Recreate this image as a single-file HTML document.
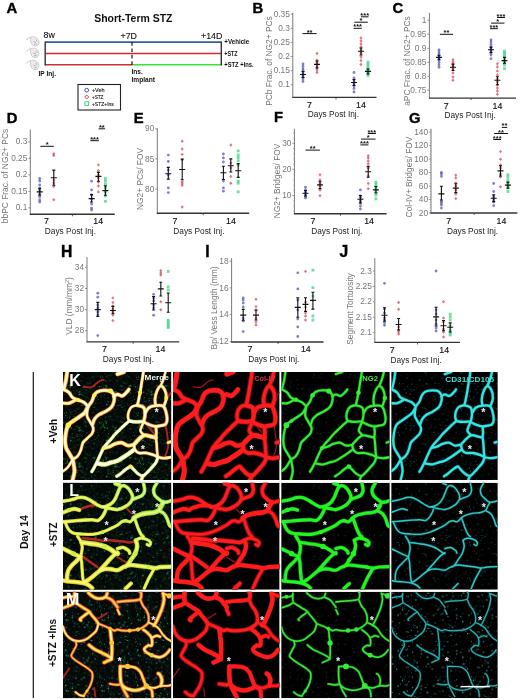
<!DOCTYPE html>
<html><head><meta charset="utf-8"><title>Short-Term STZ figure</title>
<style>
body{margin:0;background:#fff;}
svg{display:block}
text{font-family:'Liberation Sans',Arial,sans-serif}
.pl{font-size:14.8px;font-weight:bold;fill:#000;stroke:#000;stroke-width:0.4px}
.tk{font-size:8.3px;fill:#767676;text-anchor:end}
.xl{font-size:8.3px;fill:#222;text-anchor:middle}
.xn{font-size:8.8px;fill:#111;text-anchor:middle;stroke:#111;stroke-width:0.15px}
.yl{font-size:8.4px;fill:#757575;text-anchor:middle}
.st{font-size:7.5px;font-weight:bold;fill:#111;text-anchor:middle}
.ttl{font-size:11.3px;font-weight:bold;fill:#111}
.tl{font-size:8.8px;fill:#111;stroke:#111;stroke-width:0.12px}
.tb{font-size:6.6px;font-weight:bold;fill:#111}
.lg{font-size:5.8px;fill:#111;stroke:#111;stroke-width:0.12px}
.ml{font-size:16px;font-weight:bold;fill:#fff}
.rl{font-size:10.5px;font-weight:bold;fill:#111;text-anchor:middle}
</style></head>
<body><svg width="520" height="700" viewBox="0 0 520 700">
<rect width="520" height="700" fill="#fff"/>
<text x="6.5" y="12.6" class="pl">A</text>
<text x="94.2" y="21.9" class="ttl" textLength="78.3" lengthAdjust="spacingAndGlyphs">Short-Term STZ</text>
<text x="43.5" y="37.6" class="tl">8w</text>
<text x="120.5" y="39.2" class="tl">+7D</text>
<text x="201" y="38.8" class="tl">+14D</text>
<line x1="45.2" y1="42.1" x2="221.3" y2="42.1" stroke="#2e5fa0" stroke-width="1.6"/>
<line x1="45.2" y1="53.5" x2="221.3" y2="53.5" stroke="#d42a35" stroke-width="1.6"/>
<line x1="45.2" y1="64.7" x2="132" y2="64.7" stroke="#d42a35" stroke-width="1.6"/>
<line x1="132" y1="64.7" x2="221.3" y2="64.7" stroke="#3ee03a" stroke-width="1.6"/>
<line x1="45.2" y1="41.4" x2="45.2" y2="65.4" stroke="#333" stroke-width="1.4"/>
<line x1="221.3" y1="41.4" x2="221.3" y2="65.4" stroke="#333" stroke-width="1.4"/>
<line x1="132" y1="42" x2="132" y2="65.5" stroke="#1a1a1a" stroke-width="1.2" stroke-dasharray="3.7 2.7"/>
<text x="224.3" y="44.2" class="tb" textLength="25" lengthAdjust="spacingAndGlyphs">+Vehicle</text>
<text x="224.3" y="55.6" class="tb" textLength="13.3" lengthAdjust="spacingAndGlyphs">+STZ</text>
<text x="224.3" y="67" class="tb" textLength="29.4" lengthAdjust="spacingAndGlyphs">+STZ +Ins.</text>
<text x="131.5" y="74" class="tb">Ins.</text>
<text x="131.5" y="81.5" class="tb">Implant</text>
<text x="38.5" y="76.2" class="tb">IP Inj.</text>
<rect x="78" y="84.5" width="42.5" height="25.5" fill="#fff" stroke="#222" stroke-width="1.1"/>
<circle cx="86.7" cy="90.2" r="1.9" fill="none" stroke="#3a3ab0" stroke-width="0.9"/>
<path d="M86.7 95l2 2l-2 2l-2 -2z" fill="none" stroke="#d02b3a" stroke-width="0.9"/>
<rect x="84.9" y="101.8" width="3.6" height="3.6" fill="none" stroke="#2fd27a" stroke-width="0.9"/>
<text x="91.9" y="92.2" class="lg" textLength="12.7" lengthAdjust="spacingAndGlyphs">+Veh</text>
<text x="91.9" y="99" class="lg" textLength="11.6" lengthAdjust="spacingAndGlyphs">+STZ</text>
<text x="91.9" y="105.7" class="lg" textLength="21.9" lengthAdjust="spacingAndGlyphs">+STZ+Ins</text>
<g transform="translate(26,36)"><path d="M4.5 1.2C3 1.6 1.5 2.6 0.3 4" fill="none" stroke="#a8a8a8" stroke-width="0.7"/><path d="M4.6 1.4C6.5 0 9.8 0.6 11.6 2.6C13.4 4.6 13.4 7.6 11.8 9.2C10.2 10.6 7.4 10.4 6 8.8C4.8 7.4 4 3.4 4.6 1.4Z" fill="#ececec" stroke="#b4b4b4" stroke-width="0.6"/><path d="M7.5 5.5l2.5 1.2M9.8 3.6l1.4 1.8M8 8.4l2.6 -0.4" fill="none" stroke="#8a8a8a" stroke-width="0.6"/></g>
<g transform="translate(26,47.5)"><path d="M4.5 1.2C3 1.6 1.5 2.6 0.3 4" fill="none" stroke="#a8a8a8" stroke-width="0.7"/><path d="M4.6 1.4C6.5 0 9.8 0.6 11.6 2.6C13.4 4.6 13.4 7.6 11.8 9.2C10.2 10.6 7.4 10.4 6 8.8C4.8 7.4 4 3.4 4.6 1.4Z" fill="#ececec" stroke="#b4b4b4" stroke-width="0.6"/><path d="M7.5 5.5l2.5 1.2M9.8 3.6l1.4 1.8M8 8.4l2.6 -0.4" fill="none" stroke="#8a8a8a" stroke-width="0.6"/></g>
<g transform="translate(26,59.5)"><path d="M4.5 1.2C3 1.6 1.5 2.6 0.3 4" fill="none" stroke="#a8a8a8" stroke-width="0.7"/><path d="M4.6 1.4C6.5 0 9.8 0.6 11.6 2.6C13.4 4.6 13.4 7.6 11.8 9.2C10.2 10.6 7.4 10.4 6 8.8C4.8 7.4 4 3.4 4.6 1.4Z" fill="#ececec" stroke="#b4b4b4" stroke-width="0.6"/><path d="M7.5 5.5l2.5 1.2M9.8 3.6l1.4 1.8M8 8.4l2.6 -0.4" fill="none" stroke="#8a8a8a" stroke-width="0.6"/></g>
<text x="252.5" y="12.8" class="pl">B</text>
<line x1="292.8" y1="12.8" x2="292.8" y2="97.4" stroke="#7a7a7a" stroke-width="1"/>
<line x1="290.8" y1="14.1" x2="292.8" y2="14.1" stroke="#7a7a7a" stroke-width="0.8"/>
<text x="289.8" y="16.7" class="tk">0.35</text>
<line x1="290.8" y1="28.3" x2="292.8" y2="28.3" stroke="#7a7a7a" stroke-width="0.8"/>
<text x="289.8" y="30.900000000000002" class="tk">0.3</text>
<line x1="290.8" y1="42.4" x2="292.8" y2="42.4" stroke="#7a7a7a" stroke-width="0.8"/>
<text x="289.8" y="45.0" class="tk">0.25</text>
<line x1="290.8" y1="56.5" x2="292.8" y2="56.5" stroke="#7a7a7a" stroke-width="0.8"/>
<text x="289.8" y="59.1" class="tk">0.2</text>
<line x1="290.8" y1="70.6" x2="292.8" y2="70.6" stroke="#7a7a7a" stroke-width="0.8"/>
<text x="289.8" y="73.19999999999999" class="tk">0.15</text>
<line x1="290.8" y1="84.8" x2="292.8" y2="84.8" stroke="#7a7a7a" stroke-width="0.8"/>
<text x="289.8" y="87.39999999999999" class="tk">0.1</text>
<line x1="292.3" y1="97.4" x2="376.5" y2="97.4" stroke="#333" stroke-width="1.4"/>
<line x1="336" y1="97.4" x2="336" y2="99.4" stroke="#333" stroke-width="0.8"/>
<text x="309.5" y="107.8" class="xn">7</text>
<text x="361" y="107.8" class="xn">14</text>
<text x="307.8" y="117.2" class="xl" style="text-anchor:start">Days Post Inj.</text>
<text transform="translate(271.5,61) rotate(-90)" class="yl">PCb Frac. of NG2+ PCs</text>
<circle cx="303" cy="64" r="1.4" fill="#3a3ab0" opacity="0.65"/>
<circle cx="303" cy="66.5" r="1.4" fill="#3a3ab0" opacity="0.65"/>
<circle cx="303" cy="69" r="1.4" fill="#3a3ab0" opacity="0.65"/>
<circle cx="303" cy="71" r="1.4" fill="#3a3ab0" opacity="0.65"/>
<circle cx="303" cy="73" r="1.4" fill="#3a3ab0" opacity="0.65"/>
<circle cx="303" cy="75" r="1.4" fill="#3a3ab0" opacity="0.65"/>
<circle cx="303" cy="77" r="1.4" fill="#3a3ab0" opacity="0.65"/>
<circle cx="303" cy="79" r="1.4" fill="#3a3ab0" opacity="0.65"/>
<circle cx="303" cy="81.5" r="1.4" fill="#3a3ab0" opacity="0.65"/>
<path d="M303 71.5V77.5M301.5 71.5h3M301.5 77.5h3M300 74.5h6" stroke="#111" stroke-width="1.1" fill="none"/>
<path d="M317.0 51.8l1.6 1.7l-1.6 1.7l-1.6 -1.7z" fill="#d02b3a" opacity="0.65"/>
<path d="M317.0 58.3l1.6 1.7l-1.6 1.7l-1.6 -1.7z" fill="#d02b3a" opacity="0.65"/>
<path d="M317.0 60.3l1.6 1.7l-1.6 1.7l-1.6 -1.7z" fill="#d02b3a" opacity="0.65"/>
<path d="M317.0 62.3l1.6 1.7l-1.6 1.7l-1.6 -1.7z" fill="#d02b3a" opacity="0.65"/>
<path d="M317.0 64.3l1.6 1.7l-1.6 1.7l-1.6 -1.7z" fill="#d02b3a" opacity="0.65"/>
<path d="M317.0 66.3l1.6 1.7l-1.6 1.7l-1.6 -1.7z" fill="#d02b3a" opacity="0.65"/>
<path d="M317.0 68.3l1.6 1.7l-1.6 1.7l-1.6 -1.7z" fill="#d02b3a" opacity="0.65"/>
<path d="M317.0 70.8l1.6 1.7l-1.6 1.7l-1.6 -1.7z" fill="#d02b3a" opacity="0.65"/>
<path d="M317 61V68M315.5 61h3M315.5 68h3M314 64.4h6" stroke="#111" stroke-width="1.1" fill="none"/>
<circle cx="354" cy="72.5" r="1.4" fill="#3a3ab0" opacity="0.65"/>
<circle cx="354" cy="78" r="1.4" fill="#3a3ab0" opacity="0.65"/>
<circle cx="354" cy="81" r="1.4" fill="#3a3ab0" opacity="0.65"/>
<circle cx="354" cy="84" r="1.4" fill="#3a3ab0" opacity="0.65"/>
<circle cx="354" cy="86" r="1.4" fill="#3a3ab0" opacity="0.65"/>
<circle cx="354" cy="88.5" r="1.4" fill="#3a3ab0" opacity="0.65"/>
<circle cx="354" cy="92" r="1.4" fill="#3a3ab0" opacity="0.65"/>
<path d="M354 79.5V85.5M352.5 79.5h3M352.5 85.5h3M351 82.5h6" stroke="#111" stroke-width="1.1" fill="none"/>
<path d="M361.0 36.3l1.6 1.7l-1.6 1.7l-1.6 -1.7z" fill="#d02b3a" opacity="0.65"/>
<path d="M361.0 39.3l1.6 1.7l-1.6 1.7l-1.6 -1.7z" fill="#d02b3a" opacity="0.65"/>
<path d="M361.0 42.3l1.6 1.7l-1.6 1.7l-1.6 -1.7z" fill="#d02b3a" opacity="0.65"/>
<path d="M361.0 45.3l1.6 1.7l-1.6 1.7l-1.6 -1.7z" fill="#d02b3a" opacity="0.65"/>
<path d="M361.0 48.3l1.6 1.7l-1.6 1.7l-1.6 -1.7z" fill="#d02b3a" opacity="0.65"/>
<path d="M361.0 51.3l1.6 1.7l-1.6 1.7l-1.6 -1.7z" fill="#d02b3a" opacity="0.65"/>
<path d="M361.0 55.3l1.6 1.7l-1.6 1.7l-1.6 -1.7z" fill="#d02b3a" opacity="0.65"/>
<path d="M361.0 58.8l1.6 1.7l-1.6 1.7l-1.6 -1.7z" fill="#d02b3a" opacity="0.65"/>
<path d="M361.0 62.8l1.6 1.7l-1.6 1.7l-1.6 -1.7z" fill="#d02b3a" opacity="0.65"/>
<path d="M361 48V55M359.5 48h3M359.5 55h3M358 51.2h6" stroke="#111" stroke-width="1.1" fill="none"/>
<rect x="366.6" y="60.6" width="2.8" height="2.8" fill="#2fd27a" opacity="0.7"/>
<rect x="366.6" y="62.6" width="2.8" height="2.8" fill="#2fd27a" opacity="0.7"/>
<rect x="366.6" y="64.6" width="2.8" height="2.8" fill="#2fd27a" opacity="0.7"/>
<rect x="366.6" y="66.6" width="2.8" height="2.8" fill="#2fd27a" opacity="0.7"/>
<rect x="366.6" y="68.6" width="2.8" height="2.8" fill="#2fd27a" opacity="0.7"/>
<rect x="366.6" y="70.6" width="2.8" height="2.8" fill="#2fd27a" opacity="0.7"/>
<rect x="366.6" y="72.1" width="2.8" height="2.8" fill="#2fd27a" opacity="0.7"/>
<rect x="366.6" y="74.1" width="2.8" height="2.8" fill="#2fd27a" opacity="0.7"/>
<path d="M368 69V74M366.5 69h3M366.5 74h3M365 71.4h6" stroke="#111" stroke-width="1.1" fill="none"/>
<line x1="302.5" y1="33.6" x2="316.6" y2="33.6" stroke="#111" stroke-width="1"/>
<text x="309.55" y="34.6" class="st">**</text>
<line x1="353.6" y1="28.3" x2="361.7" y2="28.3" stroke="#111" stroke-width="1"/>
<text x="357.65" y="29.3" class="st">***</text>
<line x1="354.3" y1="22.2" x2="367.8" y2="22.2" stroke="#111" stroke-width="1"/>
<text x="361.05" y="23.2" class="st">*</text>
<line x1="361" y1="16.8" x2="368.5" y2="16.8" stroke="#111" stroke-width="1"/>
<text x="364.75" y="17.8" class="st">***</text>
<text x="392.5" y="13.2" class="pl">C</text>
<line x1="429.4" y1="12.8" x2="429.4" y2="98.1" stroke="#7a7a7a" stroke-width="1"/>
<line x1="427.4" y1="20.2" x2="429.4" y2="20.2" stroke="#7a7a7a" stroke-width="0.8"/>
<text x="426.4" y="22.8" class="tk">1</text>
<line x1="427.4" y1="34.3" x2="429.4" y2="34.3" stroke="#7a7a7a" stroke-width="0.8"/>
<text x="426.4" y="36.9" class="tk">0.95</text>
<line x1="427.4" y1="48.4" x2="429.4" y2="48.4" stroke="#7a7a7a" stroke-width="0.8"/>
<text x="426.4" y="51.0" class="tk">0.9</text>
<line x1="427.4" y1="62.4" x2="429.4" y2="62.4" stroke="#7a7a7a" stroke-width="0.8"/>
<text x="426.4" y="65.0" class="tk">0.85</text>
<line x1="427.4" y1="76.3" x2="429.4" y2="76.3" stroke="#7a7a7a" stroke-width="0.8"/>
<text x="426.4" y="78.89999999999999" class="tk">0.8</text>
<line x1="427.4" y1="90.3" x2="429.4" y2="90.3" stroke="#7a7a7a" stroke-width="0.8"/>
<text x="426.4" y="92.89999999999999" class="tk">0.75</text>
<line x1="428.9" y1="98.1" x2="516" y2="98.1" stroke="#333" stroke-width="1.4"/>
<line x1="471" y1="98.1" x2="471" y2="100.1" stroke="#333" stroke-width="0.8"/>
<text x="446.2" y="108.5" class="xn">7</text>
<text x="497.4" y="108.5" class="xn">14</text>
<text x="444.5" y="118.4" class="xl" style="text-anchor:start">Days Post Inj.</text>
<text transform="translate(409.5,61) rotate(-90)" class="yl">aPC Frac. of NG2+ PCs</text>
<circle cx="439" cy="49.8" r="1.4" fill="#3a3ab0" opacity="0.65"/>
<circle cx="439" cy="52" r="1.4" fill="#3a3ab0" opacity="0.65"/>
<circle cx="439" cy="54" r="1.4" fill="#3a3ab0" opacity="0.65"/>
<circle cx="439" cy="56" r="1.4" fill="#3a3ab0" opacity="0.65"/>
<circle cx="439" cy="58" r="1.4" fill="#3a3ab0" opacity="0.65"/>
<circle cx="439" cy="60" r="1.4" fill="#3a3ab0" opacity="0.65"/>
<circle cx="439" cy="62.5" r="1.4" fill="#3a3ab0" opacity="0.65"/>
<circle cx="439" cy="65" r="1.4" fill="#3a3ab0" opacity="0.65"/>
<circle cx="439" cy="67.3" r="1.4" fill="#3a3ab0" opacity="0.65"/>
<path d="M439 55.2V59.8M437.5 55.2h3M437.5 59.8h3M436 57.4h6" stroke="#111" stroke-width="1.1" fill="none"/>
<path d="M453.0 58.1l1.6 1.7l-1.6 1.7l-1.6 -1.7z" fill="#d02b3a" opacity="0.65"/>
<path d="M453.0 60.3l1.6 1.7l-1.6 1.7l-1.6 -1.7z" fill="#d02b3a" opacity="0.65"/>
<path d="M453.0 62.3l1.6 1.7l-1.6 1.7l-1.6 -1.7z" fill="#d02b3a" opacity="0.65"/>
<path d="M453.0 64.3l1.6 1.7l-1.6 1.7l-1.6 -1.7z" fill="#d02b3a" opacity="0.65"/>
<path d="M453.0 66.3l1.6 1.7l-1.6 1.7l-1.6 -1.7z" fill="#d02b3a" opacity="0.65"/>
<path d="M453.0 68.3l1.6 1.7l-1.6 1.7l-1.6 -1.7z" fill="#d02b3a" opacity="0.65"/>
<path d="M453.0 71.3l1.6 1.7l-1.6 1.7l-1.6 -1.7z" fill="#d02b3a" opacity="0.65"/>
<path d="M453.0 75.3l1.6 1.7l-1.6 1.7l-1.6 -1.7z" fill="#d02b3a" opacity="0.65"/>
<path d="M453.0 78.5l1.6 1.7l-1.6 1.7l-1.6 -1.7z" fill="#d02b3a" opacity="0.65"/>
<path d="M453 64.1V70.5M451.5 64.1h3M451.5 70.5h3M450 67.3h6" stroke="#111" stroke-width="1.1" fill="none"/>
<circle cx="491" cy="39.8" r="1.4" fill="#3a3ab0" opacity="0.65"/>
<circle cx="491" cy="42" r="1.4" fill="#3a3ab0" opacity="0.65"/>
<circle cx="491" cy="44.5" r="1.4" fill="#3a3ab0" opacity="0.65"/>
<circle cx="491" cy="47" r="1.4" fill="#3a3ab0" opacity="0.65"/>
<circle cx="491" cy="49" r="1.4" fill="#3a3ab0" opacity="0.65"/>
<circle cx="491" cy="51" r="1.4" fill="#3a3ab0" opacity="0.65"/>
<circle cx="491" cy="53" r="1.4" fill="#3a3ab0" opacity="0.65"/>
<circle cx="491" cy="55" r="1.4" fill="#3a3ab0" opacity="0.65"/>
<circle cx="491" cy="58.7" r="1.4" fill="#3a3ab0" opacity="0.65"/>
<path d="M491 47.1V52.5M489.5 47.1h3M489.5 52.5h3M488 49.8h6" stroke="#111" stroke-width="1.1" fill="none"/>
<path d="M497.4 62.1l1.6 1.7l-1.6 1.7l-1.6 -1.7z" fill="#d02b3a" opacity="0.65"/>
<path d="M497.4 65.3l1.6 1.7l-1.6 1.7l-1.6 -1.7z" fill="#d02b3a" opacity="0.65"/>
<path d="M497.4 69.3l1.6 1.7l-1.6 1.7l-1.6 -1.7z" fill="#d02b3a" opacity="0.65"/>
<path d="M497.4 73.3l1.6 1.7l-1.6 1.7l-1.6 -1.7z" fill="#d02b3a" opacity="0.65"/>
<path d="M497.4 77.3l1.6 1.7l-1.6 1.7l-1.6 -1.7z" fill="#d02b3a" opacity="0.65"/>
<path d="M497.4 80.3l1.6 1.7l-1.6 1.7l-1.6 -1.7z" fill="#d02b3a" opacity="0.65"/>
<path d="M497.4 83.3l1.6 1.7l-1.6 1.7l-1.6 -1.7z" fill="#d02b3a" opacity="0.65"/>
<path d="M497.4 86.3l1.6 1.7l-1.6 1.7l-1.6 -1.7z" fill="#d02b3a" opacity="0.65"/>
<path d="M497.4 89.3l1.6 1.7l-1.6 1.7l-1.6 -1.7z" fill="#d02b3a" opacity="0.65"/>
<path d="M497.4 92.5l1.6 1.7l-1.6 1.7l-1.6 -1.7z" fill="#d02b3a" opacity="0.65"/>
<path d="M497.4 76.7V84.8M495.9 76.7h3M495.9 84.8h3M494.4 80.2h6" stroke="#111" stroke-width="1.1" fill="none"/>
<rect x="503.1" y="49.8" width="2.8" height="2.8" fill="#2fd27a" opacity="0.7"/>
<rect x="503.1" y="51.6" width="2.8" height="2.8" fill="#2fd27a" opacity="0.7"/>
<rect x="503.1" y="53.6" width="2.8" height="2.8" fill="#2fd27a" opacity="0.7"/>
<rect x="503.1" y="55.6" width="2.8" height="2.8" fill="#2fd27a" opacity="0.7"/>
<rect x="503.1" y="57.6" width="2.8" height="2.8" fill="#2fd27a" opacity="0.7"/>
<rect x="503.1" y="59.6" width="2.8" height="2.8" fill="#2fd27a" opacity="0.7"/>
<rect x="503.1" y="61.6" width="2.8" height="2.8" fill="#2fd27a" opacity="0.7"/>
<rect x="503.1" y="63.6" width="2.8" height="2.8" fill="#2fd27a" opacity="0.7"/>
<rect x="503.1" y="67.3" width="2.8" height="2.8" fill="#2fd27a" opacity="0.7"/>
<path d="M504.5 57.4V63.3M503.0 57.4h3M503.0 63.3h3M501.5 60.6h6" stroke="#111" stroke-width="1.1" fill="none"/>
<line x1="439.9" y1="34.3" x2="453" y2="34.3" stroke="#111" stroke-width="1"/>
<text x="446.45" y="35.3" class="st">**</text>
<line x1="490" y1="28.7" x2="497.8" y2="28.7" stroke="#111" stroke-width="1"/>
<text x="493.9" y="29.7" class="st">***</text>
<line x1="491" y1="23.1" x2="504.5" y2="23.1" stroke="#111" stroke-width="1"/>
<text x="497.75" y="24.1" class="st">*</text>
<line x1="497" y1="17.5" x2="505" y2="17.5" stroke="#111" stroke-width="1"/>
<text x="501.0" y="18.5" class="st">***</text>
<text x="6.7" y="122.8" class="pl">D</text>
<line x1="30.3" y1="129.5" x2="30.3" y2="214.3" stroke="#7a7a7a" stroke-width="1"/>
<line x1="28.3" y1="141.8" x2="30.3" y2="141.8" stroke="#7a7a7a" stroke-width="0.8"/>
<text x="27.3" y="144.4" class="tk">0.3</text>
<line x1="28.3" y1="158.3" x2="30.3" y2="158.3" stroke="#7a7a7a" stroke-width="0.8"/>
<text x="27.3" y="160.9" class="tk">0.25</text>
<line x1="28.3" y1="174.8" x2="30.3" y2="174.8" stroke="#7a7a7a" stroke-width="0.8"/>
<text x="27.3" y="177.4" class="tk">0.2</text>
<line x1="28.3" y1="191.3" x2="30.3" y2="191.3" stroke="#7a7a7a" stroke-width="0.8"/>
<text x="27.3" y="193.9" class="tk">0.15</text>
<line x1="28.3" y1="207.8" x2="30.3" y2="207.8" stroke="#7a7a7a" stroke-width="0.8"/>
<text x="27.3" y="210.4" class="tk">0.1</text>
<line x1="29.8" y1="214.3" x2="114.8" y2="214.3" stroke="#333" stroke-width="1.4"/>
<line x1="72.4" y1="214.3" x2="72.4" y2="216.3" stroke="#333" stroke-width="0.8"/>
<text x="46.5" y="224.2" class="xn">7</text>
<text x="98.2" y="224.2" class="xn">14</text>
<text x="44.8" y="234" class="xl" style="text-anchor:start">Days Post Inj.</text>
<text transform="translate(8.4,176) rotate(-90)" class="yl">bbPC Frac. of NG2+ PCs</text>
<circle cx="39.7" cy="178.5" r="1.4" fill="#3a3ab0" opacity="0.65"/>
<circle cx="39.7" cy="181" r="1.4" fill="#3a3ab0" opacity="0.65"/>
<circle cx="39.7" cy="185" r="1.4" fill="#3a3ab0" opacity="0.65"/>
<circle cx="39.7" cy="188" r="1.4" fill="#3a3ab0" opacity="0.65"/>
<circle cx="39.7" cy="191" r="1.4" fill="#3a3ab0" opacity="0.65"/>
<circle cx="39.7" cy="194" r="1.4" fill="#3a3ab0" opacity="0.65"/>
<circle cx="39.7" cy="197" r="1.4" fill="#3a3ab0" opacity="0.65"/>
<circle cx="39.7" cy="200" r="1.4" fill="#3a3ab0" opacity="0.65"/>
<circle cx="39.7" cy="202" r="1.4" fill="#3a3ab0" opacity="0.65"/>
<path d="M39.7 188.6V195.3M38.2 188.6h3M38.2 195.3h3M36.7 191.9h6" stroke="#111" stroke-width="1.1" fill="none"/>
<path d="M53.8 152.0l1.6 1.7l-1.6 1.7l-1.6 -1.7z" fill="#d02b3a" opacity="0.65"/>
<path d="M53.8 153.8l1.6 1.7l-1.6 1.7l-1.6 -1.7z" fill="#d02b3a" opacity="0.65"/>
<path d="M53.8 178.3l1.6 1.7l-1.6 1.7l-1.6 -1.7z" fill="#d02b3a" opacity="0.65"/>
<path d="M53.8 181.3l1.6 1.7l-1.6 1.7l-1.6 -1.7z" fill="#d02b3a" opacity="0.65"/>
<path d="M53.8 184.8l1.6 1.7l-1.6 1.7l-1.6 -1.7z" fill="#d02b3a" opacity="0.65"/>
<path d="M53.8 198.0l1.6 1.7l-1.6 1.7l-1.6 -1.7z" fill="#d02b3a" opacity="0.65"/>
<path d="M53.8 170.1V185.2M52.3 170.1h3M52.3 185.2h3M50.8 177.8h6" stroke="#111" stroke-width="1.1" fill="none"/>
<circle cx="91.6" cy="181.2" r="1.4" fill="#3a3ab0" opacity="0.65"/>
<circle cx="91.6" cy="189.9" r="1.4" fill="#3a3ab0" opacity="0.65"/>
<circle cx="91.6" cy="195" r="1.4" fill="#3a3ab0" opacity="0.65"/>
<circle cx="91.6" cy="199" r="1.4" fill="#3a3ab0" opacity="0.65"/>
<circle cx="91.6" cy="204" r="1.4" fill="#3a3ab0" opacity="0.65"/>
<circle cx="91.6" cy="208.1" r="1.4" fill="#3a3ab0" opacity="0.65"/>
<circle cx="91.6" cy="210" r="1.4" fill="#3a3ab0" opacity="0.65"/>
<path d="M91.6 194.6V202M90.1 194.6h3M90.1 202h3M88.6 198.6h6" stroke="#111" stroke-width="1.1" fill="none"/>
<path d="M98.4 163.2l1.6 1.7l-1.6 1.7l-1.6 -1.7z" fill="#d02b3a" opacity="0.65"/>
<path d="M98.4 168.9l1.6 1.7l-1.6 1.7l-1.6 -1.7z" fill="#d02b3a" opacity="0.65"/>
<path d="M98.4 173.3l1.6 1.7l-1.6 1.7l-1.6 -1.7z" fill="#d02b3a" opacity="0.65"/>
<path d="M98.4 176.3l1.6 1.7l-1.6 1.7l-1.6 -1.7z" fill="#d02b3a" opacity="0.65"/>
<path d="M98.4 180.3l1.6 1.7l-1.6 1.7l-1.6 -1.7z" fill="#d02b3a" opacity="0.65"/>
<path d="M98.4 184.3l1.6 1.7l-1.6 1.7l-1.6 -1.7z" fill="#d02b3a" opacity="0.65"/>
<path d="M98.4 190.2l1.6 1.7l-1.6 1.7l-1.6 -1.7z" fill="#d02b3a" opacity="0.65"/>
<path d="M98.4 172.4V181.2M96.9 172.4h3M96.9 181.2h3M95.4 176.4h6" stroke="#111" stroke-width="1.1" fill="none"/>
<rect x="104.0" y="177.1" width="2.8" height="2.8" fill="#2fd27a" opacity="0.7"/>
<rect x="104.0" y="179.6" width="2.8" height="2.8" fill="#2fd27a" opacity="0.7"/>
<rect x="104.0" y="182.6" width="2.8" height="2.8" fill="#2fd27a" opacity="0.7"/>
<rect x="104.0" y="186.6" width="2.8" height="2.8" fill="#2fd27a" opacity="0.7"/>
<rect x="104.0" y="190.6" width="2.8" height="2.8" fill="#2fd27a" opacity="0.7"/>
<rect x="104.0" y="194.6" width="2.8" height="2.8" fill="#2fd27a" opacity="0.7"/>
<rect x="104.0" y="199.9" width="2.8" height="2.8" fill="#2fd27a" opacity="0.7"/>
<path d="M105.4 185.9V195.3M103.9 185.9h3M103.9 195.3h3M102.4 190.6h6" stroke="#111" stroke-width="1.1" fill="none"/>
<line x1="40.4" y1="146.3" x2="53.8" y2="146.3" stroke="#111" stroke-width="1"/>
<text x="47.099999999999994" y="147.3" class="st">*</text>
<line x1="90.3" y1="140.7" x2="98.9" y2="140.7" stroke="#111" stroke-width="1"/>
<text x="94.6" y="141.7" class="st">***</text>
<line x1="98.6" y1="128.8" x2="105.1" y2="128.8" stroke="#111" stroke-width="1"/>
<text x="101.85" y="129.8" class="st">**</text>
<text x="133.7" y="122.8" class="pl">E</text>
<line x1="157.3" y1="128.2" x2="157.3" y2="213.3" stroke="#7a7a7a" stroke-width="1"/>
<line x1="155.3" y1="128.8" x2="157.3" y2="128.8" stroke="#7a7a7a" stroke-width="0.8"/>
<text x="154.3" y="131.4" class="tk">90</text>
<line x1="155.3" y1="158.9" x2="157.3" y2="158.9" stroke="#7a7a7a" stroke-width="0.8"/>
<text x="154.3" y="161.5" class="tk">85</text>
<line x1="155.3" y1="189.2" x2="157.3" y2="189.2" stroke="#7a7a7a" stroke-width="0.8"/>
<text x="154.3" y="191.79999999999998" class="tk">80</text>
<line x1="156.8" y1="213.3" x2="249.2" y2="213.3" stroke="#333" stroke-width="1.4"/>
<line x1="203.2" y1="213.3" x2="203.2" y2="215.3" stroke="#333" stroke-width="0.8"/>
<text x="175" y="224" class="xn">7</text>
<text x="231" y="224" class="xn">14</text>
<text x="173.3" y="234" class="xl" style="text-anchor:start">Days Post Inj.</text>
<text transform="translate(142.5,179) rotate(-90)" class="yl">NG2+ PCs/ FOV</text>
<circle cx="168.3" cy="155.1" r="1.4" fill="#3a3ab0" opacity="0.65"/>
<circle cx="168.3" cy="161.5" r="1.4" fill="#3a3ab0" opacity="0.65"/>
<circle cx="168.3" cy="170" r="1.4" fill="#3a3ab0" opacity="0.65"/>
<circle cx="168.3" cy="175" r="1.4" fill="#3a3ab0" opacity="0.65"/>
<circle cx="168.3" cy="187.9" r="1.4" fill="#3a3ab0" opacity="0.65"/>
<circle cx="168.3" cy="192.6" r="1.4" fill="#3a3ab0" opacity="0.65"/>
<path d="M168.3 167.4V179.1M166.8 167.4h3M166.8 179.1h3M165.3 173.7h6" stroke="#111" stroke-width="1.1" fill="none"/>
<path d="M182.2 139.5l1.6 1.7l-1.6 1.7l-1.6 -1.7z" fill="#d02b3a" opacity="0.65"/>
<path d="M182.2 147.3l1.6 1.7l-1.6 1.7l-1.6 -1.7z" fill="#d02b3a" opacity="0.65"/>
<path d="M182.2 152.7l1.6 1.7l-1.6 1.7l-1.6 -1.7z" fill="#d02b3a" opacity="0.65"/>
<path d="M182.2 158.3l1.6 1.7l-1.6 1.7l-1.6 -1.7z" fill="#d02b3a" opacity="0.65"/>
<path d="M182.2 180.1l1.6 1.7l-1.6 1.7l-1.6 -1.7z" fill="#d02b3a" opacity="0.65"/>
<path d="M182.2 181.8l1.6 1.7l-1.6 1.7l-1.6 -1.7z" fill="#d02b3a" opacity="0.65"/>
<path d="M182.2 183.5l1.6 1.7l-1.6 1.7l-1.6 -1.7z" fill="#d02b3a" opacity="0.65"/>
<path d="M182.2 205.3l1.6 1.7l-1.6 1.7l-1.6 -1.7z" fill="#d02b3a" opacity="0.65"/>
<path d="M182.2 159.1V179.8M180.7 159.1h3M180.7 179.8h3M179.2 169.5h6" stroke="#111" stroke-width="1.1" fill="none"/>
<circle cx="223.4" cy="154" r="1.4" fill="#3a3ab0" opacity="0.65"/>
<circle cx="223.4" cy="157.9" r="1.4" fill="#3a3ab0" opacity="0.65"/>
<circle cx="223.4" cy="162" r="1.4" fill="#3a3ab0" opacity="0.65"/>
<circle cx="223.4" cy="181.1" r="1.4" fill="#3a3ab0" opacity="0.65"/>
<circle cx="223.4" cy="187.9" r="1.4" fill="#3a3ab0" opacity="0.65"/>
<circle cx="223.4" cy="191.2" r="1.4" fill="#3a3ab0" opacity="0.65"/>
<path d="M223.4 166.3V179.5M221.9 166.3h3M221.9 179.5h3M220.4 172.8h6" stroke="#111" stroke-width="1.1" fill="none"/>
<path d="M230.8 143.3l1.6 1.7l-1.6 1.7l-1.6 -1.7z" fill="#d02b3a" opacity="0.65"/>
<path d="M230.8 161.3l1.6 1.7l-1.6 1.7l-1.6 -1.7z" fill="#d02b3a" opacity="0.65"/>
<path d="M230.8 166.3l1.6 1.7l-1.6 1.7l-1.6 -1.7z" fill="#d02b3a" opacity="0.65"/>
<path d="M230.8 174.7l1.6 1.7l-1.6 1.7l-1.6 -1.7z" fill="#d02b3a" opacity="0.65"/>
<path d="M230.8 181.5l1.6 1.7l-1.6 1.7l-1.6 -1.7z" fill="#d02b3a" opacity="0.65"/>
<path d="M230.8 158.9V172M229.3 158.9h3M229.3 172h3M227.8 165.7h6" stroke="#111" stroke-width="1.1" fill="none"/>
<rect x="236.8" y="149.5" width="2.8" height="2.8" fill="#2fd27a" opacity="0.7"/>
<rect x="236.8" y="153.6" width="2.8" height="2.8" fill="#2fd27a" opacity="0.7"/>
<rect x="236.8" y="156.2" width="2.8" height="2.8" fill="#2fd27a" opacity="0.7"/>
<rect x="236.8" y="159.3" width="2.8" height="2.8" fill="#2fd27a" opacity="0.7"/>
<rect x="236.8" y="163.6" width="2.8" height="2.8" fill="#2fd27a" opacity="0.7"/>
<rect x="236.8" y="179.6" width="2.8" height="2.8" fill="#2fd27a" opacity="0.7"/>
<rect x="236.8" y="181.8" width="2.8" height="2.8" fill="#2fd27a" opacity="0.7"/>
<rect x="236.8" y="190.5" width="2.8" height="2.8" fill="#2fd27a" opacity="0.7"/>
<path d="M238.2 163.6V177.4M236.7 163.6h3M236.7 177.4h3M235.2 170.8h6" stroke="#111" stroke-width="1.1" fill="none"/>
<text x="274" y="122.3" class="pl">F</text>
<line x1="294.4" y1="128.8" x2="294.4" y2="213.7" stroke="#7a7a7a" stroke-width="1"/>
<line x1="292.4" y1="143.2" x2="294.4" y2="143.2" stroke="#7a7a7a" stroke-width="0.8"/>
<text x="291.4" y="145.79999999999998" class="tk">30</text>
<line x1="292.4" y1="169.4" x2="294.4" y2="169.4" stroke="#7a7a7a" stroke-width="0.8"/>
<text x="291.4" y="172.0" class="tk">20</text>
<line x1="292.4" y1="195.5" x2="294.4" y2="195.5" stroke="#7a7a7a" stroke-width="0.8"/>
<text x="291.4" y="198.1" class="tk">10</text>
<path d="M293.2 132.7h1.2M293.2 138.0h1.2M293.2 148.4h1.2M293.2 153.7h1.2M293.2 158.9h1.2M293.2 164.2h1.2M293.2 174.6h1.2M293.2 179.9h1.2M293.2 185.1h1.2M293.2 190.4h1.2M293.2 200.8h1.2M293.2 206.1h1.2M293.2 211.3h1.2" stroke="#8a8a8a" stroke-width="0.6"/>
<line x1="293.9" y1="213.7" x2="386.6" y2="213.7" stroke="#333" stroke-width="1.4"/>
<line x1="340.5" y1="213.7" x2="340.5" y2="215.7" stroke="#333" stroke-width="0.8"/>
<text x="312.9" y="224.2" class="xn">7</text>
<text x="369.1" y="224.2" class="xn">14</text>
<text x="311.2" y="234.2" class="xl" style="text-anchor:start">Days Post Inj.</text>
<text transform="translate(279.5,181) rotate(-90)" class="yl">NG2+ Bridges/ FOV</text>
<circle cx="305.5" cy="187.2" r="1.4" fill="#3a3ab0" opacity="0.65"/>
<circle cx="305.5" cy="190" r="1.4" fill="#3a3ab0" opacity="0.65"/>
<circle cx="305.5" cy="192" r="1.4" fill="#3a3ab0" opacity="0.65"/>
<circle cx="305.5" cy="194" r="1.4" fill="#3a3ab0" opacity="0.65"/>
<circle cx="305.5" cy="196" r="1.4" fill="#3a3ab0" opacity="0.65"/>
<circle cx="305.5" cy="198" r="1.4" fill="#3a3ab0" opacity="0.65"/>
<path d="M305.5 190.5V196M304.0 190.5h3M304.0 196h3M302.5 193.3h6" stroke="#111" stroke-width="1.1" fill="none"/>
<path d="M320.0 173.0l1.6 1.7l-1.6 1.7l-1.6 -1.7z" fill="#d02b3a" opacity="0.65"/>
<path d="M320.0 178.3l1.6 1.7l-1.6 1.7l-1.6 -1.7z" fill="#d02b3a" opacity="0.65"/>
<path d="M320.0 181.3l1.6 1.7l-1.6 1.7l-1.6 -1.7z" fill="#d02b3a" opacity="0.65"/>
<path d="M320.0 184.3l1.6 1.7l-1.6 1.7l-1.6 -1.7z" fill="#d02b3a" opacity="0.65"/>
<path d="M320.0 188.3l1.6 1.7l-1.6 1.7l-1.6 -1.7z" fill="#d02b3a" opacity="0.65"/>
<path d="M320.0 194.0l1.6 1.7l-1.6 1.7l-1.6 -1.7z" fill="#d02b3a" opacity="0.65"/>
<path d="M320 181.2V188.6M318.5 181.2h3M318.5 188.6h3M317 184.9h6" stroke="#111" stroke-width="1.1" fill="none"/>
<circle cx="360.4" cy="189.9" r="1.4" fill="#3a3ab0" opacity="0.65"/>
<circle cx="360.4" cy="196" r="1.4" fill="#3a3ab0" opacity="0.65"/>
<circle cx="360.4" cy="198" r="1.4" fill="#3a3ab0" opacity="0.65"/>
<circle cx="360.4" cy="201" r="1.4" fill="#3a3ab0" opacity="0.65"/>
<circle cx="360.4" cy="203" r="1.4" fill="#3a3ab0" opacity="0.65"/>
<circle cx="360.4" cy="206" r="1.4" fill="#3a3ab0" opacity="0.65"/>
<circle cx="360.4" cy="209" r="1.4" fill="#3a3ab0" opacity="0.65"/>
<path d="M360.4 195.5V203M358.9 195.5h3M358.9 203h3M357.4 199.3h6" stroke="#111" stroke-width="1.1" fill="none"/>
<path d="M368.2 154.0l1.6 1.7l-1.6 1.7l-1.6 -1.7z" fill="#d02b3a" opacity="0.65"/>
<path d="M368.2 156.3l1.6 1.7l-1.6 1.7l-1.6 -1.7z" fill="#d02b3a" opacity="0.65"/>
<path d="M368.2 159.3l1.6 1.7l-1.6 1.7l-1.6 -1.7z" fill="#d02b3a" opacity="0.65"/>
<path d="M368.2 162.0l1.6 1.7l-1.6 1.7l-1.6 -1.7z" fill="#d02b3a" opacity="0.65"/>
<path d="M368.2 166.3l1.6 1.7l-1.6 1.7l-1.6 -1.7z" fill="#d02b3a" opacity="0.65"/>
<path d="M368.2 174.3l1.6 1.7l-1.6 1.7l-1.6 -1.7z" fill="#d02b3a" opacity="0.65"/>
<path d="M368.2 181.8l1.6 1.7l-1.6 1.7l-1.6 -1.7z" fill="#d02b3a" opacity="0.65"/>
<path d="M368.2 187.1l1.6 1.7l-1.6 1.7l-1.6 -1.7z" fill="#d02b3a" opacity="0.65"/>
<path d="M368.2 166.4V177.2M366.7 166.4h3M366.7 177.2h3M365.2 171.8h6" stroke="#111" stroke-width="1.1" fill="none"/>
<rect x="374.5" y="180.7" width="2.8" height="2.8" fill="#2fd27a" opacity="0.7"/>
<rect x="374.5" y="182.6" width="2.8" height="2.8" fill="#2fd27a" opacity="0.7"/>
<rect x="374.5" y="185.1" width="2.8" height="2.8" fill="#2fd27a" opacity="0.7"/>
<rect x="374.5" y="187.6" width="2.8" height="2.8" fill="#2fd27a" opacity="0.7"/>
<rect x="374.5" y="190.6" width="2.8" height="2.8" fill="#2fd27a" opacity="0.7"/>
<rect x="374.5" y="193.6" width="2.8" height="2.8" fill="#2fd27a" opacity="0.7"/>
<rect x="374.5" y="197.5" width="2.8" height="2.8" fill="#2fd27a" opacity="0.7"/>
<path d="M375.9 186.5V193M374.4 186.5h3M374.4 193h3M372.9 189.9h6" stroke="#111" stroke-width="1.1" fill="none"/>
<line x1="305.5" y1="150.1" x2="319.9" y2="150.1" stroke="#111" stroke-width="1"/>
<text x="312.7" y="151.1" class="st">**</text>
<line x1="360.4" y1="144.9" x2="368.5" y2="144.9" stroke="#111" stroke-width="1"/>
<text x="364.45" y="145.9" class="st">***</text>
<line x1="361" y1="139.1" x2="375.5" y2="139.1" stroke="#111" stroke-width="1"/>
<text x="368.25" y="140.1" class="st">*</text>
<line x1="367.8" y1="133.5" x2="375.9" y2="133.5" stroke="#111" stroke-width="1"/>
<text x="371.85" y="134.5" class="st">***</text>
<text x="409.1" y="122.8" class="pl">G</text>
<line x1="431" y1="128.8" x2="431" y2="213" stroke="#7a7a7a" stroke-width="1"/>
<line x1="429" y1="132.2" x2="431" y2="132.2" stroke="#7a7a7a" stroke-width="0.8"/>
<text x="428" y="134.79999999999998" class="tk">140</text>
<line x1="429" y1="145.7" x2="431" y2="145.7" stroke="#7a7a7a" stroke-width="0.8"/>
<text x="428" y="148.29999999999998" class="tk">120</text>
<line x1="429" y1="159.1" x2="431" y2="159.1" stroke="#7a7a7a" stroke-width="0.8"/>
<text x="428" y="161.7" class="tk">100</text>
<line x1="429" y1="172.6" x2="431" y2="172.6" stroke="#7a7a7a" stroke-width="0.8"/>
<text x="428" y="175.2" class="tk">80</text>
<line x1="429" y1="186.1" x2="431" y2="186.1" stroke="#7a7a7a" stroke-width="0.8"/>
<text x="428" y="188.7" class="tk">60</text>
<line x1="429" y1="199.6" x2="431" y2="199.6" stroke="#7a7a7a" stroke-width="0.8"/>
<text x="428" y="202.2" class="tk">40</text>
<line x1="429" y1="213" x2="431" y2="213" stroke="#7a7a7a" stroke-width="0.8"/>
<text x="428" y="215.6" class="tk">20</text>
<path d="M429.8 129.5h1.2M429.8 134.9h1.2M429.8 137.6h1.2M429.8 140.3h1.2M429.8 143.0h1.2M429.8 148.4h1.2M429.8 151.1h1.2M429.8 153.8h1.2M429.8 156.5h1.2M429.8 161.9h1.2M429.8 164.6h1.2M429.8 167.3h1.2M429.8 170.0h1.2M429.8 175.4h1.2M429.8 178.1h1.2M429.8 180.8h1.2M429.8 183.5h1.2M429.8 188.9h1.2M429.8 191.6h1.2M429.8 194.3h1.2M429.8 197.0h1.2M429.8 202.4h1.2M429.8 205.1h1.2M429.8 207.8h1.2M429.8 210.5h1.2" stroke="#8a8a8a" stroke-width="0.6"/>
<line x1="430.5" y1="213" x2="517.3" y2="213" stroke="#333" stroke-width="1.4"/>
<line x1="474.2" y1="213" x2="474.2" y2="215" stroke="#333" stroke-width="0.8"/>
<text x="448.6" y="223.7" class="xn">7</text>
<text x="501.4" y="223.7" class="xn">14</text>
<text x="446.9" y="233.8" class="xl" style="text-anchor:start">Days Post Inj.</text>
<text transform="translate(411.6,177) rotate(-90)" class="yl">Col-IV+ Bridges/ FOV</text>
<circle cx="441.4" cy="172.4" r="1.4" fill="#3a3ab0" opacity="0.65"/>
<circle cx="441.4" cy="174" r="1.4" fill="#3a3ab0" opacity="0.65"/>
<circle cx="441.4" cy="176.4" r="1.4" fill="#3a3ab0" opacity="0.65"/>
<circle cx="441.4" cy="201.3" r="1.4" fill="#3a3ab0" opacity="0.65"/>
<circle cx="441.4" cy="203" r="1.4" fill="#3a3ab0" opacity="0.65"/>
<circle cx="441.4" cy="205" r="1.4" fill="#3a3ab0" opacity="0.65"/>
<circle cx="441.4" cy="208.1" r="1.4" fill="#3a3ab0" opacity="0.65"/>
<path d="M441.4 186.3V200M439.9 186.3h3M439.9 200h3M438.4 193.9h6" stroke="#111" stroke-width="1.1" fill="none"/>
<path d="M455.8 173.4l1.6 1.7l-1.6 1.7l-1.6 -1.7z" fill="#d02b3a" opacity="0.65"/>
<path d="M455.8 176.3l1.6 1.7l-1.6 1.7l-1.6 -1.7z" fill="#d02b3a" opacity="0.65"/>
<path d="M455.8 181.3l1.6 1.7l-1.6 1.7l-1.6 -1.7z" fill="#d02b3a" opacity="0.65"/>
<path d="M455.8 184.3l1.6 1.7l-1.6 1.7l-1.6 -1.7z" fill="#d02b3a" opacity="0.65"/>
<path d="M455.8 188.3l1.6 1.7l-1.6 1.7l-1.6 -1.7z" fill="#d02b3a" opacity="0.65"/>
<path d="M455.8 192.3l1.6 1.7l-1.6 1.7l-1.6 -1.7z" fill="#d02b3a" opacity="0.65"/>
<path d="M455.8 196.9l1.6 1.7l-1.6 1.7l-1.6 -1.7z" fill="#d02b3a" opacity="0.65"/>
<path d="M455.8 183.8V192.6M454.3 183.8h3M454.3 192.6h3M452.8 188.1h6" stroke="#111" stroke-width="1.1" fill="none"/>
<circle cx="493.7" cy="183.5" r="1.4" fill="#3a3ab0" opacity="0.65"/>
<circle cx="493.7" cy="191.5" r="1.4" fill="#3a3ab0" opacity="0.65"/>
<circle cx="493.7" cy="197" r="1.4" fill="#3a3ab0" opacity="0.65"/>
<circle cx="493.7" cy="200" r="1.4" fill="#3a3ab0" opacity="0.65"/>
<circle cx="493.7" cy="202" r="1.4" fill="#3a3ab0" opacity="0.65"/>
<circle cx="493.7" cy="205.7" r="1.4" fill="#3a3ab0" opacity="0.65"/>
<path d="M493.7 194.9V201.6M492.2 194.9h3M492.2 201.6h3M490.7 198.3h6" stroke="#111" stroke-width="1.1" fill="none"/>
<path d="M500.5 149.9l1.6 1.7l-1.6 1.7l-1.6 -1.7z" fill="#d02b3a" opacity="0.65"/>
<path d="M500.5 157.6l1.6 1.7l-1.6 1.7l-1.6 -1.7z" fill="#d02b3a" opacity="0.65"/>
<path d="M500.5 163.3l1.6 1.7l-1.6 1.7l-1.6 -1.7z" fill="#d02b3a" opacity="0.65"/>
<path d="M500.5 166.3l1.6 1.7l-1.6 1.7l-1.6 -1.7z" fill="#d02b3a" opacity="0.65"/>
<path d="M500.5 172.3l1.6 1.7l-1.6 1.7l-1.6 -1.7z" fill="#d02b3a" opacity="0.65"/>
<path d="M500.5 175.3l1.6 1.7l-1.6 1.7l-1.6 -1.7z" fill="#d02b3a" opacity="0.65"/>
<path d="M500.5 185.1l1.6 1.7l-1.6 1.7l-1.6 -1.7z" fill="#d02b3a" opacity="0.65"/>
<path d="M500.5 165.8V176M499.0 165.8h3M499.0 176h3M497.5 170.9h6" stroke="#111" stroke-width="1.1" fill="none"/>
<rect x="506.5" y="173.3" width="2.8" height="2.8" fill="#2fd27a" opacity="0.7"/>
<rect x="506.5" y="175.6" width="2.8" height="2.8" fill="#2fd27a" opacity="0.7"/>
<rect x="506.5" y="178.6" width="2.8" height="2.8" fill="#2fd27a" opacity="0.7"/>
<rect x="506.5" y="181.6" width="2.8" height="2.8" fill="#2fd27a" opacity="0.7"/>
<rect x="506.5" y="184.6" width="2.8" height="2.8" fill="#2fd27a" opacity="0.7"/>
<rect x="506.5" y="186.6" width="2.8" height="2.8" fill="#2fd27a" opacity="0.7"/>
<rect x="506.5" y="190.1" width="2.8" height="2.8" fill="#2fd27a" opacity="0.7"/>
<path d="M507.9 182.1V188.2M506.4 182.1h3M506.4 188.2h3M504.9 185.1h6" stroke="#111" stroke-width="1.1" fill="none"/>
<line x1="493.3" y1="139.5" x2="501.1" y2="139.5" stroke="#111" stroke-width="1"/>
<text x="497.20000000000005" y="140.5" class="st">***</text>
<line x1="494.1" y1="133.5" x2="507.9" y2="133.5" stroke="#111" stroke-width="1"/>
<text x="501.0" y="134.5" class="st">**</text>
<line x1="501.8" y1="127.4" x2="507.2" y2="127.4" stroke="#111" stroke-width="1"/>
<text x="504.5" y="128.4" class="st">**</text>
<text x="61" y="257.2" class="pl" style="font-size:15.7px">H</text>
<line x1="87" y1="257.2" x2="87" y2="341.9" stroke="#7a7a7a" stroke-width="1"/>
<line x1="85" y1="267.3" x2="87" y2="267.3" stroke="#7a7a7a" stroke-width="0.8"/>
<text x="84" y="269.90000000000003" class="tk">34</text>
<line x1="85" y1="288.5" x2="87" y2="288.5" stroke="#7a7a7a" stroke-width="0.8"/>
<text x="84" y="291.1" class="tk">32</text>
<line x1="85" y1="309.6" x2="87" y2="309.6" stroke="#7a7a7a" stroke-width="0.8"/>
<text x="84" y="312.20000000000005" class="tk">30</text>
<line x1="85" y1="330.7" x2="87" y2="330.7" stroke="#7a7a7a" stroke-width="0.8"/>
<text x="84" y="333.3" class="tk">28</text>
<line x1="86.5" y1="341.9" x2="179.2" y2="341.9" stroke="#333" stroke-width="1.4"/>
<line x1="133.2" y1="341.9" x2="133.2" y2="343.9" stroke="#333" stroke-width="0.8"/>
<text x="104.5" y="351.9" class="xn">7</text>
<text x="160.4" y="351.9" class="xn">14</text>
<text x="102.8" y="361.8" class="xl" style="text-anchor:start">Days Post Inj.</text>
<text transform="translate(71.7,306) rotate(-90)" class="yl">VLD (mm/mm<tspan dy="-2.5" font-size="5.5">2</tspan><tspan dy="2.5">)</tspan></text>
<circle cx="97.8" cy="293.2" r="1.4" fill="#3a3ab0" opacity="0.65"/>
<circle cx="97.8" cy="297.2" r="1.4" fill="#3a3ab0" opacity="0.65"/>
<circle cx="97.8" cy="305" r="1.4" fill="#3a3ab0" opacity="0.65"/>
<circle cx="97.8" cy="308" r="1.4" fill="#3a3ab0" opacity="0.65"/>
<circle cx="97.8" cy="312" r="1.4" fill="#3a3ab0" opacity="0.65"/>
<circle cx="97.8" cy="315" r="1.4" fill="#3a3ab0" opacity="0.65"/>
<circle cx="97.8" cy="335.6" r="1.4" fill="#3a3ab0" opacity="0.65"/>
<path d="M97.8 302.4V316.5M96.3 302.4h3M96.3 316.5h3M94.8 309.6h6" stroke="#111" stroke-width="1.1" fill="none"/>
<path d="M112.9 296.2l1.6 1.7l-1.6 1.7l-1.6 -1.7z" fill="#d02b3a" opacity="0.65"/>
<path d="M112.9 300.9l1.6 1.7l-1.6 1.7l-1.6 -1.7z" fill="#d02b3a" opacity="0.65"/>
<path d="M112.9 304.3l1.6 1.7l-1.6 1.7l-1.6 -1.7z" fill="#d02b3a" opacity="0.65"/>
<path d="M112.9 307.3l1.6 1.7l-1.6 1.7l-1.6 -1.7z" fill="#d02b3a" opacity="0.65"/>
<path d="M112.9 310.3l1.6 1.7l-1.6 1.7l-1.6 -1.7z" fill="#d02b3a" opacity="0.65"/>
<path d="M112.9 313.3l1.6 1.7l-1.6 1.7l-1.6 -1.7z" fill="#d02b3a" opacity="0.65"/>
<path d="M112.9 318.9l1.6 1.7l-1.6 1.7l-1.6 -1.7z" fill="#d02b3a" opacity="0.65"/>
<path d="M112.9 306.4V313.8M111.4 306.4h3M111.4 313.8h3M109.9 310.5h6" stroke="#111" stroke-width="1.1" fill="none"/>
<circle cx="153.6" cy="294.3" r="1.4" fill="#3a3ab0" opacity="0.65"/>
<circle cx="153.6" cy="298" r="1.4" fill="#3a3ab0" opacity="0.65"/>
<circle cx="153.6" cy="301" r="1.4" fill="#3a3ab0" opacity="0.65"/>
<circle cx="153.6" cy="305" r="1.4" fill="#3a3ab0" opacity="0.65"/>
<circle cx="153.6" cy="308" r="1.4" fill="#3a3ab0" opacity="0.65"/>
<circle cx="153.6" cy="315.2" r="1.4" fill="#3a3ab0" opacity="0.65"/>
<path d="M153.6 296.5V310M152.1 296.5h3M152.1 310h3M150.6 303.7h6" stroke="#111" stroke-width="1.1" fill="none"/>
<path d="M160.8 269.1l1.6 1.7l-1.6 1.7l-1.6 -1.7z" fill="#d02b3a" opacity="0.65"/>
<path d="M160.8 271.3l1.6 1.7l-1.6 1.7l-1.6 -1.7z" fill="#d02b3a" opacity="0.65"/>
<path d="M160.8 273.3l1.6 1.7l-1.6 1.7l-1.6 -1.7z" fill="#d02b3a" opacity="0.65"/>
<path d="M160.8 300.0l1.6 1.7l-1.6 1.7l-1.6 -1.7z" fill="#d02b3a" opacity="0.65"/>
<path d="M160.8 308.1l1.6 1.7l-1.6 1.7l-1.6 -1.7z" fill="#d02b3a" opacity="0.65"/>
<path d="M160.8 282.2V296M159.3 282.2h3M159.3 296h3M157.8 288.9h6" stroke="#111" stroke-width="1.1" fill="none"/>
<rect x="166.8" y="270.0" width="2.8" height="2.8" fill="#2fd27a" opacity="0.7"/>
<rect x="166.8" y="285.5" width="2.8" height="2.8" fill="#2fd27a" opacity="0.7"/>
<rect x="166.8" y="288.6" width="2.8" height="2.8" fill="#2fd27a" opacity="0.7"/>
<rect x="166.8" y="318.7" width="2.8" height="2.8" fill="#2fd27a" opacity="0.7"/>
<rect x="166.8" y="320.6" width="2.8" height="2.8" fill="#2fd27a" opacity="0.7"/>
<rect x="166.8" y="322.6" width="2.8" height="2.8" fill="#2fd27a" opacity="0.7"/>
<rect x="166.8" y="324.6" width="2.8" height="2.8" fill="#2fd27a" opacity="0.7"/>
<rect x="166.8" y="326.1" width="2.8" height="2.8" fill="#2fd27a" opacity="0.7"/>
<path d="M168.2 293V312.2M166.7 293h3M166.7 312.2h3M165.2 302.8h6" stroke="#111" stroke-width="1.1" fill="none"/>
<text x="205.2" y="257.2" class="pl" style="font-size:15.7px">I</text>
<line x1="231.6" y1="258.2" x2="231.6" y2="342" stroke="#7a7a7a" stroke-width="1"/>
<line x1="229.6" y1="261.3" x2="231.6" y2="261.3" stroke="#7a7a7a" stroke-width="0.8"/>
<text x="228.6" y="263.90000000000003" class="tk">18</text>
<line x1="229.6" y1="287.9" x2="231.6" y2="287.9" stroke="#7a7a7a" stroke-width="0.8"/>
<text x="228.6" y="290.5" class="tk">16</text>
<line x1="229.6" y1="314.6" x2="231.6" y2="314.6" stroke="#7a7a7a" stroke-width="0.8"/>
<text x="228.6" y="317.20000000000005" class="tk">14</text>
<line x1="229.6" y1="341.7" x2="231.6" y2="341.7" stroke="#7a7a7a" stroke-width="0.8"/>
<text x="228.6" y="344.3" class="tk">12</text>
<line x1="231.1" y1="342" x2="323.5" y2="342" stroke="#333" stroke-width="1.4"/>
<line x1="278.1" y1="342" x2="278.1" y2="344" stroke="#333" stroke-width="0.8"/>
<text x="249.9" y="352.1" class="xn">7</text>
<text x="305.8" y="352.1" class="xn">14</text>
<text x="248.2" y="362.3" class="xl" style="text-anchor:start">Days Post Inj.</text>
<text transform="translate(217,308) rotate(-90)" class="yl">Bp/ Vess Length (mm)</text>
<circle cx="243.2" cy="297.9" r="1.4" fill="#3a3ab0" opacity="0.65"/>
<circle cx="243.2" cy="300" r="1.4" fill="#3a3ab0" opacity="0.65"/>
<circle cx="243.2" cy="303" r="1.4" fill="#3a3ab0" opacity="0.65"/>
<circle cx="243.2" cy="307" r="1.4" fill="#3a3ab0" opacity="0.65"/>
<circle cx="243.2" cy="318" r="1.4" fill="#3a3ab0" opacity="0.65"/>
<circle cx="243.2" cy="321" r="1.4" fill="#3a3ab0" opacity="0.65"/>
<circle cx="243.2" cy="331.6" r="1.4" fill="#3a3ab0" opacity="0.65"/>
<path d="M243.2 309.4V320.2M241.7 309.4h3M241.7 320.2h3M240.2 315.1h6" stroke="#111" stroke-width="1.1" fill="none"/>
<path d="M256.0 297.5l1.6 1.7l-1.6 1.7l-1.6 -1.7z" fill="#d02b3a" opacity="0.65"/>
<path d="M256.0 304.9l1.6 1.7l-1.6 1.7l-1.6 -1.7z" fill="#d02b3a" opacity="0.65"/>
<path d="M256.0 308.3l1.6 1.7l-1.6 1.7l-1.6 -1.7z" fill="#d02b3a" opacity="0.65"/>
<path d="M256.0 316.3l1.6 1.7l-1.6 1.7l-1.6 -1.7z" fill="#d02b3a" opacity="0.65"/>
<path d="M256.0 320.3l1.6 1.7l-1.6 1.7l-1.6 -1.7z" fill="#d02b3a" opacity="0.65"/>
<path d="M256.0 323.3l1.6 1.7l-1.6 1.7l-1.6 -1.7z" fill="#d02b3a" opacity="0.65"/>
<path d="M256 310V320M254.5 310h3M254.5 320h3M253 315.1h6" stroke="#111" stroke-width="1.1" fill="none"/>
<circle cx="297.8" cy="272.8" r="1.4" fill="#3a3ab0" opacity="0.65"/>
<circle cx="297.8" cy="288.9" r="1.4" fill="#3a3ab0" opacity="0.65"/>
<circle cx="297.8" cy="300" r="1.4" fill="#3a3ab0" opacity="0.65"/>
<circle cx="297.8" cy="310" r="1.4" fill="#3a3ab0" opacity="0.65"/>
<circle cx="297.8" cy="319" r="1.4" fill="#3a3ab0" opacity="0.65"/>
<circle cx="297.8" cy="326.9" r="1.4" fill="#3a3ab0" opacity="0.65"/>
<circle cx="297.8" cy="336.5" r="1.4" fill="#3a3ab0" opacity="0.65"/>
<path d="M297.8 297.7V317.2M296.3 297.7h3M296.3 317.2h3M294.8 307.4h6" stroke="#111" stroke-width="1.1" fill="none"/>
<path d="M305.5 269.7l1.6 1.7l-1.6 1.7l-1.6 -1.7z" fill="#d02b3a" opacity="0.65"/>
<path d="M305.5 300.3l1.6 1.7l-1.6 1.7l-1.6 -1.7z" fill="#d02b3a" opacity="0.65"/>
<path d="M305.5 305.3l1.6 1.7l-1.6 1.7l-1.6 -1.7z" fill="#d02b3a" opacity="0.65"/>
<path d="M305.5 311.3l1.6 1.7l-1.6 1.7l-1.6 -1.7z" fill="#d02b3a" opacity="0.65"/>
<path d="M305.5 314.3l1.6 1.7l-1.6 1.7l-1.6 -1.7z" fill="#d02b3a" opacity="0.65"/>
<path d="M305.5 318.3l1.6 1.7l-1.6 1.7l-1.6 -1.7z" fill="#d02b3a" opacity="0.65"/>
<path d="M305.5 297.7V311.4M304.0 297.7h3M304.0 311.4h3M302.5 304.4h6" stroke="#111" stroke-width="1.1" fill="none"/>
<rect x="311.5" y="268.7" width="2.8" height="2.8" fill="#2fd27a" opacity="0.7"/>
<rect x="311.5" y="286.2" width="2.8" height="2.8" fill="#2fd27a" opacity="0.7"/>
<rect x="311.5" y="294.6" width="2.8" height="2.8" fill="#2fd27a" opacity="0.7"/>
<rect x="311.5" y="314.6" width="2.8" height="2.8" fill="#2fd27a" opacity="0.7"/>
<rect x="311.5" y="318.6" width="2.8" height="2.8" fill="#2fd27a" opacity="0.7"/>
<path d="M312.9 292.3V309.1M311.4 292.3h3M311.4 309.1h3M309.9 300.4h6" stroke="#111" stroke-width="1.1" fill="none"/>
<text x="339.5" y="257.2" class="pl" style="font-size:15.7px">J</text>
<line x1="374.8" y1="258.2" x2="374.8" y2="342.4" stroke="#7a7a7a" stroke-width="1"/>
<line x1="372.8" y1="271" x2="374.8" y2="271" stroke="#7a7a7a" stroke-width="0.8"/>
<text x="371.8" y="273.6" class="tk">2.3</text>
<line x1="372.8" y1="286.4" x2="374.8" y2="286.4" stroke="#7a7a7a" stroke-width="0.8"/>
<text x="371.8" y="289.0" class="tk">2.25</text>
<line x1="372.8" y1="301.8" x2="374.8" y2="301.8" stroke="#7a7a7a" stroke-width="0.8"/>
<text x="371.8" y="304.40000000000003" class="tk">2.2</text>
<line x1="372.8" y1="317.2" x2="374.8" y2="317.2" stroke="#7a7a7a" stroke-width="0.8"/>
<text x="371.8" y="319.8" class="tk">2.15</text>
<line x1="372.8" y1="332.7" x2="374.8" y2="332.7" stroke="#7a7a7a" stroke-width="0.8"/>
<text x="371.8" y="335.3" class="tk">2.1</text>
<line x1="374.3" y1="342.4" x2="460" y2="342.4" stroke="#333" stroke-width="1.4"/>
<line x1="417.5" y1="342.4" x2="417.5" y2="344.4" stroke="#333" stroke-width="0.8"/>
<text x="392.2" y="352.7" class="xn">7</text>
<text x="444.2" y="352.7" class="xn">14</text>
<text x="390.5" y="362.8" class="xl" style="text-anchor:start">Days Post Inj.</text>
<text transform="translate(353.2,309) rotate(-90)" class="yl">Segment Tortuosity</text>
<circle cx="384.5" cy="283.3" r="1.4" fill="#3a3ab0" opacity="0.65"/>
<circle cx="384.5" cy="309" r="1.4" fill="#3a3ab0" opacity="0.65"/>
<circle cx="384.5" cy="313" r="1.4" fill="#3a3ab0" opacity="0.65"/>
<circle cx="384.5" cy="318" r="1.4" fill="#3a3ab0" opacity="0.65"/>
<circle cx="384.5" cy="320" r="1.4" fill="#3a3ab0" opacity="0.65"/>
<circle cx="384.5" cy="323" r="1.4" fill="#3a3ab0" opacity="0.65"/>
<circle cx="384.5" cy="325.3" r="1.4" fill="#3a3ab0" opacity="0.65"/>
<path d="M384.5 307.8V321.2M383.0 307.8h3M383.0 321.2h3M381.5 315.2h6" stroke="#111" stroke-width="1.1" fill="none"/>
<path d="M398.6 300.8l1.6 1.7l-1.6 1.7l-1.6 -1.7z" fill="#d02b3a" opacity="0.65"/>
<path d="M398.6 307.5l1.6 1.7l-1.6 1.7l-1.6 -1.7z" fill="#d02b3a" opacity="0.65"/>
<path d="M398.6 325.3l1.6 1.7l-1.6 1.7l-1.6 -1.7z" fill="#d02b3a" opacity="0.65"/>
<path d="M398.6 328.3l1.6 1.7l-1.6 1.7l-1.6 -1.7z" fill="#d02b3a" opacity="0.65"/>
<path d="M398.6 330.3l1.6 1.7l-1.6 1.7l-1.6 -1.7z" fill="#d02b3a" opacity="0.65"/>
<path d="M398.6 332.3l1.6 1.7l-1.6 1.7l-1.6 -1.7z" fill="#d02b3a" opacity="0.65"/>
<path d="M398.6 318.5V330M397.1 318.5h3M397.1 330h3M395.6 324.5h6" stroke="#111" stroke-width="1.1" fill="none"/>
<circle cx="436.1" cy="271" r="1.4" fill="#3a3ab0" opacity="0.65"/>
<circle cx="436.1" cy="310" r="1.4" fill="#3a3ab0" opacity="0.65"/>
<circle cx="436.1" cy="314" r="1.4" fill="#3a3ab0" opacity="0.65"/>
<circle cx="436.1" cy="320" r="1.4" fill="#3a3ab0" opacity="0.65"/>
<circle cx="436.1" cy="324" r="1.4" fill="#3a3ab0" opacity="0.65"/>
<circle cx="436.1" cy="328" r="1.4" fill="#3a3ab0" opacity="0.65"/>
<circle cx="436.1" cy="331" r="1.4" fill="#3a3ab0" opacity="0.65"/>
<path d="M436.1 307.2V326M434.6 307.2h3M434.6 326h3M433.1 316.9h6" stroke="#111" stroke-width="1.1" fill="none"/>
<path d="M443.5 300.0l1.6 1.7l-1.6 1.7l-1.6 -1.7z" fill="#d02b3a" opacity="0.65"/>
<path d="M443.5 316.3l1.6 1.7l-1.6 1.7l-1.6 -1.7z" fill="#d02b3a" opacity="0.65"/>
<path d="M443.5 320.3l1.6 1.7l-1.6 1.7l-1.6 -1.7z" fill="#d02b3a" opacity="0.65"/>
<path d="M443.5 327.3l1.6 1.7l-1.6 1.7l-1.6 -1.7z" fill="#d02b3a" opacity="0.65"/>
<path d="M443.5 330.3l1.6 1.7l-1.6 1.7l-1.6 -1.7z" fill="#d02b3a" opacity="0.65"/>
<path d="M443.5 335.3l1.6 1.7l-1.6 1.7l-1.6 -1.7z" fill="#d02b3a" opacity="0.65"/>
<path d="M443.5 320.5V330.8M442.0 320.5h3M442.0 330.8h3M440.5 325.7h6" stroke="#111" stroke-width="1.1" fill="none"/>
<rect x="448.8" y="312.8" width="2.8" height="2.8" fill="#2fd27a" opacity="0.7"/>
<rect x="448.8" y="315.6" width="2.8" height="2.8" fill="#2fd27a" opacity="0.7"/>
<rect x="448.8" y="318.6" width="2.8" height="2.8" fill="#2fd27a" opacity="0.7"/>
<rect x="448.8" y="324.6" width="2.8" height="2.8" fill="#2fd27a" opacity="0.7"/>
<rect x="448.8" y="328.6" width="2.8" height="2.8" fill="#2fd27a" opacity="0.7"/>
<rect x="448.8" y="331.6" width="2.8" height="2.8" fill="#2fd27a" opacity="0.7"/>
<rect x="448.8" y="333.6" width="2.8" height="2.8" fill="#2fd27a" opacity="0.7"/>
<path d="M450.2 322.9V332M448.7 322.9h3M448.7 332h3M447.2 327.3h6" stroke="#111" stroke-width="1.1" fill="none"/>
<defs>
<pattern id="spM1" width="173" height="173" patternUnits="userSpaceOnUse"><circle cx="78" cy="97" r="2.9" fill="#30c048"/><circle cx="78" cy="148" r="1.8" fill="#30c048"/><circle cx="109" cy="137" r="1.6" fill="#2aa8a8"/><circle cx="25" cy="93" r="2.8" fill="#2cb040"/><circle cx="103" cy="69" r="2.2" fill="#22a036"/><circle cx="108" cy="144" r="1.6" fill="#2cb040"/><circle cx="33" cy="42" r="1.5" fill="#30c048"/><circle cx="56" cy="102" r="1.8" fill="#22a036"/><circle cx="111" cy="86" r="2.5" fill="#30c048"/><circle cx="113" cy="70" r="2.3" fill="#2cb040"/><circle cx="122" cy="55" r="1.8" fill="#2aa8a8"/><circle cx="5" cy="97" r="1.7" fill="#2cb040"/><circle cx="146" cy="67" r="2.9" fill="#2cb040"/><circle cx="37" cy="160" r="1.6" fill="#30c048"/><circle cx="170" cy="69" r="1.6" fill="#22a036"/><circle cx="135" cy="47" r="1.6" fill="#2aa8a8"/><circle cx="3" cy="71" r="2.9" fill="#22a036"/><circle cx="43" cy="17" r="1.6" fill="#30c048"/><circle cx="31" cy="97" r="2.2" fill="#22a036"/><circle cx="170" cy="133" r="2.1" fill="#30c048"/><circle cx="20" cy="73" r="1.8" fill="#2aa8a8"/><circle cx="150" cy="169" r="2.4" fill="#2cb040"/><circle cx="36" cy="68" r="2.8" fill="#2cb040"/><circle cx="7" cy="25" r="2.2" fill="#2cb040"/><circle cx="134" cy="57" r="1.9" fill="#2cb040"/><circle cx="13" cy="36" r="2.5" fill="#2cb040"/><circle cx="104" cy="64" r="2.2" fill="#30c048"/><circle cx="144" cy="23" r="2.1" fill="#22a036"/><circle cx="54" cy="40" r="2.4" fill="#22a036"/><circle cx="27" cy="109" r="2.3" fill="#30c048"/><circle cx="153" cy="104" r="2.1" fill="#2cb040"/><circle cx="19" cy="89" r="1.9" fill="#30c048"/><circle cx="44" cy="143" r="2.4" fill="#2aa8a8"/><circle cx="90" cy="161" r="3.0" fill="#22a036"/><circle cx="40" cy="97" r="2.8" fill="#2cb040"/><circle cx="48" cy="159" r="1.8" fill="#2cb040"/><circle cx="12" cy="71" r="1.9" fill="#2cb040"/><circle cx="30" cy="64" r="2.4" fill="#22a036"/><circle cx="16" cy="24" r="2.2" fill="#2aa8a8"/><circle cx="114" cy="120" r="2.4" fill="#22a036"/><circle cx="102" cy="160" r="2.2" fill="#2aa8a8"/><circle cx="121" cy="167" r="1.5" fill="#2cb040"/><circle cx="83" cy="126" r="2.0" fill="#2cb040"/><circle cx="13" cy="94" r="2.6" fill="#22a036"/><circle cx="137" cy="158" r="2.0" fill="#30c048"/><circle cx="156" cy="151" r="2.1" fill="#2cb040"/><circle cx="149" cy="99" r="2.4" fill="#30c048"/><circle cx="66" cy="2" r="1.6" fill="#2cb040"/><circle cx="111" cy="172" r="2.8" fill="#2aa8a8"/><circle cx="67" cy="127" r="2.4" fill="#30c048"/><circle cx="80" cy="94" r="2.3" fill="#2cb040"/><circle cx="54" cy="15" r="1.5" fill="#2cb040"/><circle cx="86" cy="106" r="2.9" fill="#2aa8a8"/><circle cx="155" cy="64" r="1.7" fill="#22a036"/><circle cx="90" cy="130" r="2.0" fill="#30c048"/><circle cx="86" cy="42" r="2.1" fill="#2aa8a8"/><circle cx="34" cy="75" r="2.7" fill="#22a036"/><circle cx="152" cy="67" r="2.4" fill="#2aa8a8"/><circle cx="36" cy="23" r="2.0" fill="#2cb040"/><circle cx="123" cy="164" r="1.9" fill="#22a036"/><circle cx="20" cy="82" r="2.9" fill="#30c048"/><circle cx="66" cy="90" r="2.5" fill="#30c048"/><circle cx="55" cy="143" r="1.9" fill="#2cb040"/><circle cx="117" cy="49" r="2.0" fill="#2cb040"/><circle cx="111" cy="70" r="1.8" fill="#2aa8a8"/><circle cx="41" cy="24" r="1.6" fill="#2cb040"/><circle cx="77" cy="109" r="2.5" fill="#2aa8a8"/><circle cx="166" cy="118" r="1.8" fill="#30c048"/><circle cx="44" cy="124" r="2.6" fill="#2cb040"/><circle cx="31" cy="47" r="2.0" fill="#22a036"/><circle cx="68" cy="137" r="2.9" fill="#2cb040"/><circle cx="71" cy="154" r="2.1" fill="#30c048"/><circle cx="78" cy="108" r="2.9" fill="#30c048"/><circle cx="95" cy="113" r="2.3" fill="#2aa8a8"/><circle cx="80" cy="113" r="1.8" fill="#2cb040"/><circle cx="37" cy="156" r="3.0" fill="#2aa8a8"/><circle cx="93" cy="137" r="2.0" fill="#2cb040"/><circle cx="60" cy="14" r="2.2" fill="#30c048"/><circle cx="133" cy="84" r="1.5" fill="#2cb040"/><circle cx="74" cy="6" r="2.3" fill="#22a036"/></pattern>
<pattern id="nz" width="131" height="131" patternUnits="userSpaceOnUse"><circle cx="22" cy="90" r="2.9" fill="#141028"/><circle cx="110" cy="130" r="2.7" fill="#0c2614"/><circle cx="66" cy="31" r="2.0" fill="#081c1e"/><circle cx="122" cy="56" r="2.2" fill="#0c2614"/><circle cx="121" cy="91" r="2.6" fill="#141028"/><circle cx="81" cy="4" r="2.5" fill="#141028"/><circle cx="91" cy="85" r="3.3" fill="#0a2210"/><circle cx="20" cy="107" r="2.2" fill="#0a2210"/><circle cx="59" cy="72" r="2.5" fill="#141028"/><circle cx="20" cy="87" r="2.7" fill="#0c2614"/><circle cx="10" cy="26" r="2.9" fill="#0a2210"/><circle cx="16" cy="62" r="3.2" fill="#0c2614"/><circle cx="45" cy="19" r="2.8" fill="#081c1e"/><circle cx="48" cy="59" r="2.5" fill="#141028"/><circle cx="51" cy="4" r="2.1" fill="#141028"/><circle cx="0" cy="9" r="2.8" fill="#0c2614"/><circle cx="75" cy="42" r="3.4" fill="#0a2210"/><circle cx="24" cy="22" r="2.5" fill="#081c1e"/><circle cx="45" cy="78" r="2.4" fill="#0a2210"/><circle cx="22" cy="121" r="2.2" fill="#141028"/><circle cx="49" cy="90" r="2.9" fill="#0c2614"/><circle cx="53" cy="130" r="3.3" fill="#0a2210"/><circle cx="116" cy="64" r="2.5" fill="#0c2614"/><circle cx="123" cy="32" r="2.8" fill="#141028"/><circle cx="105" cy="101" r="2.7" fill="#081c1e"/><circle cx="7" cy="34" r="2.4" fill="#141028"/><circle cx="33" cy="52" r="3.2" fill="#0c2614"/><circle cx="129" cy="98" r="2.7" fill="#081c1e"/><circle cx="18" cy="85" r="3.3" fill="#141028"/><circle cx="4" cy="28" r="3.2" fill="#0c2614"/><circle cx="115" cy="79" r="2.6" fill="#141028"/><circle cx="40" cy="70" r="2.4" fill="#0a2210"/><circle cx="50" cy="16" r="3.0" fill="#081c1e"/><circle cx="78" cy="84" r="3.2" fill="#141028"/><circle cx="34" cy="53" r="3.3" fill="#0c2614"/><circle cx="17" cy="12" r="2.1" fill="#0a2210"/><circle cx="84" cy="103" r="2.1" fill="#0a2210"/><circle cx="86" cy="17" r="2.8" fill="#081c1e"/><circle cx="52" cy="116" r="2.9" fill="#0c2614"/><circle cx="24" cy="49" r="3.0" fill="#0a2210"/><circle cx="79" cy="66" r="3.0" fill="#0a2210"/><circle cx="104" cy="1" r="2.6" fill="#0a2210"/><circle cx="52" cy="74" r="3.2" fill="#0c2614"/><circle cx="33" cy="91" r="2.4" fill="#0a2210"/><circle cx="32" cy="20" r="3.0" fill="#081c1e"/><circle cx="107" cy="105" r="2.7" fill="#0a2210"/><circle cx="71" cy="8" r="2.8" fill="#081c1e"/><circle cx="127" cy="41" r="3.0" fill="#0c2614"/><circle cx="8" cy="107" r="3.4" fill="#081c1e"/><circle cx="9" cy="86" r="2.6" fill="#0a2210"/><circle cx="85" cy="82" r="3.1" fill="#141028"/><circle cx="66" cy="124" r="3.0" fill="#141028"/><circle cx="62" cy="67" r="3.2" fill="#0a2210"/><circle cx="30" cy="6" r="2.6" fill="#0c2614"/><circle cx="36" cy="77" r="2.6" fill="#141028"/><circle cx="60" cy="31" r="2.5" fill="#141028"/><circle cx="30" cy="120" r="2.9" fill="#0a2210"/><circle cx="63" cy="64" r="3.0" fill="#0c2614"/><circle cx="102" cy="82" r="3.1" fill="#081c1e"/><circle cx="32" cy="120" r="2.5" fill="#141028"/><circle cx="108" cy="126" r="3.4" fill="#0a2210"/><circle cx="21" cy="26" r="3.2" fill="#0c2614"/><circle cx="12" cy="23" r="2.7" fill="#141028"/><circle cx="97" cy="61" r="2.2" fill="#0c2614"/><circle cx="92" cy="27" r="2.5" fill="#0c2614"/><circle cx="34" cy="125" r="2.5" fill="#081c1e"/><circle cx="124" cy="127" r="3.3" fill="#0c2614"/><circle cx="31" cy="90" r="3.0" fill="#0c2614"/><circle cx="123" cy="61" r="2.6" fill="#081c1e"/><circle cx="88" cy="87" r="2.9" fill="#0a2210"/><circle cx="25" cy="126" r="2.0" fill="#081c1e"/><circle cx="2" cy="66" r="2.1" fill="#141028"/><circle cx="92" cy="31" r="2.0" fill="#0c2614"/><circle cx="12" cy="40" r="2.6" fill="#0a2210"/><circle cx="48" cy="18" r="3.1" fill="#141028"/><circle cx="69" cy="6" r="2.3" fill="#141028"/><circle cx="116" cy="32" r="2.8" fill="#141028"/><circle cx="116" cy="2" r="2.8" fill="#0a2210"/><circle cx="57" cy="109" r="3.4" fill="#0c2614"/><circle cx="20" cy="65" r="2.7" fill="#141028"/><circle cx="62" cy="105" r="2.5" fill="#081c1e"/><circle cx="20" cy="38" r="2.9" fill="#0a2210"/><circle cx="117" cy="9" r="2.1" fill="#0a2210"/><circle cx="89" cy="25" r="2.4" fill="#0a2210"/><circle cx="21" cy="77" r="2.4" fill="#141028"/><circle cx="21" cy="14" r="3.3" fill="#081c1e"/><circle cx="54" cy="91" r="3.0" fill="#141028"/><circle cx="10" cy="108" r="2.3" fill="#0a2210"/><circle cx="95" cy="79" r="2.9" fill="#0c2614"/><circle cx="3" cy="48" r="2.7" fill="#141028"/><circle cx="106" cy="119" r="3.0" fill="#0c2614"/><circle cx="89" cy="85" r="2.9" fill="#0a2210"/><circle cx="127" cy="51" r="3.3" fill="#081c1e"/><circle cx="1" cy="46" r="2.9" fill="#0a2210"/><circle cx="99" cy="85" r="2.2" fill="#141028"/><circle cx="27" cy="131" r="2.8" fill="#141028"/><circle cx="97" cy="116" r="2.5" fill="#0a2210"/><circle cx="31" cy="79" r="2.5" fill="#081c1e"/><circle cx="75" cy="130" r="3.3" fill="#0a2210"/><circle cx="129" cy="97" r="3.0" fill="#0c2614"/><circle cx="122" cy="69" r="3.3" fill="#081c1e"/><circle cx="16" cy="31" r="2.6" fill="#141028"/><circle cx="101" cy="98" r="2.9" fill="#081c1e"/><circle cx="24" cy="108" r="2.3" fill="#141028"/><circle cx="35" cy="70" r="2.6" fill="#0a2210"/><circle cx="103" cy="44" r="2.6" fill="#081c1e"/><circle cx="96" cy="96" r="3.4" fill="#141028"/><circle cx="19" cy="4" r="3.1" fill="#081c1e"/><circle cx="76" cy="131" r="2.3" fill="#0c2614"/><circle cx="114" cy="72" r="3.1" fill="#0a2210"/><circle cx="4" cy="120" r="2.2" fill="#081c1e"/><circle cx="60" cy="51" r="2.9" fill="#0a2210"/><circle cx="113" cy="98" r="2.5" fill="#081c1e"/><circle cx="96" cy="60" r="2.2" fill="#0c2614"/><circle cx="78" cy="44" r="3.2" fill="#081c1e"/><circle cx="33" cy="17" r="3.1" fill="#081c1e"/><circle cx="14" cy="81" r="2.9" fill="#0c2614"/><circle cx="18" cy="101" r="2.7" fill="#0a2210"/><circle cx="90" cy="44" r="2.9" fill="#081c1e"/><circle cx="1" cy="110" r="2.4" fill="#081c1e"/><circle cx="91" cy="54" r="2.2" fill="#0a2210"/><circle cx="131" cy="30" r="3.0" fill="#141028"/><circle cx="66" cy="126" r="2.5" fill="#0a2210"/><circle cx="83" cy="48" r="2.5" fill="#141028"/><circle cx="83" cy="60" r="2.7" fill="#0c2614"/><circle cx="58" cy="30" r="3.2" fill="#141028"/><circle cx="111" cy="101" r="3.3" fill="#0a2210"/><circle cx="45" cy="20" r="2.0" fill="#081c1e"/><circle cx="43" cy="43" r="2.3" fill="#0a2210"/><circle cx="60" cy="26" r="2.0" fill="#0c2614"/><circle cx="111" cy="29" r="2.2" fill="#0a2210"/><circle cx="82" cy="16" r="2.2" fill="#0c2614"/><circle cx="71" cy="11" r="2.3" fill="#0a2210"/><circle cx="32" cy="57" r="3.1" fill="#0a2210"/><circle cx="52" cy="126" r="3.1" fill="#081c1e"/><circle cx="116" cy="55" r="2.8" fill="#0a2210"/><circle cx="117" cy="101" r="2.8" fill="#0c2614"/><circle cx="5" cy="84" r="3.1" fill="#081c1e"/><circle cx="102" cy="94" r="2.7" fill="#0c2614"/><circle cx="38" cy="49" r="2.7" fill="#081c1e"/><circle cx="51" cy="105" r="2.1" fill="#081c1e"/><circle cx="77" cy="64" r="3.1" fill="#0c2614"/><circle cx="99" cy="20" r="2.4" fill="#0a2210"/><circle cx="35" cy="89" r="3.3" fill="#0a2210"/><circle cx="49" cy="113" r="2.6" fill="#0a2210"/><circle cx="82" cy="62" r="2.8" fill="#081c1e"/><circle cx="95" cy="6" r="2.9" fill="#081c1e"/><circle cx="57" cy="101" r="2.0" fill="#0c2614"/><circle cx="21" cy="29" r="2.2" fill="#081c1e"/><circle cx="2" cy="101" r="3.2" fill="#141028"/></pattern>
<pattern id="spM2" width="173" height="173" patternUnits="userSpaceOnUse"><circle cx="82" cy="114" r="2.5" fill="#2ab060"/><circle cx="66" cy="172" r="2.2" fill="#22a036"/><circle cx="140" cy="119" r="2.4" fill="#22a036"/><circle cx="0" cy="108" r="3.0" fill="#2ab0b0"/><circle cx="28" cy="157" r="1.6" fill="#2ab060"/><circle cx="13" cy="119" r="2.0" fill="#2ab0b0"/><circle cx="138" cy="15" r="2.9" fill="#22a036"/><circle cx="88" cy="16" r="3.0" fill="#2ab0b0"/><circle cx="19" cy="73" r="1.7" fill="#2ab0b0"/><circle cx="153" cy="97" r="3.0" fill="#2ab060"/><circle cx="96" cy="88" r="1.6" fill="#22a036"/><circle cx="72" cy="103" r="2.2" fill="#2ab0b0"/><circle cx="94" cy="111" r="1.6" fill="#2ab060"/><circle cx="169" cy="115" r="2.0" fill="#2ab0b0"/><circle cx="150" cy="67" r="2.0" fill="#2ab0b0"/><circle cx="41" cy="63" r="2.3" fill="#22a036"/><circle cx="31" cy="66" r="2.8" fill="#2ab060"/><circle cx="90" cy="38" r="2.1" fill="#2ab0b0"/><circle cx="35" cy="105" r="2.6" fill="#2ab060"/><circle cx="31" cy="120" r="1.6" fill="#2ab0b0"/><circle cx="86" cy="104" r="2.6" fill="#22a036"/><circle cx="79" cy="36" r="1.9" fill="#2ab0b0"/><circle cx="121" cy="148" r="1.9" fill="#2ab060"/><circle cx="80" cy="95" r="1.8" fill="#22a036"/><circle cx="38" cy="105" r="2.9" fill="#2ab0b0"/><circle cx="31" cy="138" r="2.3" fill="#2ab060"/><circle cx="107" cy="170" r="3.0" fill="#22a036"/><circle cx="27" cy="160" r="2.8" fill="#22a036"/><circle cx="144" cy="111" r="1.8" fill="#22a036"/><circle cx="87" cy="85" r="2.0" fill="#22a036"/><circle cx="164" cy="155" r="1.7" fill="#2ab0b0"/><circle cx="107" cy="8" r="2.0" fill="#22a036"/><circle cx="111" cy="77" r="2.7" fill="#22a036"/><circle cx="49" cy="44" r="2.5" fill="#22a036"/><circle cx="5" cy="97" r="1.9" fill="#2ab060"/><circle cx="42" cy="75" r="3.0" fill="#22a036"/><circle cx="99" cy="124" r="2.9" fill="#2ab0b0"/><circle cx="132" cy="72" r="2.4" fill="#2ab0b0"/><circle cx="137" cy="100" r="2.0" fill="#2ab0b0"/><circle cx="110" cy="67" r="1.7" fill="#22a036"/><circle cx="123" cy="156" r="2.7" fill="#2ab060"/><circle cx="158" cy="93" r="2.7" fill="#2ab0b0"/><circle cx="137" cy="123" r="1.8" fill="#2ab0b0"/><circle cx="162" cy="119" r="2.3" fill="#22a036"/><circle cx="106" cy="37" r="2.4" fill="#22a036"/><circle cx="68" cy="43" r="2.1" fill="#2ab0b0"/><circle cx="14" cy="58" r="2.5" fill="#22a036"/><circle cx="54" cy="120" r="2.6" fill="#22a036"/><circle cx="110" cy="75" r="1.8" fill="#2ab060"/><circle cx="84" cy="77" r="1.8" fill="#22a036"/><circle cx="103" cy="79" r="2.8" fill="#2ab060"/><circle cx="163" cy="1" r="2.0" fill="#2ab0b0"/><circle cx="147" cy="119" r="1.9" fill="#22a036"/><circle cx="159" cy="87" r="2.5" fill="#2ab060"/><circle cx="87" cy="67" r="2.3" fill="#22a036"/></pattern>
<pattern id="spM3" width="173" height="173" patternUnits="userSpaceOnUse"><circle cx="45" cy="119" r="2.7" fill="#30c0c0"/><circle cx="113" cy="115" r="3.0" fill="#2aa040"/><circle cx="127" cy="23" r="2.5" fill="#30c0c0"/><circle cx="129" cy="5" r="1.8" fill="#2aa040"/><circle cx="105" cy="2" r="2.0" fill="#30c0c0"/><circle cx="15" cy="137" r="3.0" fill="#38d0d0"/><circle cx="143" cy="129" r="3.1" fill="#38d0d0"/><circle cx="62" cy="40" r="3.0" fill="#2aa040"/><circle cx="98" cy="74" r="2.2" fill="#38d0d0"/><circle cx="110" cy="113" r="2.2" fill="#2aa040"/><circle cx="138" cy="171" r="2.7" fill="#2aa040"/><circle cx="106" cy="171" r="2.3" fill="#2aa040"/><circle cx="77" cy="31" r="1.9" fill="#2aa040"/><circle cx="62" cy="64" r="2.0" fill="#38d0d0"/><circle cx="68" cy="23" r="2.4" fill="#30c0c0"/><circle cx="98" cy="153" r="2.7" fill="#30c0c0"/><circle cx="13" cy="113" r="3.1" fill="#38d0d0"/><circle cx="0" cy="73" r="3.0" fill="#30c0c0"/><circle cx="25" cy="139" r="2.9" fill="#2aa040"/><circle cx="44" cy="127" r="2.8" fill="#38d0d0"/><circle cx="153" cy="139" r="1.9" fill="#2aa040"/><circle cx="65" cy="124" r="1.8" fill="#2aa040"/><circle cx="104" cy="125" r="1.9" fill="#2aa040"/><circle cx="7" cy="121" r="1.7" fill="#2aa040"/><circle cx="126" cy="59" r="2.1" fill="#30c0c0"/><circle cx="136" cy="96" r="3.0" fill="#30c0c0"/><circle cx="12" cy="111" r="2.5" fill="#2aa040"/><circle cx="120" cy="168" r="2.9" fill="#2aa040"/><circle cx="16" cy="1" r="3.2" fill="#30c0c0"/><circle cx="71" cy="157" r="2.5" fill="#2aa040"/><circle cx="13" cy="81" r="2.2" fill="#30c0c0"/><circle cx="1" cy="58" r="2.4" fill="#2aa040"/><circle cx="89" cy="82" r="2.7" fill="#38d0d0"/><circle cx="138" cy="65" r="2.7" fill="#30c0c0"/><circle cx="128" cy="45" r="2.7" fill="#30c0c0"/><circle cx="45" cy="102" r="2.2" fill="#30c0c0"/><circle cx="102" cy="74" r="2.6" fill="#38d0d0"/><circle cx="7" cy="69" r="1.7" fill="#30c0c0"/><circle cx="104" cy="1" r="2.8" fill="#30c0c0"/><circle cx="78" cy="172" r="2.2" fill="#30c0c0"/><circle cx="50" cy="75" r="1.8" fill="#30c0c0"/><circle cx="19" cy="142" r="1.9" fill="#38d0d0"/><circle cx="104" cy="50" r="2.2" fill="#30c0c0"/><circle cx="62" cy="76" r="3.0" fill="#38d0d0"/><circle cx="8" cy="93" r="1.8" fill="#30c0c0"/><circle cx="56" cy="154" r="2.5" fill="#30c0c0"/><circle cx="156" cy="155" r="3.1" fill="#2aa040"/><circle cx="26" cy="83" r="2.2" fill="#38d0d0"/><circle cx="46" cy="142" r="1.7" fill="#30c0c0"/><circle cx="115" cy="162" r="2.4" fill="#38d0d0"/><circle cx="34" cy="68" r="1.7" fill="#2aa040"/><circle cx="155" cy="20" r="1.8" fill="#2aa040"/><circle cx="131" cy="64" r="2.2" fill="#30c0c0"/><circle cx="166" cy="52" r="1.7" fill="#30c0c0"/><circle cx="161" cy="29" r="1.6" fill="#2aa040"/><circle cx="124" cy="150" r="3.2" fill="#2aa040"/><circle cx="73" cy="108" r="2.9" fill="#2aa040"/><circle cx="121" cy="159" r="1.7" fill="#30c0c0"/><circle cx="53" cy="172" r="2.4" fill="#38d0d0"/><circle cx="26" cy="26" r="2.1" fill="#2aa040"/></pattern>
<pattern id="spG" width="173" height="173" patternUnits="userSpaceOnUse"><circle cx="18" cy="122" r="2.1" fill="#2a3a4a"/><circle cx="47" cy="44" r="2.3" fill="#3a3a3a"/><circle cx="52" cy="118" r="1.8" fill="#1e6a26"/><circle cx="46" cy="151" r="1.7" fill="#2a7030"/><circle cx="62" cy="109" r="2.0" fill="#2a3a4a"/><circle cx="95" cy="115" r="1.5" fill="#1e6a26"/><circle cx="21" cy="58" r="1.4" fill="#2a3a4a"/><circle cx="148" cy="66" r="2.1" fill="#3a3a3a"/><circle cx="155" cy="16" r="2.1" fill="#1e6a26"/><circle cx="100" cy="110" r="1.8" fill="#1e6a26"/><circle cx="129" cy="84" r="2.2" fill="#2a7030"/><circle cx="78" cy="38" r="2.3" fill="#2a7030"/><circle cx="18" cy="142" r="1.4" fill="#2a7030"/><circle cx="20" cy="28" r="1.8" fill="#1e6a26"/><circle cx="74" cy="168" r="1.5" fill="#3a3a3a"/><circle cx="79" cy="84" r="1.9" fill="#1e6a26"/><circle cx="44" cy="68" r="1.9" fill="#3a3a3a"/><circle cx="11" cy="25" r="2.2" fill="#3a3a3a"/><circle cx="3" cy="122" r="2.5" fill="#3a3a3a"/><circle cx="4" cy="123" r="1.8" fill="#3a3a3a"/><circle cx="46" cy="52" r="1.5" fill="#3a3a3a"/><circle cx="138" cy="16" r="1.4" fill="#2a3a4a"/><circle cx="54" cy="170" r="2.1" fill="#2a7030"/><circle cx="90" cy="139" r="2.6" fill="#1e6a26"/><circle cx="6" cy="25" r="1.6" fill="#2a3a4a"/><circle cx="43" cy="87" r="1.5" fill="#2a3a4a"/><circle cx="104" cy="159" r="1.7" fill="#2a7030"/><circle cx="5" cy="159" r="2.3" fill="#2a3a4a"/><circle cx="88" cy="146" r="1.8" fill="#3a3a3a"/><circle cx="42" cy="67" r="2.0" fill="#2a7030"/><circle cx="84" cy="165" r="1.3" fill="#3a3a3a"/><circle cx="81" cy="59" r="1.6" fill="#1e6a26"/><circle cx="22" cy="9" r="2.5" fill="#2a3a4a"/><circle cx="45" cy="77" r="2.0" fill="#3a3a3a"/><circle cx="9" cy="18" r="2.2" fill="#3a3a3a"/><circle cx="72" cy="77" r="1.4" fill="#2a3a4a"/><circle cx="25" cy="116" r="1.6" fill="#2a7030"/><circle cx="172" cy="103" r="2.4" fill="#1e6a26"/><circle cx="100" cy="81" r="2.5" fill="#2a7030"/><circle cx="161" cy="149" r="1.4" fill="#1e6a26"/><circle cx="159" cy="12" r="2.4" fill="#1e6a26"/><circle cx="151" cy="143" r="2.5" fill="#1e6a26"/><circle cx="0" cy="117" r="1.4" fill="#3a3a3a"/><circle cx="153" cy="26" r="2.4" fill="#3a3a3a"/><circle cx="136" cy="86" r="2.0" fill="#2a7030"/></pattern>
<pattern id="spC" width="173" height="173" patternUnits="userSpaceOnUse"><circle cx="167" cy="2" r="2.4" fill="#2a8080"/><circle cx="158" cy="41" r="1.4" fill="#3a9a9a"/><circle cx="25" cy="120" r="1.9" fill="#2a8080"/><circle cx="58" cy="123" r="1.7" fill="#2a7070"/><circle cx="60" cy="162" r="1.6" fill="#2a7070"/><circle cx="138" cy="39" r="2.7" fill="#3a9a9a"/><circle cx="73" cy="100" r="2.6" fill="#2a7070"/><circle cx="14" cy="98" r="1.8" fill="#3a9a9a"/><circle cx="55" cy="120" r="2.0" fill="#2a8080"/><circle cx="85" cy="163" r="1.3" fill="#2a8080"/><circle cx="92" cy="106" r="2.5" fill="#3a9a9a"/><circle cx="3" cy="92" r="1.5" fill="#2a8080"/><circle cx="154" cy="68" r="1.4" fill="#3a9a9a"/><circle cx="145" cy="96" r="1.9" fill="#3a9a9a"/><circle cx="40" cy="94" r="2.1" fill="#2a8080"/><circle cx="41" cy="54" r="2.5" fill="#2a7070"/><circle cx="67" cy="82" r="2.6" fill="#2a8080"/><circle cx="131" cy="145" r="1.7" fill="#2a8080"/><circle cx="20" cy="85" r="1.9" fill="#2a7070"/><circle cx="161" cy="128" r="1.7" fill="#2a8080"/><circle cx="78" cy="10" r="1.7" fill="#2a7070"/><circle cx="98" cy="151" r="2.0" fill="#3a9a9a"/><circle cx="11" cy="146" r="2.2" fill="#2a7070"/><circle cx="40" cy="131" r="2.0" fill="#3a9a9a"/><circle cx="44" cy="15" r="1.3" fill="#2a7070"/><circle cx="130" cy="145" r="2.0" fill="#2a8080"/><circle cx="107" cy="122" r="2.2" fill="#2a7070"/><circle cx="95" cy="5" r="1.9" fill="#2a7070"/><circle cx="3" cy="116" r="1.8" fill="#2a7070"/><circle cx="157" cy="0" r="1.7" fill="#2a7070"/><circle cx="171" cy="57" r="2.7" fill="#3a9a9a"/><circle cx="102" cy="85" r="1.3" fill="#2a7070"/><circle cx="121" cy="59" r="1.4" fill="#2a8080"/><circle cx="111" cy="87" r="2.7" fill="#3a9a9a"/><circle cx="100" cy="58" r="2.6" fill="#2a8080"/><circle cx="58" cy="55" r="2.0" fill="#3a9a9a"/><circle cx="95" cy="84" r="2.7" fill="#2a7070"/><circle cx="160" cy="101" r="1.5" fill="#2a8080"/><circle cx="123" cy="80" r="1.5" fill="#2a8080"/><circle cx="100" cy="95" r="2.4" fill="#2a7070"/><circle cx="70" cy="170" r="2.3" fill="#3a9a9a"/><circle cx="20" cy="92" r="2.0" fill="#2a8080"/><circle cx="144" cy="119" r="2.7" fill="#2a7070"/><circle cx="150" cy="171" r="2.3" fill="#2a7070"/><circle cx="5" cy="58" r="2.4" fill="#2a7070"/><circle cx="173" cy="10" r="2.7" fill="#3a9a9a"/><circle cx="101" cy="37" r="1.4" fill="#2a7070"/><circle cx="35" cy="117" r="2.5" fill="#3a9a9a"/><circle cx="77" cy="28" r="2.6" fill="#2a7070"/><circle cx="27" cy="150" r="1.4" fill="#2a7070"/><circle cx="39" cy="128" r="1.6" fill="#3a9a9a"/><circle cx="25" cy="30" r="2.8" fill="#2a7070"/><circle cx="81" cy="30" r="1.4" fill="#2a7070"/><circle cx="160" cy="169" r="1.7" fill="#2a8080"/><circle cx="78" cy="70" r="2.3" fill="#2a8080"/></pattern>
<pattern id="spC3" width="173" height="173" patternUnits="userSpaceOnUse"><circle cx="63" cy="83" r="2.4" fill="#3a9a9a"/><circle cx="1" cy="148" r="2.9" fill="#40b0b0"/><circle cx="110" cy="2" r="2.1" fill="#3a9a9a"/><circle cx="115" cy="165" r="2.7" fill="#40b0b0"/><circle cx="137" cy="165" r="2.1" fill="#40b0b0"/><circle cx="140" cy="115" r="1.6" fill="#3a9a9a"/><circle cx="104" cy="122" r="3.4" fill="#3a9a9a"/><circle cx="63" cy="73" r="1.8" fill="#3a9a9a"/><circle cx="73" cy="111" r="3.3" fill="#3a9a9a"/><circle cx="100" cy="49" r="1.8" fill="#40b0b0"/><circle cx="91" cy="41" r="1.9" fill="#3a9a9a"/><circle cx="55" cy="78" r="1.9" fill="#3a9a9a"/><circle cx="126" cy="2" r="3.1" fill="#3a9a9a"/><circle cx="2" cy="145" r="2.9" fill="#40b0b0"/><circle cx="79" cy="106" r="2.5" fill="#40b0b0"/><circle cx="167" cy="122" r="3.3" fill="#3a9a9a"/><circle cx="6" cy="7" r="2.8" fill="#60d0d0"/><circle cx="55" cy="88" r="3.3" fill="#60d0d0"/><circle cx="113" cy="141" r="2.0" fill="#40b0b0"/><circle cx="122" cy="94" r="2.0" fill="#3a9a9a"/><circle cx="108" cy="159" r="1.8" fill="#60d0d0"/><circle cx="8" cy="146" r="2.3" fill="#60d0d0"/><circle cx="120" cy="41" r="2.6" fill="#40b0b0"/><circle cx="91" cy="159" r="1.8" fill="#40b0b0"/><circle cx="46" cy="70" r="2.3" fill="#60d0d0"/><circle cx="81" cy="45" r="1.7" fill="#60d0d0"/><circle cx="34" cy="115" r="3.3" fill="#60d0d0"/><circle cx="66" cy="141" r="1.8" fill="#60d0d0"/><circle cx="19" cy="20" r="2.4" fill="#3a9a9a"/><circle cx="41" cy="153" r="3.2" fill="#3a9a9a"/><circle cx="87" cy="68" r="2.3" fill="#3a9a9a"/><circle cx="143" cy="149" r="2.0" fill="#3a9a9a"/><circle cx="146" cy="84" r="2.6" fill="#40b0b0"/><circle cx="147" cy="130" r="3.0" fill="#60d0d0"/><circle cx="86" cy="92" r="2.4" fill="#60d0d0"/><circle cx="76" cy="23" r="2.6" fill="#60d0d0"/><circle cx="171" cy="19" r="2.8" fill="#40b0b0"/><circle cx="80" cy="139" r="2.9" fill="#40b0b0"/><circle cx="89" cy="92" r="1.8" fill="#3a9a9a"/><circle cx="70" cy="68" r="2.0" fill="#3a9a9a"/><circle cx="36" cy="2" r="1.6" fill="#3a9a9a"/><circle cx="68" cy="108" r="1.7" fill="#60d0d0"/><circle cx="4" cy="108" r="1.9" fill="#60d0d0"/><circle cx="120" cy="39" r="2.5" fill="#60d0d0"/><circle cx="148" cy="115" r="2.7" fill="#60d0d0"/><circle cx="163" cy="46" r="1.7" fill="#60d0d0"/><circle cx="138" cy="88" r="2.0" fill="#60d0d0"/><circle cx="83" cy="24" r="2.4" fill="#60d0d0"/><circle cx="157" cy="19" r="1.6" fill="#3a9a9a"/><circle cx="126" cy="173" r="3.1" fill="#40b0b0"/><circle cx="27" cy="32" r="2.7" fill="#60d0d0"/><circle cx="20" cy="164" r="2.0" fill="#40b0b0"/><circle cx="98" cy="16" r="3.3" fill="#3a9a9a"/><circle cx="14" cy="6" r="1.9" fill="#60d0d0"/><circle cx="126" cy="27" r="2.0" fill="#40b0b0"/><circle cx="130" cy="20" r="3.2" fill="#3a9a9a"/><circle cx="45" cy="106" r="2.7" fill="#3a9a9a"/><circle cx="129" cy="65" r="1.6" fill="#40b0b0"/><circle cx="143" cy="37" r="2.3" fill="#40b0b0"/><circle cx="103" cy="71" r="2.9" fill="#60d0d0"/></pattern>
<pattern id="spR" width="173" height="173" patternUnits="userSpaceOnUse"><circle cx="90" cy="140" r="2.9" fill="#4a0c14"/><circle cx="30" cy="122" r="2.3" fill="#4a0c14"/><circle cx="19" cy="5" r="2.1" fill="#4a0c14"/><circle cx="44" cy="87" r="2.0" fill="#4a0c14"/><circle cx="24" cy="95" r="1.7" fill="#3a0810"/><circle cx="26" cy="122" r="2.3" fill="#3a0810"/><circle cx="57" cy="21" r="2.6" fill="#3a0810"/><circle cx="53" cy="14" r="2.9" fill="#4a0c14"/><circle cx="111" cy="104" r="2.5" fill="#4a0c14"/><circle cx="141" cy="159" r="1.5" fill="#4a0c14"/><circle cx="99" cy="155" r="2.6" fill="#3a0810"/><circle cx="166" cy="65" r="2.7" fill="#4a0c14"/></pattern>
<linearGradient id="gL1" gradientUnits="userSpaceOnUse" x1="0" y1="520" x2="520" y2="0"><stop offset="0" stop-color="#e0b020"/><stop offset="0.55" stop-color="#a8d828"/><stop offset="1" stop-color="#50d838"/></linearGradient>
<linearGradient id="gL2" gradientUnits="userSpaceOnUse" x1="0" y1="520" x2="520" y2="0"><stop offset="0" stop-color="#f4ec30"/><stop offset="0.55" stop-color="#e4f040"/><stop offset="1" stop-color="#a8f070"/></linearGradient>
</defs>
<svg x="63" y="372" width="108.3" height="108" viewBox="0 0 520 520" preserveAspectRatio="none"><rect width="520" height="520" fill="#000"/><rect width="520" height="520" fill="#030805"/><rect width="520" height="520" fill="url(#nz)"/><rect width="520" height="520" fill="url(#spM1)"/><path d="M98 72C104 72 126 76 135 74C144 72 149 65 155 60C161 55 165 50 172 46C179 42 192 39 196 38M492 252C493 260 498 284 500 300C502 316 505 337 505 350C505 363 503 369 500 380C497 391 488 409 486 415M410 310L380 300M398 250L440 300M492 140C495 135 505 117 510 110C515 103 518 102 520 100" stroke="#b02020" stroke-width="9" fill="none" stroke-linecap="round" stroke-linejoin="round"/><path d="" stroke="#b82020" stroke-width="12" fill="none" stroke-linecap="round" stroke-linejoin="round"/><path d="M20 0C19 7 16 28 14 40C12 52 8 65 6 72C4 79 1 82 0 84M120 166C117 171 111 188 104 196C97 204 89 208 80 215C71 222 59 228 50 235C41 242 31 246 25 256C19 266 16 280 14 292C12 304 10 318 10 330C10 342 12 355 15 365C18 375 25 383 30 392C35 401 42 410 46 420C50 430 50 440 52 450C54 460 56 468 55 480C54 492 48 513 46 520" stroke="#d83a20" stroke-width="22.5" fill="none" stroke-linecap="round" stroke-linejoin="round"/><path d="M165 440C171 441 189 446 200 445C211 444 220 439 230 436C240 433 250 432 260 428C270 424 280 416 290 410C300 404 312 396 320 390C328 384 337 378 340 375" stroke="#b8d040" stroke-width="22.5" fill="none" stroke-linecap="round" stroke-linejoin="round"/><path d="M340 350C344 346 354 334 362 326C370 318 380 308 390 305C400 302 411 308 420 310C429 312 442 315 446 316" stroke="#e87020" stroke-width="22.5" fill="none" stroke-linecap="round" stroke-linejoin="round"/><path d="M262 10L292 0" stroke="#e8501c" stroke-width="22.5" fill="none" stroke-linecap="round" stroke-linejoin="round"/><path d="M4 84C8 86 21 92 28 98C35 104 38 116 45 122C52 128 61 130 70 134C79 138 92 141 100 146C108 151 117 163 120 166" stroke="#e8501c" stroke-width="18.0" fill="none" stroke-linecap="round" stroke-linejoin="round"/><path d="M0 150C5 150 20 153 30 150C40 147 57 137 62 134" stroke="#e87020" stroke-width="18.0" fill="none" stroke-linecap="round" stroke-linejoin="round"/><path d="M318 236C323 237 338 240 350 240C362 240 382 238 388 238" stroke="#b8d040" stroke-width="18.0" fill="none" stroke-linecap="round" stroke-linejoin="round"/><path d="M394 200C397 195 404 178 412 172C420 166 434 163 445 162C456 161 472 159 480 164C488 169 491 179 494 190C497 201 500 218 500 228C500 238 497 247 492 252C487 257 478 256 470 258C462 260 454 262 446 262C438 262 429 259 420 256C411 253 398 246 394 244" stroke="#d83a20" stroke-width="18.0" fill="none" stroke-linecap="round" stroke-linejoin="round"/><path d="M46 422C42 428 30 451 22 460C14 469 4 475 0 478M468 68C470 64 476 53 480 42C484 31 490 7 492 0" stroke="#d83a20" stroke-width="14.4" fill="none" stroke-linecap="round" stroke-linejoin="round"/><path d="M356 160C352 161 337 163 330 168C323 173 319 182 316 190C313 198 312 207 312 215C312 223 317 232 318 236M388 238C386 242 381 254 378 262C375 270 370 277 372 284C374 291 387 302 390 305M446 316C447 322 449 338 450 350C451 362 451 375 452 385C453 395 455 406 456 410" stroke="#e87020" stroke-width="14.4" fill="none" stroke-linecap="round" stroke-linejoin="round"/><path d="M120 166C123 162 133 151 138 142C143 133 145 120 150 112C155 104 158 99 166 95C174 91 190 88 200 88C210 88 221 88 228 92C235 96 241 102 244 110C247 118 247 130 245 140C243 150 239 162 232 170C225 178 214 184 204 190C194 196 181 200 172 206C163 212 157 219 152 226C147 233 144 246 143 250M356 160C361 162 382 164 388 172C394 180 394 194 394 205C394 216 389 232 388 238" stroke="#d83a20" stroke-width="19.8" fill="none" stroke-linecap="round" stroke-linejoin="round"/><path d="M195 366C200 365 213 363 222 360C231 357 240 349 250 346C260 343 270 339 280 340C290 341 300 352 310 354C320 356 335 351 340 350" stroke="#e87020" stroke-width="19.8" fill="none" stroke-linecap="round" stroke-linejoin="round"/><path d="M384 500L376 520M244 118C247 116 255 108 262 108C269 108 277 117 285 115C293 113 303 100 308 95C313 90 315 86 316 84" stroke="#e8501c" stroke-width="19.8" fill="none" stroke-linecap="round" stroke-linejoin="round"/><path d="M120 166C119 173 113 198 115 210C117 222 125 230 130 240C135 250 143 259 145 268C147 277 145 286 140 295C135 304 123 312 116 320C109 328 101 331 96 340C91 349 90 364 86 375C82 386 77 397 70 405C63 413 50 419 46 422" stroke="#d83a20" stroke-width="16.2" fill="none" stroke-linecap="round" stroke-linejoin="round"/><path d="M386 0C385 8 381 33 378 50C375 67 373 85 370 100C367 115 364 130 362 140C360 150 357 157 356 160M340 350C341 354 342 368 346 375C350 382 357 388 366 390C375 392 388 388 400 390C412 392 427 397 436 400C445 403 448 408 456 410C464 412 475 415 486 415C497 415 514 411 520 410" stroke="#e8501c" stroke-width="16.2" fill="none" stroke-linecap="round" stroke-linejoin="round"/><path d="M318 236C314 239 303 249 295 256C287 263 278 273 270 280C262 287 257 293 250 300C243 307 237 316 230 324C223 332 216 339 210 346C204 353 200 358 195 366C190 374 185 385 180 396C175 407 170 419 165 430C160 441 154 452 150 460C146 468 140 477 138 480M456 410C454 414 451 428 446 436C441 444 433 452 426 460C419 468 411 477 404 484C397 491 391 499 384 500C377 501 368 496 360 490C352 484 342 472 336 466C330 460 330 454 324 455C318 456 308 464 300 470C292 476 283 485 276 490C269 495 261 500 258 502" stroke="#b8d040" stroke-width="16.2" fill="none" stroke-linecap="round" stroke-linejoin="round"/><path d="M446 262C446 267 448 281 448 290C448 299 446 312 446 316M445 162C444 157 441 141 442 130C443 119 446 105 450 95C454 85 462 70 468 68C474 66 483 76 488 85C493 94 496 112 496 125C496 138 488 154 486 160M505 340L520 335" stroke="#e87020" stroke-width="16.2" fill="none" stroke-linecap="round" stroke-linejoin="round"/><path d="M20 0C19 7 16 28 14 40C12 52 8 65 6 72C4 79 1 82 0 84M120 166C117 171 111 188 104 196C97 204 89 208 80 215C71 222 59 228 50 235C41 242 31 246 25 256C19 266 16 280 14 292C12 304 10 318 10 330C10 342 12 355 15 365C18 375 25 383 30 392C35 401 42 410 46 420C50 430 50 440 52 450C54 460 56 468 55 480C54 492 48 513 46 520" stroke="#f4e040" stroke-width="17.5" fill="none" stroke-linecap="round" stroke-linejoin="round"/><path d="M165 440C171 441 189 446 200 445C211 444 220 439 230 436C240 433 250 432 260 428C270 424 280 416 290 410C300 404 312 396 320 390C328 384 337 378 340 375" stroke="#e8f8a0" stroke-width="17.5" fill="none" stroke-linecap="round" stroke-linejoin="round"/><path d="M340 350C344 346 354 334 362 326C370 318 380 308 390 305C400 302 411 308 420 310C429 312 442 315 446 316" stroke="#f8e050" stroke-width="17.5" fill="none" stroke-linecap="round" stroke-linejoin="round"/><path d="M262 10L292 0" stroke="#f8f048" stroke-width="17.5" fill="none" stroke-linecap="round" stroke-linejoin="round"/><path d="M4 84C8 86 21 92 28 98C35 104 38 116 45 122C52 128 61 130 70 134C79 138 92 141 100 146C108 151 117 163 120 166" stroke="#f8f048" stroke-width="14.0" fill="none" stroke-linecap="round" stroke-linejoin="round"/><path d="M0 150C5 150 20 153 30 150C40 147 57 137 62 134" stroke="#f8e050" stroke-width="14.0" fill="none" stroke-linecap="round" stroke-linejoin="round"/><path d="M318 236C323 237 338 240 350 240C362 240 382 238 388 238" stroke="#e8f8a0" stroke-width="14.0" fill="none" stroke-linecap="round" stroke-linejoin="round"/><path d="M394 200C397 195 404 178 412 172C420 166 434 163 445 162C456 161 472 159 480 164C488 169 491 179 494 190C497 201 500 218 500 228C500 238 497 247 492 252C487 257 478 256 470 258C462 260 454 262 446 262C438 262 429 259 420 256C411 253 398 246 394 244" stroke="#f4e040" stroke-width="14.0" fill="none" stroke-linecap="round" stroke-linejoin="round"/><path d="M46 422C42 428 30 451 22 460C14 469 4 475 0 478M468 68C470 64 476 53 480 42C484 31 490 7 492 0" stroke="#f4e040" stroke-width="11.2" fill="none" stroke-linecap="round" stroke-linejoin="round"/><path d="M356 160C352 161 337 163 330 168C323 173 319 182 316 190C313 198 312 207 312 215C312 223 317 232 318 236M388 238C386 242 381 254 378 262C375 270 370 277 372 284C374 291 387 302 390 305M446 316C447 322 449 338 450 350C451 362 451 375 452 385C453 395 455 406 456 410" stroke="#f8e050" stroke-width="11.2" fill="none" stroke-linecap="round" stroke-linejoin="round"/><path d="M120 166C123 162 133 151 138 142C143 133 145 120 150 112C155 104 158 99 166 95C174 91 190 88 200 88C210 88 221 88 228 92C235 96 241 102 244 110C247 118 247 130 245 140C243 150 239 162 232 170C225 178 214 184 204 190C194 196 181 200 172 206C163 212 157 219 152 226C147 233 144 246 143 250M356 160C361 162 382 164 388 172C394 180 394 194 394 205C394 216 389 232 388 238" stroke="#f4e040" stroke-width="15.4" fill="none" stroke-linecap="round" stroke-linejoin="round"/><path d="M195 366C200 365 213 363 222 360C231 357 240 349 250 346C260 343 270 339 280 340C290 341 300 352 310 354C320 356 335 351 340 350" stroke="#f8e050" stroke-width="15.4" fill="none" stroke-linecap="round" stroke-linejoin="round"/><path d="M384 500L376 520M244 118C247 116 255 108 262 108C269 108 277 117 285 115C293 113 303 100 308 95C313 90 315 86 316 84" stroke="#f8f048" stroke-width="15.4" fill="none" stroke-linecap="round" stroke-linejoin="round"/><path d="M120 166C119 173 113 198 115 210C117 222 125 230 130 240C135 250 143 259 145 268C147 277 145 286 140 295C135 304 123 312 116 320C109 328 101 331 96 340C91 349 90 364 86 375C82 386 77 397 70 405C63 413 50 419 46 422" stroke="#f4e040" stroke-width="12.6" fill="none" stroke-linecap="round" stroke-linejoin="round"/><path d="M386 0C385 8 381 33 378 50C375 67 373 85 370 100C367 115 364 130 362 140C360 150 357 157 356 160M340 350C341 354 342 368 346 375C350 382 357 388 366 390C375 392 388 388 400 390C412 392 427 397 436 400C445 403 448 408 456 410C464 412 475 415 486 415C497 415 514 411 520 410" stroke="#f8f048" stroke-width="12.6" fill="none" stroke-linecap="round" stroke-linejoin="round"/><path d="M318 236C314 239 303 249 295 256C287 263 278 273 270 280C262 287 257 293 250 300C243 307 237 316 230 324C223 332 216 339 210 346C204 353 200 358 195 366C190 374 185 385 180 396C175 407 170 419 165 430C160 441 154 452 150 460C146 468 140 477 138 480M456 410C454 414 451 428 446 436C441 444 433 452 426 460C419 468 411 477 404 484C397 491 391 499 384 500C377 501 368 496 360 490C352 484 342 472 336 466C330 460 330 454 324 455C318 456 308 464 300 470C292 476 283 485 276 490C269 495 261 500 258 502" stroke="#e8f8a0" stroke-width="12.6" fill="none" stroke-linecap="round" stroke-linejoin="round"/><path d="M446 262C446 267 448 281 448 290C448 299 446 312 446 316M445 162C444 157 441 141 442 130C443 119 446 105 450 95C454 85 462 70 468 68C474 66 483 76 488 85C493 94 496 112 496 125C496 138 488 154 486 160M505 340L520 335" stroke="#f8e050" stroke-width="12.6" fill="none" stroke-linecap="round" stroke-linejoin="round"/><path d="M20 0C19 7 16 28 14 40C12 52 8 65 6 72C4 79 1 82 0 84M120 166C117 171 111 188 104 196C97 204 89 208 80 215C71 222 59 228 50 235C41 242 31 246 25 256C19 266 16 280 14 292C12 304 10 318 10 330C10 342 12 355 15 365C18 375 25 383 30 392C35 401 42 410 46 420C50 430 50 440 52 450C54 460 56 468 55 480C54 492 48 513 46 520" stroke="#fffbe8" stroke-width="10.0" fill="none" stroke-linecap="round" stroke-linejoin="round"/><path d="M165 440C171 441 189 446 200 445C211 444 220 439 230 436C240 433 250 432 260 428C270 424 280 416 290 410C300 404 312 396 320 390C328 384 337 378 340 375" stroke="#ffffff" stroke-width="10.0" fill="none" stroke-linecap="round" stroke-linejoin="round"/><path d="M340 350C344 346 354 334 362 326C370 318 380 308 390 305C400 302 411 308 420 310C429 312 442 315 446 316" stroke="#fff8d0" stroke-width="10.0" fill="none" stroke-linecap="round" stroke-linejoin="round"/><path d="M262 10L292 0" stroke="#ffffff" stroke-width="10.0" fill="none" stroke-linecap="round" stroke-linejoin="round"/><path d="M4 84C8 86 21 92 28 98C35 104 38 116 45 122C52 128 61 130 70 134C79 138 92 141 100 146C108 151 117 163 120 166" stroke="#ffffff" stroke-width="8.0" fill="none" stroke-linecap="round" stroke-linejoin="round"/><path d="M0 150C5 150 20 153 30 150C40 147 57 137 62 134" stroke="#fff8d0" stroke-width="8.0" fill="none" stroke-linecap="round" stroke-linejoin="round"/><path d="M318 236C323 237 338 240 350 240C362 240 382 238 388 238" stroke="#ffffff" stroke-width="8.0" fill="none" stroke-linecap="round" stroke-linejoin="round"/><path d="M394 200C397 195 404 178 412 172C420 166 434 163 445 162C456 161 472 159 480 164C488 169 491 179 494 190C497 201 500 218 500 228C500 238 497 247 492 252C487 257 478 256 470 258C462 260 454 262 446 262C438 262 429 259 420 256C411 253 398 246 394 244" stroke="#fffbe8" stroke-width="8.0" fill="none" stroke-linecap="round" stroke-linejoin="round"/><path d="M46 422C42 428 30 451 22 460C14 469 4 475 0 478M468 68C470 64 476 53 480 42C484 31 490 7 492 0" stroke="#fffbe8" stroke-width="6.4" fill="none" stroke-linecap="round" stroke-linejoin="round"/><path d="M356 160C352 161 337 163 330 168C323 173 319 182 316 190C313 198 312 207 312 215C312 223 317 232 318 236M388 238C386 242 381 254 378 262C375 270 370 277 372 284C374 291 387 302 390 305M446 316C447 322 449 338 450 350C451 362 451 375 452 385C453 395 455 406 456 410" stroke="#fff8d0" stroke-width="6.4" fill="none" stroke-linecap="round" stroke-linejoin="round"/><path d="M120 166C123 162 133 151 138 142C143 133 145 120 150 112C155 104 158 99 166 95C174 91 190 88 200 88C210 88 221 88 228 92C235 96 241 102 244 110C247 118 247 130 245 140C243 150 239 162 232 170C225 178 214 184 204 190C194 196 181 200 172 206C163 212 157 219 152 226C147 233 144 246 143 250M356 160C361 162 382 164 388 172C394 180 394 194 394 205C394 216 389 232 388 238" stroke="#fffbe8" stroke-width="8.8" fill="none" stroke-linecap="round" stroke-linejoin="round"/><path d="M195 366C200 365 213 363 222 360C231 357 240 349 250 346C260 343 270 339 280 340C290 341 300 352 310 354C320 356 335 351 340 350" stroke="#fff8d0" stroke-width="8.8" fill="none" stroke-linecap="round" stroke-linejoin="round"/><path d="M384 500L376 520M244 118C247 116 255 108 262 108C269 108 277 117 285 115C293 113 303 100 308 95C313 90 315 86 316 84" stroke="#ffffff" stroke-width="8.8" fill="none" stroke-linecap="round" stroke-linejoin="round"/><path d="M120 166C119 173 113 198 115 210C117 222 125 230 130 240C135 250 143 259 145 268C147 277 145 286 140 295C135 304 123 312 116 320C109 328 101 331 96 340C91 349 90 364 86 375C82 386 77 397 70 405C63 413 50 419 46 422" stroke="#fffbe8" stroke-width="7.2" fill="none" stroke-linecap="round" stroke-linejoin="round"/><path d="M386 0C385 8 381 33 378 50C375 67 373 85 370 100C367 115 364 130 362 140C360 150 357 157 356 160M340 350C341 354 342 368 346 375C350 382 357 388 366 390C375 392 388 388 400 390C412 392 427 397 436 400C445 403 448 408 456 410C464 412 475 415 486 415C497 415 514 411 520 410" stroke="#ffffff" stroke-width="7.2" fill="none" stroke-linecap="round" stroke-linejoin="round"/><path d="M318 236C314 239 303 249 295 256C287 263 278 273 270 280C262 287 257 293 250 300C243 307 237 316 230 324C223 332 216 339 210 346C204 353 200 358 195 366C190 374 185 385 180 396C175 407 170 419 165 430C160 441 154 452 150 460C146 468 140 477 138 480M456 410C454 414 451 428 446 436C441 444 433 452 426 460C419 468 411 477 404 484C397 491 391 499 384 500C377 501 368 496 360 490C352 484 342 472 336 466C330 460 330 454 324 455C318 456 308 464 300 470C292 476 283 485 276 490C269 495 261 500 258 502" stroke="#ffffff" stroke-width="7.2" fill="none" stroke-linecap="round" stroke-linejoin="round"/><path d="M446 262C446 267 448 281 448 290C448 299 446 312 446 316M445 162C444 157 441 141 442 130C443 119 446 105 450 95C454 85 462 70 468 68C474 66 483 76 488 85C493 94 496 112 496 125C496 138 488 154 486 160M505 340L520 335" stroke="#fff8d0" stroke-width="7.2" fill="none" stroke-linecap="round" stroke-linejoin="round"/><circle cx="370" cy="100" r="10" fill="#f8f048"/><circle cx="228" cy="92" r="12" fill="#f8f048"/><circle cx="50" cy="235" r="8" fill="#f8f048"/><circle cx="496" cy="125" r="10" fill="#f8f048"/><circle cx="25" cy="256" r="13" fill="#f8f048"/><circle cx="324" cy="455" r="10" fill="#f8f048"/><circle cx="150" cy="112" r="10" fill="#f8f048"/><circle cx="195" cy="366" r="9" fill="#f8f048"/><circle cx="70" cy="134" r="10" fill="#f8f048"/><text x="450" y="212" style="font-size:52px;font-weight:bold;fill:#ececf4;text-anchor:middle">*</text><text x="383" y="391" style="font-size:52px;font-weight:bold;fill:#ececf4;text-anchor:middle">*</text></svg>
<svg x="173" y="372" width="106.6" height="108" viewBox="0 0 520 520" preserveAspectRatio="none"><rect width="520" height="520" fill="#000"/><rect width="520" height="520" fill="url(#spR)"/><path d="M98 72C104 72 126 76 135 74C144 72 149 65 155 60C161 55 165 50 172 46C179 42 192 39 196 38M492 252C493 260 498 284 500 300C502 316 505 337 505 350C505 363 503 369 500 380C497 391 488 409 486 415M410 310L380 300M398 250L440 300M492 140C495 135 505 117 510 110C515 103 518 102 520 100" stroke="#a0121c" stroke-width="6" fill="none" stroke-linecap="round" stroke-linejoin="round"/><path d="M20 0C19 7 16 28 14 40C12 52 8 65 6 72C4 79 1 82 0 84M4 84C8 86 21 92 28 98C35 104 38 116 45 122C52 128 61 130 70 134C79 138 92 141 100 146C108 151 117 163 120 166M0 150C5 150 20 153 30 150C40 147 57 137 62 134M120 166C117 171 111 188 104 196C97 204 89 208 80 215C71 222 59 228 50 235C41 242 31 246 25 256C19 266 16 280 14 292C12 304 10 318 10 330C10 342 12 355 15 365C18 375 25 383 30 392C35 401 42 410 46 420C50 430 50 440 52 450C54 460 56 468 55 480C54 492 48 513 46 520M46 422C42 428 30 451 22 460C14 469 4 475 0 478M120 166C123 162 133 151 138 142C143 133 145 120 150 112C155 104 158 99 166 95C174 91 190 88 200 88C210 88 221 88 228 92C235 96 241 102 244 110C247 118 247 130 245 140C243 150 239 162 232 170C225 178 214 184 204 190C194 196 181 200 172 206C163 212 157 219 152 226C147 233 144 246 143 250M120 166C119 173 113 198 115 210C117 222 125 230 130 240C135 250 143 259 145 268C147 277 145 286 140 295C135 304 123 312 116 320C109 328 101 331 96 340C91 349 90 364 86 375C82 386 77 397 70 405C63 413 50 419 46 422M386 0C385 8 381 33 378 50C375 67 373 85 370 100C367 115 364 130 362 140C360 150 357 157 356 160M356 160C352 161 337 163 330 168C323 173 319 182 316 190C313 198 312 207 312 215C312 223 317 232 318 236M318 236C323 237 338 240 350 240C362 240 382 238 388 238M356 160C361 162 382 164 388 172C394 180 394 194 394 205C394 216 389 232 388 238M318 236C314 239 303 249 295 256C287 263 278 273 270 280C262 287 257 293 250 300C243 307 237 316 230 324C223 332 216 339 210 346C204 353 200 358 195 366C190 374 185 385 180 396C175 407 170 419 165 430C160 441 154 452 150 460C146 468 140 477 138 480M195 366C200 365 213 363 222 360C231 357 240 349 250 346C260 343 270 339 280 340C290 341 300 352 310 354C320 356 335 351 340 350M165 440C171 441 189 446 200 445C211 444 220 439 230 436C240 433 250 432 260 428C270 424 280 416 290 410C300 404 312 396 320 390C328 384 337 378 340 375M388 238C386 242 381 254 378 262C375 270 370 277 372 284C374 291 387 302 390 305M340 350C344 346 354 334 362 326C370 318 380 308 390 305C400 302 411 308 420 310C429 312 442 315 446 316M340 350C341 354 342 368 346 375C350 382 357 388 366 390C375 392 388 388 400 390C412 392 427 397 436 400C445 403 448 408 456 410C464 412 475 415 486 415C497 415 514 411 520 410M446 316C447 322 449 338 450 350C451 362 451 375 452 385C453 395 455 406 456 410M456 410C454 414 451 428 446 436C441 444 433 452 426 460C419 468 411 477 404 484C397 491 391 499 384 500C377 501 368 496 360 490C352 484 342 472 336 466C330 460 330 454 324 455C318 456 308 464 300 470C292 476 283 485 276 490C269 495 261 500 258 502M384 500L376 520M394 200C397 195 404 178 412 172C420 166 434 163 445 162C456 161 472 159 480 164C488 169 491 179 494 190C497 201 500 218 500 228C500 238 497 247 492 252C487 257 478 256 470 258C462 260 454 262 446 262C438 262 429 259 420 256C411 253 398 246 394 244M446 262C446 267 448 281 448 290C448 299 446 312 446 316M445 162C444 157 441 141 442 130C443 119 446 105 450 95C454 85 462 70 468 68C474 66 483 76 488 85C493 94 496 112 496 125C496 138 488 154 486 160M468 68C470 64 476 53 480 42C484 31 490 7 492 0M262 10L292 0M244 118C247 116 255 108 262 108C269 108 277 117 285 115C293 113 303 100 308 95C313 90 315 86 316 84M505 340L520 335" stroke="#7a0a0e" stroke-width="26" fill="none" stroke-linecap="round" stroke-linejoin="round"/><path d="" stroke="#ff1c1c" stroke-width="19" fill="none" stroke-linecap="round" stroke-linejoin="round"/><path d="M20 0C19 7 16 28 14 40C12 52 8 65 6 72C4 79 1 82 0 84M120 166C117 171 111 188 104 196C97 204 89 208 80 215C71 222 59 228 50 235C41 242 31 246 25 256C19 266 16 280 14 292C12 304 10 318 10 330C10 342 12 355 15 365C18 375 25 383 30 392C35 401 42 410 46 420C50 430 50 440 52 450C54 460 56 468 55 480C54 492 48 513 46 520M165 440C171 441 189 446 200 445C211 444 220 439 230 436C240 433 250 432 260 428C270 424 280 416 290 410C300 404 312 396 320 390C328 384 337 378 340 375M340 350C344 346 354 334 362 326C370 318 380 308 390 305C400 302 411 308 420 310C429 312 442 315 446 316M262 10L292 0" stroke="#ff1c1c" stroke-width="23.8" fill="none" stroke-linecap="round" stroke-linejoin="round"/><path d="M4 84C8 86 21 92 28 98C35 104 38 116 45 122C52 128 61 130 70 134C79 138 92 141 100 146C108 151 117 163 120 166M0 150C5 150 20 153 30 150C40 147 57 137 62 134M318 236C323 237 338 240 350 240C362 240 382 238 388 238M394 200C397 195 404 178 412 172C420 166 434 163 445 162C456 161 472 159 480 164C488 169 491 179 494 190C497 201 500 218 500 228C500 238 497 247 492 252C487 257 478 256 470 258C462 260 454 262 446 262C438 262 429 259 420 256C411 253 398 246 394 244" stroke="#ff1c1c" stroke-width="19.0" fill="none" stroke-linecap="round" stroke-linejoin="round"/><path d="M46 422C42 428 30 451 22 460C14 469 4 475 0 478M356 160C352 161 337 163 330 168C323 173 319 182 316 190C313 198 312 207 312 215C312 223 317 232 318 236M388 238C386 242 381 254 378 262C375 270 370 277 372 284C374 291 387 302 390 305M446 316C447 322 449 338 450 350C451 362 451 375 452 385C453 395 455 406 456 410M468 68C470 64 476 53 480 42C484 31 490 7 492 0" stroke="#ff1c1c" stroke-width="15.2" fill="none" stroke-linecap="round" stroke-linejoin="round"/><path d="M120 166C123 162 133 151 138 142C143 133 145 120 150 112C155 104 158 99 166 95C174 91 190 88 200 88C210 88 221 88 228 92C235 96 241 102 244 110C247 118 247 130 245 140C243 150 239 162 232 170C225 178 214 184 204 190C194 196 181 200 172 206C163 212 157 219 152 226C147 233 144 246 143 250M356 160C361 162 382 164 388 172C394 180 394 194 394 205C394 216 389 232 388 238M195 366C200 365 213 363 222 360C231 357 240 349 250 346C260 343 270 339 280 340C290 341 300 352 310 354C320 356 335 351 340 350M384 500L376 520M244 118C247 116 255 108 262 108C269 108 277 117 285 115C293 113 303 100 308 95C313 90 315 86 316 84" stroke="#ff1c1c" stroke-width="20.9" fill="none" stroke-linecap="round" stroke-linejoin="round"/><path d="M120 166C119 173 113 198 115 210C117 222 125 230 130 240C135 250 143 259 145 268C147 277 145 286 140 295C135 304 123 312 116 320C109 328 101 331 96 340C91 349 90 364 86 375C82 386 77 397 70 405C63 413 50 419 46 422M386 0C385 8 381 33 378 50C375 67 373 85 370 100C367 115 364 130 362 140C360 150 357 157 356 160M318 236C314 239 303 249 295 256C287 263 278 273 270 280C262 287 257 293 250 300C243 307 237 316 230 324C223 332 216 339 210 346C204 353 200 358 195 366C190 374 185 385 180 396C175 407 170 419 165 430C160 441 154 452 150 460C146 468 140 477 138 480M340 350C341 354 342 368 346 375C350 382 357 388 366 390C375 392 388 388 400 390C412 392 427 397 436 400C445 403 448 408 456 410C464 412 475 415 486 415C497 415 514 411 520 410M456 410C454 414 451 428 446 436C441 444 433 452 426 460C419 468 411 477 404 484C397 491 391 499 384 500C377 501 368 496 360 490C352 484 342 472 336 466C330 460 330 454 324 455C318 456 308 464 300 470C292 476 283 485 276 490C269 495 261 500 258 502M446 262C446 267 448 281 448 290C448 299 446 312 446 316M445 162C444 157 441 141 442 130C443 119 446 105 450 95C454 85 462 70 468 68C474 66 483 76 488 85C493 94 496 112 496 125C496 138 488 154 486 160M505 340L520 335" stroke="#ff1c1c" stroke-width="17.1" fill="none" stroke-linecap="round" stroke-linejoin="round"/><text x="450" y="212" style="font-size:52px;font-weight:bold;fill:#ececf4;text-anchor:middle">*</text><text x="383" y="391" style="font-size:52px;font-weight:bold;fill:#ececf4;text-anchor:middle">*</text></svg>
<svg x="281.2" y="372" width="108.6" height="108" viewBox="0 0 520 520" preserveAspectRatio="none"><rect width="520" height="520" fill="#000"/><rect width="520" height="520" fill="url(#spG)"/><path d="M20 0C19 7 16 28 14 40C12 52 8 65 6 72C4 79 1 82 0 84M4 84C8 86 21 92 28 98C35 104 38 116 45 122C52 128 61 130 70 134C79 138 92 141 100 146C108 151 117 163 120 166M0 150C5 150 20 153 30 150C40 147 57 137 62 134M120 166C117 171 111 188 104 196C97 204 89 208 80 215C71 222 59 228 50 235C41 242 31 246 25 256C19 266 16 280 14 292C12 304 10 318 10 330C10 342 12 355 15 365C18 375 25 383 30 392C35 401 42 410 46 420C50 430 50 440 52 450C54 460 56 468 55 480C54 492 48 513 46 520M46 422C42 428 30 451 22 460C14 469 4 475 0 478M120 166C123 162 133 151 138 142C143 133 145 120 150 112C155 104 158 99 166 95C174 91 190 88 200 88C210 88 221 88 228 92C235 96 241 102 244 110C247 118 247 130 245 140C243 150 239 162 232 170C225 178 214 184 204 190C194 196 181 200 172 206C163 212 157 219 152 226C147 233 144 246 143 250M120 166C119 173 113 198 115 210C117 222 125 230 130 240C135 250 143 259 145 268C147 277 145 286 140 295C135 304 123 312 116 320C109 328 101 331 96 340C91 349 90 364 86 375C82 386 77 397 70 405C63 413 50 419 46 422M386 0C385 8 381 33 378 50C375 67 373 85 370 100C367 115 364 130 362 140C360 150 357 157 356 160M356 160C352 161 337 163 330 168C323 173 319 182 316 190C313 198 312 207 312 215C312 223 317 232 318 236M318 236C323 237 338 240 350 240C362 240 382 238 388 238M356 160C361 162 382 164 388 172C394 180 394 194 394 205C394 216 389 232 388 238M318 236C314 239 303 249 295 256C287 263 278 273 270 280C262 287 257 293 250 300C243 307 237 316 230 324C223 332 216 339 210 346C204 353 200 358 195 366C190 374 185 385 180 396C175 407 170 419 165 430C160 441 154 452 150 460C146 468 140 477 138 480M195 366C200 365 213 363 222 360C231 357 240 349 250 346C260 343 270 339 280 340C290 341 300 352 310 354C320 356 335 351 340 350M165 440C171 441 189 446 200 445C211 444 220 439 230 436C240 433 250 432 260 428C270 424 280 416 290 410C300 404 312 396 320 390C328 384 337 378 340 375M388 238C386 242 381 254 378 262C375 270 370 277 372 284C374 291 387 302 390 305M340 350C344 346 354 334 362 326C370 318 380 308 390 305C400 302 411 308 420 310C429 312 442 315 446 316M340 350C341 354 342 368 346 375C350 382 357 388 366 390C375 392 388 388 400 390C412 392 427 397 436 400C445 403 448 408 456 410C464 412 475 415 486 415C497 415 514 411 520 410M446 316C447 322 449 338 450 350C451 362 451 375 452 385C453 395 455 406 456 410M456 410C454 414 451 428 446 436C441 444 433 452 426 460C419 468 411 477 404 484C397 491 391 499 384 500C377 501 368 496 360 490C352 484 342 472 336 466C330 460 330 454 324 455C318 456 308 464 300 470C292 476 283 485 276 490C269 495 261 500 258 502M384 500L376 520M394 200C397 195 404 178 412 172C420 166 434 163 445 162C456 161 472 159 480 164C488 169 491 179 494 190C497 201 500 218 500 228C500 238 497 247 492 252C487 257 478 256 470 258C462 260 454 262 446 262C438 262 429 259 420 256C411 253 398 246 394 244M446 262C446 267 448 281 448 290C448 299 446 312 446 316M445 162C444 157 441 141 442 130C443 119 446 105 450 95C454 85 462 70 468 68C474 66 483 76 488 85C493 94 496 112 496 125C496 138 488 154 486 160M468 68C470 64 476 53 480 42C484 31 490 7 492 0M262 10L292 0M244 118C247 116 255 108 262 108C269 108 277 117 285 115C293 113 303 100 308 95C313 90 315 86 316 84M505 340L520 335" stroke="#0c5a12" stroke-width="16" fill="none" stroke-linecap="round" stroke-linejoin="round"/><path d="M20 0C19 7 16 28 14 40C12 52 8 65 6 72C4 79 1 82 0 84M4 84C8 86 21 92 28 98C35 104 38 116 45 122C52 128 61 130 70 134C79 138 92 141 100 146C108 151 117 163 120 166M0 150C5 150 20 153 30 150C40 147 57 137 62 134M120 166C117 171 111 188 104 196C97 204 89 208 80 215C71 222 59 228 50 235C41 242 31 246 25 256C19 266 16 280 14 292C12 304 10 318 10 330C10 342 12 355 15 365C18 375 25 383 30 392C35 401 42 410 46 420C50 430 50 440 52 450C54 460 56 468 55 480C54 492 48 513 46 520M46 422C42 428 30 451 22 460C14 469 4 475 0 478M120 166C123 162 133 151 138 142C143 133 145 120 150 112C155 104 158 99 166 95C174 91 190 88 200 88C210 88 221 88 228 92C235 96 241 102 244 110C247 118 247 130 245 140C243 150 239 162 232 170C225 178 214 184 204 190C194 196 181 200 172 206C163 212 157 219 152 226C147 233 144 246 143 250M120 166C119 173 113 198 115 210C117 222 125 230 130 240C135 250 143 259 145 268C147 277 145 286 140 295C135 304 123 312 116 320C109 328 101 331 96 340C91 349 90 364 86 375C82 386 77 397 70 405C63 413 50 419 46 422M386 0C385 8 381 33 378 50C375 67 373 85 370 100C367 115 364 130 362 140C360 150 357 157 356 160M356 160C352 161 337 163 330 168C323 173 319 182 316 190C313 198 312 207 312 215C312 223 317 232 318 236M318 236C323 237 338 240 350 240C362 240 382 238 388 238M356 160C361 162 382 164 388 172C394 180 394 194 394 205C394 216 389 232 388 238M318 236C314 239 303 249 295 256C287 263 278 273 270 280C262 287 257 293 250 300C243 307 237 316 230 324C223 332 216 339 210 346C204 353 200 358 195 366C190 374 185 385 180 396C175 407 170 419 165 430C160 441 154 452 150 460C146 468 140 477 138 480M195 366C200 365 213 363 222 360C231 357 240 349 250 346C260 343 270 339 280 340C290 341 300 352 310 354C320 356 335 351 340 350M165 440C171 441 189 446 200 445C211 444 220 439 230 436C240 433 250 432 260 428C270 424 280 416 290 410C300 404 312 396 320 390C328 384 337 378 340 375M388 238C386 242 381 254 378 262C375 270 370 277 372 284C374 291 387 302 390 305M340 350C344 346 354 334 362 326C370 318 380 308 390 305C400 302 411 308 420 310C429 312 442 315 446 316M340 350C341 354 342 368 346 375C350 382 357 388 366 390C375 392 388 388 400 390C412 392 427 397 436 400C445 403 448 408 456 410C464 412 475 415 486 415C497 415 514 411 520 410M446 316C447 322 449 338 450 350C451 362 451 375 452 385C453 395 455 406 456 410M456 410C454 414 451 428 446 436C441 444 433 452 426 460C419 468 411 477 404 484C397 491 391 499 384 500C377 501 368 496 360 490C352 484 342 472 336 466C330 460 330 454 324 455C318 456 308 464 300 470C292 476 283 485 276 490C269 495 261 500 258 502M384 500L376 520M394 200C397 195 404 178 412 172C420 166 434 163 445 162C456 161 472 159 480 164C488 169 491 179 494 190C497 201 500 218 500 228C500 238 497 247 492 252C487 257 478 256 470 258C462 260 454 262 446 262C438 262 429 259 420 256C411 253 398 246 394 244M446 262C446 267 448 281 448 290C448 299 446 312 446 316M445 162C444 157 441 141 442 130C443 119 446 105 450 95C454 85 462 70 468 68C474 66 483 76 488 85C493 94 496 112 496 125C496 138 488 154 486 160M468 68C470 64 476 53 480 42C484 31 490 7 492 0M262 10L292 0M244 118C247 116 255 108 262 108C269 108 277 117 285 115C293 113 303 100 308 95C313 90 315 86 316 84M505 340L520 335" stroke="#36ee36" stroke-width="10" fill="none" stroke-linecap="round" stroke-linejoin="round"/><circle cx="370" cy="100" r="11" fill="#36ee36"/><circle cx="228" cy="92" r="13" fill="#36ee36"/><circle cx="50" cy="235" r="9" fill="#36ee36"/><circle cx="496" cy="125" r="11" fill="#36ee36"/><circle cx="25" cy="256" r="14" fill="#36ee36"/><circle cx="324" cy="455" r="11" fill="#36ee36"/><circle cx="150" cy="112" r="11" fill="#36ee36"/><circle cx="195" cy="366" r="10" fill="#36ee36"/><circle cx="70" cy="134" r="11" fill="#36ee36"/><text x="450" y="212" style="font-size:52px;font-weight:bold;fill:#ececf4;text-anchor:middle">*</text><text x="383" y="391" style="font-size:52px;font-weight:bold;fill:#ececf4;text-anchor:middle">*</text></svg>
<svg x="391.2" y="372" width="106.6" height="108" viewBox="0 0 520 520" preserveAspectRatio="none"><rect width="520" height="520" fill="#000"/><rect width="520" height="520" fill="url(#spC)"/><path d="M20 0C19 7 16 28 14 40C12 52 8 65 6 72C4 79 1 82 0 84M4 84C8 86 21 92 28 98C35 104 38 116 45 122C52 128 61 130 70 134C79 138 92 141 100 146C108 151 117 163 120 166M0 150C5 150 20 153 30 150C40 147 57 137 62 134M120 166C117 171 111 188 104 196C97 204 89 208 80 215C71 222 59 228 50 235C41 242 31 246 25 256C19 266 16 280 14 292C12 304 10 318 10 330C10 342 12 355 15 365C18 375 25 383 30 392C35 401 42 410 46 420C50 430 50 440 52 450C54 460 56 468 55 480C54 492 48 513 46 520M46 422C42 428 30 451 22 460C14 469 4 475 0 478M120 166C123 162 133 151 138 142C143 133 145 120 150 112C155 104 158 99 166 95C174 91 190 88 200 88C210 88 221 88 228 92C235 96 241 102 244 110C247 118 247 130 245 140C243 150 239 162 232 170C225 178 214 184 204 190C194 196 181 200 172 206C163 212 157 219 152 226C147 233 144 246 143 250M120 166C119 173 113 198 115 210C117 222 125 230 130 240C135 250 143 259 145 268C147 277 145 286 140 295C135 304 123 312 116 320C109 328 101 331 96 340C91 349 90 364 86 375C82 386 77 397 70 405C63 413 50 419 46 422M386 0C385 8 381 33 378 50C375 67 373 85 370 100C367 115 364 130 362 140C360 150 357 157 356 160M356 160C352 161 337 163 330 168C323 173 319 182 316 190C313 198 312 207 312 215C312 223 317 232 318 236M318 236C323 237 338 240 350 240C362 240 382 238 388 238M356 160C361 162 382 164 388 172C394 180 394 194 394 205C394 216 389 232 388 238M318 236C314 239 303 249 295 256C287 263 278 273 270 280C262 287 257 293 250 300C243 307 237 316 230 324C223 332 216 339 210 346C204 353 200 358 195 366C190 374 185 385 180 396C175 407 170 419 165 430C160 441 154 452 150 460C146 468 140 477 138 480M195 366C200 365 213 363 222 360C231 357 240 349 250 346C260 343 270 339 280 340C290 341 300 352 310 354C320 356 335 351 340 350M165 440C171 441 189 446 200 445C211 444 220 439 230 436C240 433 250 432 260 428C270 424 280 416 290 410C300 404 312 396 320 390C328 384 337 378 340 375M388 238C386 242 381 254 378 262C375 270 370 277 372 284C374 291 387 302 390 305M340 350C344 346 354 334 362 326C370 318 380 308 390 305C400 302 411 308 420 310C429 312 442 315 446 316M340 350C341 354 342 368 346 375C350 382 357 388 366 390C375 392 388 388 400 390C412 392 427 397 436 400C445 403 448 408 456 410C464 412 475 415 486 415C497 415 514 411 520 410M446 316C447 322 449 338 450 350C451 362 451 375 452 385C453 395 455 406 456 410M456 410C454 414 451 428 446 436C441 444 433 452 426 460C419 468 411 477 404 484C397 491 391 499 384 500C377 501 368 496 360 490C352 484 342 472 336 466C330 460 330 454 324 455C318 456 308 464 300 470C292 476 283 485 276 490C269 495 261 500 258 502M384 500L376 520M394 200C397 195 404 178 412 172C420 166 434 163 445 162C456 161 472 159 480 164C488 169 491 179 494 190C497 201 500 218 500 228C500 238 497 247 492 252C487 257 478 256 470 258C462 260 454 262 446 262C438 262 429 259 420 256C411 253 398 246 394 244M446 262C446 267 448 281 448 290C448 299 446 312 446 316M445 162C444 157 441 141 442 130C443 119 446 105 450 95C454 85 462 70 468 68C474 66 483 76 488 85C493 94 496 112 496 125C496 138 488 154 486 160M468 68C470 64 476 53 480 42C484 31 490 7 492 0M262 10L292 0M244 118C247 116 255 108 262 108C269 108 277 117 285 115C293 113 303 100 308 95C313 90 315 86 316 84M505 340L520 335" stroke="#0c4a4a" stroke-width="17" fill="none" stroke-linecap="round" stroke-linejoin="round"/><path d="M20 0C19 7 16 28 14 40C12 52 8 65 6 72C4 79 1 82 0 84M4 84C8 86 21 92 28 98C35 104 38 116 45 122C52 128 61 130 70 134C79 138 92 141 100 146C108 151 117 163 120 166M0 150C5 150 20 153 30 150C40 147 57 137 62 134M120 166C117 171 111 188 104 196C97 204 89 208 80 215C71 222 59 228 50 235C41 242 31 246 25 256C19 266 16 280 14 292C12 304 10 318 10 330C10 342 12 355 15 365C18 375 25 383 30 392C35 401 42 410 46 420C50 430 50 440 52 450C54 460 56 468 55 480C54 492 48 513 46 520M46 422C42 428 30 451 22 460C14 469 4 475 0 478M120 166C123 162 133 151 138 142C143 133 145 120 150 112C155 104 158 99 166 95C174 91 190 88 200 88C210 88 221 88 228 92C235 96 241 102 244 110C247 118 247 130 245 140C243 150 239 162 232 170C225 178 214 184 204 190C194 196 181 200 172 206C163 212 157 219 152 226C147 233 144 246 143 250M120 166C119 173 113 198 115 210C117 222 125 230 130 240C135 250 143 259 145 268C147 277 145 286 140 295C135 304 123 312 116 320C109 328 101 331 96 340C91 349 90 364 86 375C82 386 77 397 70 405C63 413 50 419 46 422M386 0C385 8 381 33 378 50C375 67 373 85 370 100C367 115 364 130 362 140C360 150 357 157 356 160M356 160C352 161 337 163 330 168C323 173 319 182 316 190C313 198 312 207 312 215C312 223 317 232 318 236M318 236C323 237 338 240 350 240C362 240 382 238 388 238M356 160C361 162 382 164 388 172C394 180 394 194 394 205C394 216 389 232 388 238M318 236C314 239 303 249 295 256C287 263 278 273 270 280C262 287 257 293 250 300C243 307 237 316 230 324C223 332 216 339 210 346C204 353 200 358 195 366C190 374 185 385 180 396C175 407 170 419 165 430C160 441 154 452 150 460C146 468 140 477 138 480M195 366C200 365 213 363 222 360C231 357 240 349 250 346C260 343 270 339 280 340C290 341 300 352 310 354C320 356 335 351 340 350M165 440C171 441 189 446 200 445C211 444 220 439 230 436C240 433 250 432 260 428C270 424 280 416 290 410C300 404 312 396 320 390C328 384 337 378 340 375M388 238C386 242 381 254 378 262C375 270 370 277 372 284C374 291 387 302 390 305M340 350C344 346 354 334 362 326C370 318 380 308 390 305C400 302 411 308 420 310C429 312 442 315 446 316M340 350C341 354 342 368 346 375C350 382 357 388 366 390C375 392 388 388 400 390C412 392 427 397 436 400C445 403 448 408 456 410C464 412 475 415 486 415C497 415 514 411 520 410M446 316C447 322 449 338 450 350C451 362 451 375 452 385C453 395 455 406 456 410M456 410C454 414 451 428 446 436C441 444 433 452 426 460C419 468 411 477 404 484C397 491 391 499 384 500C377 501 368 496 360 490C352 484 342 472 336 466C330 460 330 454 324 455C318 456 308 464 300 470C292 476 283 485 276 490C269 495 261 500 258 502M384 500L376 520M394 200C397 195 404 178 412 172C420 166 434 163 445 162C456 161 472 159 480 164C488 169 491 179 494 190C497 201 500 218 500 228C500 238 497 247 492 252C487 257 478 256 470 258C462 260 454 262 446 262C438 262 429 259 420 256C411 253 398 246 394 244M446 262C446 267 448 281 448 290C448 299 446 312 446 316M445 162C444 157 441 141 442 130C443 119 446 105 450 95C454 85 462 70 468 68C474 66 483 76 488 85C493 94 496 112 496 125C496 138 488 154 486 160M468 68C470 64 476 53 480 42C484 31 490 7 492 0M262 10L292 0M244 118C247 116 255 108 262 108C269 108 277 117 285 115C293 113 303 100 308 95C313 90 315 86 316 84M505 340L520 335" stroke="#34e6e6" stroke-width="11" fill="none" stroke-linecap="round" stroke-linejoin="round"/><text x="450" y="212" style="font-size:52px;font-weight:bold;fill:#ececf4;text-anchor:middle">*</text><text x="383" y="391" style="font-size:52px;font-weight:bold;fill:#ececf4;text-anchor:middle">*</text></svg>
<svg x="63" y="482.7" width="108.3" height="107" viewBox="0 0 520 520" preserveAspectRatio="none"><rect width="520" height="520" fill="#000"/><rect width="520" height="520" fill="#030805"/><rect width="520" height="520" fill="url(#nz)"/><rect width="520" height="520" fill="url(#spM2)"/><path d="M262 362C267 365 281 375 290 380C299 385 311 390 315 392M300 120L330 150" stroke="#b02020" stroke-width="9" fill="none" stroke-linecap="round" stroke-linejoin="round"/><path d="M78 133C82 131 91 124 100 121C109 118 121 114 130 112C139 110 148 110 155 110C162 110 169 111 175 112C181 113 188 117 190 118M95 270C104 271 134 273 150 275C166 277 178 281 190 282C202 283 213 280 225 280C237 280 251 283 262 284C273 285 281 285 292 286C303 287 316 291 326 290C336 289 346 282 350 280M95 360C101 364 118 377 130 385C142 393 159 406 165 410" stroke="#b82424" stroke-width="12" fill="none" stroke-linecap="round" stroke-linejoin="round"/><path d="M0 90C5 89 22 87 30 85C38 83 42 82 50 80C58 78 67 73 75 72C83 71 92 70 100 72C108 74 117 78 125 82C133 86 142 93 150 98C158 103 163 107 170 110C177 113 182 118 190 118C198 118 207 116 215 112C223 108 232 102 238 96C244 90 248 83 252 76C256 69 258 61 262 52C266 43 270 28 275 22C280 16 286 13 292 14C298 15 306 21 312 26C318 31 322 39 326 46C330 53 333 59 334 66C335 73 333 80 330 86C327 92 323 97 318 102C313 107 305 112 298 116C291 120 284 124 278 126C272 128 263 130 260 131M190 117C196 118 213 123 225 125C237 127 254 130 260 131M0 190C5 190 20 189 30 188C40 187 48 186 60 185C72 184 87 183 100 182C113 181 129 180 140 180C151 180 160 186 168 184C176 182 183 172 188 166C193 160 197 151 200 145C203 139 205 132 206 130M386 0C387 6 393 28 392 38C391 48 387 56 380 62C373 68 360 71 352 74C344 77 335 81 332 82M452 0C449 5 438 20 436 30C434 40 436 52 440 60C444 68 453 74 460 80C467 86 473 93 482 95C491 97 506 92 512 90C518 88 519 87 520 86M460 135C464 138 478 143 485 150C492 157 496 166 500 175C504 184 507 198 510 205C513 212 518 213 520 215M262 320C267 319 281 313 290 315C299 317 310 326 315 330C320 334 319 340 320 342" stroke="url(#gL1)" stroke-width="18.0" fill="none" stroke-linecap="round" stroke-linejoin="round"/><path d="M0 145C5 143 21 136 30 133C39 130 47 127 55 127C63 127 74 132 78 133M300 515L326 490" stroke="url(#gL1)" stroke-width="20.0" fill="none" stroke-linecap="round" stroke-linejoin="round"/><path d="M10 190C12 194 16 207 20 215C24 223 29 231 35 236C41 241 44 244 55 246C66 248 84 249 100 250C116 251 135 252 150 250C165 248 178 244 190 240C202 236 213 231 225 225C237 219 252 212 262 206C272 200 275 194 282 190C289 186 295 185 302 185C309 185 315 192 322 190C329 188 339 173 342 170M342 170C343 173 347 182 350 190C353 198 356 210 360 220C364 230 370 243 374 250C378 257 384 260 386 262M70 260C72 264 81 277 85 285C89 293 91 302 92 310C93 318 91 327 90 335C89 343 85 351 85 360C85 369 89 379 90 390C91 401 91 413 92 425C93 437 94 450 95 460C96 470 99 482 100 486M350 280C353 278 362 271 370 270C378 269 392 272 400 275C408 278 418 285 420 290C422 295 418 303 415 305C412 307 406 301 404 300M438 418C435 423 426 440 420 450C414 460 410 469 405 480C400 491 392 509 390 515" stroke="url(#gL1)" stroke-width="16.0" fill="none" stroke-linecap="round" stroke-linejoin="round"/><path d="M482 95C480 98 474 109 470 116C466 123 466 130 460 135C454 140 446 143 436 145C426 147 413 146 402 148C391 150 381 152 372 155C363 158 355 162 350 165C345 168 342 171 340 172M90 290C96 291 112 293 125 295C138 297 152 298 165 300C178 302 189 306 200 310C211 314 222 320 230 325C238 330 245 337 250 340C255 343 260 344 262 345" stroke="url(#gL1)" stroke-width="25.0" fill="none" stroke-linecap="round" stroke-linejoin="round"/><path d="M252 4L270 10M85 360C79 358 61 350 50 345C39 340 28 334 20 330C12 326 3 322 0 320M85 360C82 363 72 372 65 380C58 388 47 397 40 405C33 413 28 420 25 428C22 436 21 445 20 452C19 459 20 469 20 472M0 475C5 476 20 479 30 480C40 481 49 481 60 482C71 483 85 485 95 487C105 489 112 492 120 496C128 500 137 509 140 512M100 486C104 483 117 476 125 470C133 464 142 457 150 450C158 443 167 435 175 430C183 425 191 422 200 420C209 418 220 419 230 420C240 421 252 427 262 425C272 423 280 414 290 410C300 406 312 401 325 400C338 399 356 403 370 405C384 407 398 408 410 410C422 412 430 415 440 415C450 415 457 411 470 410C483 409 512 408 520 408M175 428C179 423 192 409 200 400C208 391 218 380 225 372C232 364 239 357 245 352C251 347 259 342 262 340M350 280C351 285 357 299 356 310C355 321 351 334 346 345C341 356 331 367 326 375C321 383 320 386 316 392C312 398 303 405 300 408" stroke="url(#gL1)" stroke-width="22.0" fill="none" stroke-linecap="round" stroke-linejoin="round"/><path d="M0 90C5 89 22 87 30 85C38 83 42 82 50 80C58 78 67 73 75 72C83 71 92 70 100 72C108 74 117 78 125 82C133 86 142 93 150 98C158 103 163 107 170 110C177 113 182 118 190 118C198 118 207 116 215 112C223 108 232 102 238 96C244 90 248 83 252 76C256 69 258 61 262 52C266 43 270 28 275 22C280 16 286 13 292 14C298 15 306 21 312 26C318 31 322 39 326 46C330 53 333 59 334 66C335 73 333 80 330 86C327 92 323 97 318 102C313 107 305 112 298 116C291 120 284 124 278 126C272 128 263 130 260 131M190 117C196 118 213 123 225 125C237 127 254 130 260 131M0 190C5 190 20 189 30 188C40 187 48 186 60 185C72 184 87 183 100 182C113 181 129 180 140 180C151 180 160 186 168 184C176 182 183 172 188 166C193 160 197 151 200 145C203 139 205 132 206 130M386 0C387 6 393 28 392 38C391 48 387 56 380 62C373 68 360 71 352 74C344 77 335 81 332 82M452 0C449 5 438 20 436 30C434 40 436 52 440 60C444 68 453 74 460 80C467 86 473 93 482 95C491 97 506 92 512 90C518 88 519 87 520 86M460 135C464 138 478 143 485 150C492 157 496 166 500 175C504 184 507 198 510 205C513 212 518 213 520 215M262 320C267 319 281 313 290 315C299 317 310 326 315 330C320 334 319 340 320 342" stroke="url(#gL2)" stroke-width="12.6" fill="none" stroke-linecap="round" stroke-linejoin="round"/><path d="M0 145C5 143 21 136 30 133C39 130 47 127 55 127C63 127 74 132 78 133M300 515L326 490" stroke="url(#gL2)" stroke-width="14.0" fill="none" stroke-linecap="round" stroke-linejoin="round"/><path d="M10 190C12 194 16 207 20 215C24 223 29 231 35 236C41 241 44 244 55 246C66 248 84 249 100 250C116 251 135 252 150 250C165 248 178 244 190 240C202 236 213 231 225 225C237 219 252 212 262 206C272 200 275 194 282 190C289 186 295 185 302 185C309 185 315 192 322 190C329 188 339 173 342 170M342 170C343 173 347 182 350 190C353 198 356 210 360 220C364 230 370 243 374 250C378 257 384 260 386 262M70 260C72 264 81 277 85 285C89 293 91 302 92 310C93 318 91 327 90 335C89 343 85 351 85 360C85 369 89 379 90 390C91 401 91 413 92 425C93 437 94 450 95 460C96 470 99 482 100 486M350 280C353 278 362 271 370 270C378 269 392 272 400 275C408 278 418 285 420 290C422 295 418 303 415 305C412 307 406 301 404 300M438 418C435 423 426 440 420 450C414 460 410 469 405 480C400 491 392 509 390 515" stroke="url(#gL2)" stroke-width="11.2" fill="none" stroke-linecap="round" stroke-linejoin="round"/><path d="M482 95C480 98 474 109 470 116C466 123 466 130 460 135C454 140 446 143 436 145C426 147 413 146 402 148C391 150 381 152 372 155C363 158 355 162 350 165C345 168 342 171 340 172M90 290C96 291 112 293 125 295C138 297 152 298 165 300C178 302 189 306 200 310C211 314 222 320 230 325C238 330 245 337 250 340C255 343 260 344 262 345" stroke="url(#gL2)" stroke-width="17.5" fill="none" stroke-linecap="round" stroke-linejoin="round"/><path d="M252 4L270 10M85 360C79 358 61 350 50 345C39 340 28 334 20 330C12 326 3 322 0 320M85 360C82 363 72 372 65 380C58 388 47 397 40 405C33 413 28 420 25 428C22 436 21 445 20 452C19 459 20 469 20 472M0 475C5 476 20 479 30 480C40 481 49 481 60 482C71 483 85 485 95 487C105 489 112 492 120 496C128 500 137 509 140 512M100 486C104 483 117 476 125 470C133 464 142 457 150 450C158 443 167 435 175 430C183 425 191 422 200 420C209 418 220 419 230 420C240 421 252 427 262 425C272 423 280 414 290 410C300 406 312 401 325 400C338 399 356 403 370 405C384 407 398 408 410 410C422 412 430 415 440 415C450 415 457 411 470 410C483 409 512 408 520 408M175 428C179 423 192 409 200 400C208 391 218 380 225 372C232 364 239 357 245 352C251 347 259 342 262 340M350 280C351 285 357 299 356 310C355 321 351 334 346 345C341 356 331 367 326 375C321 383 320 386 316 392C312 398 303 405 300 408" stroke="url(#gL2)" stroke-width="15.4" fill="none" stroke-linecap="round" stroke-linejoin="round"/><path d="M0 90C5 89 22 87 30 85C38 83 42 82 50 80C58 78 67 73 75 72C83 71 92 70 100 72C108 74 117 78 125 82C133 86 142 93 150 98C158 103 163 107 170 110C177 113 182 118 190 118C198 118 207 116 215 112C223 108 232 102 238 96C244 90 248 83 252 76C256 69 258 61 262 52C266 43 270 28 275 22C280 16 286 13 292 14C298 15 306 21 312 26C318 31 322 39 326 46C330 53 333 59 334 66C335 73 333 80 330 86C327 92 323 97 318 102C313 107 305 112 298 116C291 120 284 124 278 126C272 128 263 130 260 131M190 117C196 118 213 123 225 125C237 127 254 130 260 131M0 190C5 190 20 189 30 188C40 187 48 186 60 185C72 184 87 183 100 182C113 181 129 180 140 180C151 180 160 186 168 184C176 182 183 172 188 166C193 160 197 151 200 145C203 139 205 132 206 130M386 0C387 6 393 28 392 38C391 48 387 56 380 62C373 68 360 71 352 74C344 77 335 81 332 82M452 0C449 5 438 20 436 30C434 40 436 52 440 60C444 68 453 74 460 80C467 86 473 93 482 95C491 97 506 92 512 90C518 88 519 87 520 86M460 135C464 138 478 143 485 150C492 157 496 166 500 175C504 184 507 198 510 205C513 212 518 213 520 215M262 320C267 319 281 313 290 315C299 317 310 326 315 330C320 334 319 340 320 342" stroke="#f6faa0" stroke-width="4.5" fill="none" stroke-linecap="round" stroke-linejoin="round"/><path d="M0 145C5 143 21 136 30 133C39 130 47 127 55 127C63 127 74 132 78 133M300 515L326 490" stroke="#f6faa0" stroke-width="5.0" fill="none" stroke-linecap="round" stroke-linejoin="round"/><path d="M10 190C12 194 16 207 20 215C24 223 29 231 35 236C41 241 44 244 55 246C66 248 84 249 100 250C116 251 135 252 150 250C165 248 178 244 190 240C202 236 213 231 225 225C237 219 252 212 262 206C272 200 275 194 282 190C289 186 295 185 302 185C309 185 315 192 322 190C329 188 339 173 342 170M342 170C343 173 347 182 350 190C353 198 356 210 360 220C364 230 370 243 374 250C378 257 384 260 386 262M70 260C72 264 81 277 85 285C89 293 91 302 92 310C93 318 91 327 90 335C89 343 85 351 85 360C85 369 89 379 90 390C91 401 91 413 92 425C93 437 94 450 95 460C96 470 99 482 100 486M350 280C353 278 362 271 370 270C378 269 392 272 400 275C408 278 418 285 420 290C422 295 418 303 415 305C412 307 406 301 404 300M438 418C435 423 426 440 420 450C414 460 410 469 405 480C400 491 392 509 390 515" stroke="#f6faa0" stroke-width="4.0" fill="none" stroke-linecap="round" stroke-linejoin="round"/><path d="M482 95C480 98 474 109 470 116C466 123 466 130 460 135C454 140 446 143 436 145C426 147 413 146 402 148C391 150 381 152 372 155C363 158 355 162 350 165C345 168 342 171 340 172M90 290C96 291 112 293 125 295C138 297 152 298 165 300C178 302 189 306 200 310C211 314 222 320 230 325C238 330 245 337 250 340C255 343 260 344 262 345" stroke="#f6faa0" stroke-width="6.2" fill="none" stroke-linecap="round" stroke-linejoin="round"/><path d="M252 4L270 10M85 360C79 358 61 350 50 345C39 340 28 334 20 330C12 326 3 322 0 320M85 360C82 363 72 372 65 380C58 388 47 397 40 405C33 413 28 420 25 428C22 436 21 445 20 452C19 459 20 469 20 472M0 475C5 476 20 479 30 480C40 481 49 481 60 482C71 483 85 485 95 487C105 489 112 492 120 496C128 500 137 509 140 512M100 486C104 483 117 476 125 470C133 464 142 457 150 450C158 443 167 435 175 430C183 425 191 422 200 420C209 418 220 419 230 420C240 421 252 427 262 425C272 423 280 414 290 410C300 406 312 401 325 400C338 399 356 403 370 405C384 407 398 408 410 410C422 412 430 415 440 415C450 415 457 411 470 410C483 409 512 408 520 408M175 428C179 423 192 409 200 400C208 391 218 380 225 372C232 364 239 357 245 352C251 347 259 342 262 340M350 280C351 285 357 299 356 310C355 321 351 334 346 345C341 356 331 367 326 375C321 383 320 386 316 392C312 398 303 405 300 408" stroke="#f6faa0" stroke-width="5.5" fill="none" stroke-linecap="round" stroke-linejoin="round"/><circle cx="302" cy="185" r="8" fill="#c8f040"/><circle cx="200" cy="310" r="12" fill="#c8f040"/><circle cx="190" cy="240" r="9" fill="#c8f040"/><circle cx="50" cy="345" r="12" fill="#c8f040"/><circle cx="30" cy="133" r="10" fill="#c8f040"/><circle cx="346" cy="345" r="12" fill="#c8f040"/><circle cx="410" cy="410" r="8" fill="#c8f040"/><circle cx="470" cy="116" r="10" fill="#c8f040"/><circle cx="326" cy="375" r="9" fill="#c8f040"/><circle cx="510" cy="205" r="7" fill="#c8f040"/><text x="357" y="66" style="font-size:52px;font-weight:bold;fill:#ececf4;text-anchor:middle">*</text><text x="452" y="138" style="font-size:52px;font-weight:bold;fill:#ececf4;text-anchor:middle">*</text><text x="340" y="172" style="font-size:52px;font-weight:bold;fill:#ececf4;text-anchor:middle">*</text><text x="209" y="226" style="font-size:52px;font-weight:bold;fill:#ececf4;text-anchor:middle">*</text><text x="205" y="305" style="font-size:52px;font-weight:bold;fill:#ececf4;text-anchor:middle">*</text></svg>
<svg x="173" y="482.7" width="106.6" height="107" viewBox="0 0 520 520" preserveAspectRatio="none"><rect width="520" height="520" fill="#000"/><rect width="520" height="520" fill="url(#spR)"/><path d="M262 362C267 365 281 375 290 380C299 385 311 390 315 392M300 120L330 150" stroke="#a0121c" stroke-width="6" fill="none" stroke-linecap="round" stroke-linejoin="round"/><path d="M0 90C5 89 22 87 30 85C38 83 42 82 50 80C58 78 67 73 75 72C83 71 92 70 100 72C108 74 117 78 125 82C133 86 142 93 150 98C158 103 163 107 170 110C177 113 182 118 190 118C198 118 207 116 215 112C223 108 232 102 238 96C244 90 248 83 252 76C256 69 258 61 262 52C266 43 270 28 275 22C280 16 286 13 292 14C298 15 306 21 312 26C318 31 322 39 326 46C330 53 333 59 334 66C335 73 333 80 330 86C327 92 323 97 318 102C313 107 305 112 298 116C291 120 284 124 278 126C272 128 263 130 260 131M0 145C5 143 21 136 30 133C39 130 47 127 55 127C63 127 74 132 78 133M190 117C196 118 213 123 225 125C237 127 254 130 260 131M0 190C5 190 20 189 30 188C40 187 48 186 60 185C72 184 87 183 100 182C113 181 129 180 140 180C151 180 160 186 168 184C176 182 183 172 188 166C193 160 197 151 200 145C203 139 205 132 206 130M10 190C12 194 16 207 20 215C24 223 29 231 35 236C41 241 44 244 55 246C66 248 84 249 100 250C116 251 135 252 150 250C165 248 178 244 190 240C202 236 213 231 225 225C237 219 252 212 262 206C272 200 275 194 282 190C289 186 295 185 302 185C309 185 315 192 322 190C329 188 339 173 342 170M342 170C343 173 347 182 350 190C353 198 356 210 360 220C364 230 370 243 374 250C378 257 384 260 386 262M386 0C387 6 393 28 392 38C391 48 387 56 380 62C373 68 360 71 352 74C344 77 335 81 332 82M452 0C449 5 438 20 436 30C434 40 436 52 440 60C444 68 453 74 460 80C467 86 473 93 482 95C491 97 506 92 512 90C518 88 519 87 520 86M482 95C480 98 474 109 470 116C466 123 466 130 460 135C454 140 446 143 436 145C426 147 413 146 402 148C391 150 381 152 372 155C363 158 355 162 350 165C345 168 342 171 340 172M460 135C464 138 478 143 485 150C492 157 496 166 500 175C504 184 507 198 510 205C513 212 518 213 520 215M252 4L270 10M70 260C72 264 81 277 85 285C89 293 91 302 92 310C93 318 91 327 90 335C89 343 85 351 85 360C85 369 89 379 90 390C91 401 91 413 92 425C93 437 94 450 95 460C96 470 99 482 100 486M85 360C79 358 61 350 50 345C39 340 28 334 20 330C12 326 3 322 0 320M85 360C82 363 72 372 65 380C58 388 47 397 40 405C33 413 28 420 25 428C22 436 21 445 20 452C19 459 20 469 20 472M0 475C5 476 20 479 30 480C40 481 49 481 60 482C71 483 85 485 95 487C105 489 112 492 120 496C128 500 137 509 140 512M100 486C104 483 117 476 125 470C133 464 142 457 150 450C158 443 167 435 175 430C183 425 191 422 200 420C209 418 220 419 230 420C240 421 252 427 262 425C272 423 280 414 290 410C300 406 312 401 325 400C338 399 356 403 370 405C384 407 398 408 410 410C422 412 430 415 440 415C450 415 457 411 470 410C483 409 512 408 520 408M175 428C179 423 192 409 200 400C208 391 218 380 225 372C232 364 239 357 245 352C251 347 259 342 262 340M90 290C96 291 112 293 125 295C138 297 152 298 165 300C178 302 189 306 200 310C211 314 222 320 230 325C238 330 245 337 250 340C255 343 260 344 262 345M350 280C353 278 362 271 370 270C378 269 392 272 400 275C408 278 418 285 420 290C422 295 418 303 415 305C412 307 406 301 404 300M350 280C351 285 357 299 356 310C355 321 351 334 346 345C341 356 331 367 326 375C321 383 320 386 316 392C312 398 303 405 300 408M262 320C267 319 281 313 290 315C299 317 310 326 315 330C320 334 319 340 320 342M438 418C435 423 426 440 420 450C414 460 410 469 405 480C400 491 392 509 390 515M300 515L326 490M78 133C82 131 91 124 100 121C109 118 121 114 130 112C139 110 148 110 155 110C162 110 169 111 175 112C181 113 188 117 190 118M95 270C104 271 134 273 150 275C166 277 178 281 190 282C202 283 213 280 225 280C237 280 251 283 262 284C273 285 281 285 292 286C303 287 316 291 326 290C336 289 346 282 350 280M95 360C101 364 118 377 130 385C142 393 159 406 165 410" stroke="#7a0a0e" stroke-width="25" fill="none" stroke-linecap="round" stroke-linejoin="round"/><path d="M78 133C82 131 91 124 100 121C109 118 121 114 130 112C139 110 148 110 155 110C162 110 169 111 175 112C181 113 188 117 190 118M95 270C104 271 134 273 150 275C166 277 178 281 190 282C202 283 213 280 225 280C237 280 251 283 262 284C273 285 281 285 292 286C303 287 316 291 326 290C336 289 346 282 350 280M95 360C101 364 118 377 130 385C142 393 159 406 165 410" stroke="#ff1c1c" stroke-width="18" fill="none" stroke-linecap="round" stroke-linejoin="round"/><path d="M0 90C5 89 22 87 30 85C38 83 42 82 50 80C58 78 67 73 75 72C83 71 92 70 100 72C108 74 117 78 125 82C133 86 142 93 150 98C158 103 163 107 170 110C177 113 182 118 190 118C198 118 207 116 215 112C223 108 232 102 238 96C244 90 248 83 252 76C256 69 258 61 262 52C266 43 270 28 275 22C280 16 286 13 292 14C298 15 306 21 312 26C318 31 322 39 326 46C330 53 333 59 334 66C335 73 333 80 330 86C327 92 323 97 318 102C313 107 305 112 298 116C291 120 284 124 278 126C272 128 263 130 260 131M190 117C196 118 213 123 225 125C237 127 254 130 260 131M0 190C5 190 20 189 30 188C40 187 48 186 60 185C72 184 87 183 100 182C113 181 129 180 140 180C151 180 160 186 168 184C176 182 183 172 188 166C193 160 197 151 200 145C203 139 205 132 206 130M386 0C387 6 393 28 392 38C391 48 387 56 380 62C373 68 360 71 352 74C344 77 335 81 332 82M452 0C449 5 438 20 436 30C434 40 436 52 440 60C444 68 453 74 460 80C467 86 473 93 482 95C491 97 506 92 512 90C518 88 519 87 520 86M460 135C464 138 478 143 485 150C492 157 496 166 500 175C504 184 507 198 510 205C513 212 518 213 520 215M262 320C267 319 281 313 290 315C299 317 310 326 315 330C320 334 319 340 320 342" stroke="#ff1c1c" stroke-width="16.2" fill="none" stroke-linecap="round" stroke-linejoin="round"/><path d="M0 145C5 143 21 136 30 133C39 130 47 127 55 127C63 127 74 132 78 133M300 515L326 490" stroke="#ff1c1c" stroke-width="18.0" fill="none" stroke-linecap="round" stroke-linejoin="round"/><path d="M10 190C12 194 16 207 20 215C24 223 29 231 35 236C41 241 44 244 55 246C66 248 84 249 100 250C116 251 135 252 150 250C165 248 178 244 190 240C202 236 213 231 225 225C237 219 252 212 262 206C272 200 275 194 282 190C289 186 295 185 302 185C309 185 315 192 322 190C329 188 339 173 342 170M342 170C343 173 347 182 350 190C353 198 356 210 360 220C364 230 370 243 374 250C378 257 384 260 386 262M70 260C72 264 81 277 85 285C89 293 91 302 92 310C93 318 91 327 90 335C89 343 85 351 85 360C85 369 89 379 90 390C91 401 91 413 92 425C93 437 94 450 95 460C96 470 99 482 100 486M350 280C353 278 362 271 370 270C378 269 392 272 400 275C408 278 418 285 420 290C422 295 418 303 415 305C412 307 406 301 404 300M438 418C435 423 426 440 420 450C414 460 410 469 405 480C400 491 392 509 390 515" stroke="#ff1c1c" stroke-width="14.4" fill="none" stroke-linecap="round" stroke-linejoin="round"/><path d="M482 95C480 98 474 109 470 116C466 123 466 130 460 135C454 140 446 143 436 145C426 147 413 146 402 148C391 150 381 152 372 155C363 158 355 162 350 165C345 168 342 171 340 172M90 290C96 291 112 293 125 295C138 297 152 298 165 300C178 302 189 306 200 310C211 314 222 320 230 325C238 330 245 337 250 340C255 343 260 344 262 345" stroke="#ff1c1c" stroke-width="22.5" fill="none" stroke-linecap="round" stroke-linejoin="round"/><path d="M252 4L270 10M85 360C79 358 61 350 50 345C39 340 28 334 20 330C12 326 3 322 0 320M85 360C82 363 72 372 65 380C58 388 47 397 40 405C33 413 28 420 25 428C22 436 21 445 20 452C19 459 20 469 20 472M0 475C5 476 20 479 30 480C40 481 49 481 60 482C71 483 85 485 95 487C105 489 112 492 120 496C128 500 137 509 140 512M100 486C104 483 117 476 125 470C133 464 142 457 150 450C158 443 167 435 175 430C183 425 191 422 200 420C209 418 220 419 230 420C240 421 252 427 262 425C272 423 280 414 290 410C300 406 312 401 325 400C338 399 356 403 370 405C384 407 398 408 410 410C422 412 430 415 440 415C450 415 457 411 470 410C483 409 512 408 520 408M175 428C179 423 192 409 200 400C208 391 218 380 225 372C232 364 239 357 245 352C251 347 259 342 262 340M350 280C351 285 357 299 356 310C355 321 351 334 346 345C341 356 331 367 326 375C321 383 320 386 316 392C312 398 303 405 300 408" stroke="#ff1c1c" stroke-width="19.8" fill="none" stroke-linecap="round" stroke-linejoin="round"/><text x="357" y="66" style="font-size:52px;font-weight:bold;fill:#ececf4;text-anchor:middle">*</text><text x="452" y="138" style="font-size:52px;font-weight:bold;fill:#ececf4;text-anchor:middle">*</text><text x="340" y="172" style="font-size:52px;font-weight:bold;fill:#ececf4;text-anchor:middle">*</text><text x="209" y="226" style="font-size:52px;font-weight:bold;fill:#ececf4;text-anchor:middle">*</text><text x="205" y="305" style="font-size:52px;font-weight:bold;fill:#ececf4;text-anchor:middle">*</text></svg>
<svg x="281.2" y="482.7" width="108.6" height="107" viewBox="0 0 520 520" preserveAspectRatio="none"><rect width="520" height="520" fill="#000"/><rect width="520" height="520" fill="url(#spG)"/><path d="M0 90C5 89 22 87 30 85C38 83 42 82 50 80C58 78 67 73 75 72C83 71 92 70 100 72C108 74 117 78 125 82C133 86 142 93 150 98C158 103 163 107 170 110C177 113 182 118 190 118C198 118 207 116 215 112C223 108 232 102 238 96C244 90 248 83 252 76C256 69 258 61 262 52C266 43 270 28 275 22C280 16 286 13 292 14C298 15 306 21 312 26C318 31 322 39 326 46C330 53 333 59 334 66C335 73 333 80 330 86C327 92 323 97 318 102C313 107 305 112 298 116C291 120 284 124 278 126C272 128 263 130 260 131M0 145C5 143 21 136 30 133C39 130 47 127 55 127C63 127 74 132 78 133M190 117C196 118 213 123 225 125C237 127 254 130 260 131M0 190C5 190 20 189 30 188C40 187 48 186 60 185C72 184 87 183 100 182C113 181 129 180 140 180C151 180 160 186 168 184C176 182 183 172 188 166C193 160 197 151 200 145C203 139 205 132 206 130M10 190C12 194 16 207 20 215C24 223 29 231 35 236C41 241 44 244 55 246C66 248 84 249 100 250C116 251 135 252 150 250C165 248 178 244 190 240C202 236 213 231 225 225C237 219 252 212 262 206C272 200 275 194 282 190C289 186 295 185 302 185C309 185 315 192 322 190C329 188 339 173 342 170M342 170C343 173 347 182 350 190C353 198 356 210 360 220C364 230 370 243 374 250C378 257 384 260 386 262M386 0C387 6 393 28 392 38C391 48 387 56 380 62C373 68 360 71 352 74C344 77 335 81 332 82M452 0C449 5 438 20 436 30C434 40 436 52 440 60C444 68 453 74 460 80C467 86 473 93 482 95C491 97 506 92 512 90C518 88 519 87 520 86M482 95C480 98 474 109 470 116C466 123 466 130 460 135C454 140 446 143 436 145C426 147 413 146 402 148C391 150 381 152 372 155C363 158 355 162 350 165C345 168 342 171 340 172M460 135C464 138 478 143 485 150C492 157 496 166 500 175C504 184 507 198 510 205C513 212 518 213 520 215M252 4L270 10M70 260C72 264 81 277 85 285C89 293 91 302 92 310C93 318 91 327 90 335C89 343 85 351 85 360C85 369 89 379 90 390C91 401 91 413 92 425C93 437 94 450 95 460C96 470 99 482 100 486M85 360C79 358 61 350 50 345C39 340 28 334 20 330C12 326 3 322 0 320M85 360C82 363 72 372 65 380C58 388 47 397 40 405C33 413 28 420 25 428C22 436 21 445 20 452C19 459 20 469 20 472M0 475C5 476 20 479 30 480C40 481 49 481 60 482C71 483 85 485 95 487C105 489 112 492 120 496C128 500 137 509 140 512M100 486C104 483 117 476 125 470C133 464 142 457 150 450C158 443 167 435 175 430C183 425 191 422 200 420C209 418 220 419 230 420C240 421 252 427 262 425C272 423 280 414 290 410C300 406 312 401 325 400C338 399 356 403 370 405C384 407 398 408 410 410C422 412 430 415 440 415C450 415 457 411 470 410C483 409 512 408 520 408M175 428C179 423 192 409 200 400C208 391 218 380 225 372C232 364 239 357 245 352C251 347 259 342 262 340M90 290C96 291 112 293 125 295C138 297 152 298 165 300C178 302 189 306 200 310C211 314 222 320 230 325C238 330 245 337 250 340C255 343 260 344 262 345M350 280C353 278 362 271 370 270C378 269 392 272 400 275C408 278 418 285 420 290C422 295 418 303 415 305C412 307 406 301 404 300M350 280C351 285 357 299 356 310C355 321 351 334 346 345C341 356 331 367 326 375C321 383 320 386 316 392C312 398 303 405 300 408M262 320C267 319 281 313 290 315C299 317 310 326 315 330C320 334 319 340 320 342M438 418C435 423 426 440 420 450C414 460 410 469 405 480C400 491 392 509 390 515M300 515L326 490" stroke="#0c5a12" stroke-width="21" fill="none" stroke-linecap="round" stroke-linejoin="round"/><path d="M0 90C5 89 22 87 30 85C38 83 42 82 50 80C58 78 67 73 75 72C83 71 92 70 100 72C108 74 117 78 125 82C133 86 142 93 150 98C158 103 163 107 170 110C177 113 182 118 190 118C198 118 207 116 215 112C223 108 232 102 238 96C244 90 248 83 252 76C256 69 258 61 262 52C266 43 270 28 275 22C280 16 286 13 292 14C298 15 306 21 312 26C318 31 322 39 326 46C330 53 333 59 334 66C335 73 333 80 330 86C327 92 323 97 318 102C313 107 305 112 298 116C291 120 284 124 278 126C272 128 263 130 260 131M0 145C5 143 21 136 30 133C39 130 47 127 55 127C63 127 74 132 78 133M190 117C196 118 213 123 225 125C237 127 254 130 260 131M0 190C5 190 20 189 30 188C40 187 48 186 60 185C72 184 87 183 100 182C113 181 129 180 140 180C151 180 160 186 168 184C176 182 183 172 188 166C193 160 197 151 200 145C203 139 205 132 206 130M10 190C12 194 16 207 20 215C24 223 29 231 35 236C41 241 44 244 55 246C66 248 84 249 100 250C116 251 135 252 150 250C165 248 178 244 190 240C202 236 213 231 225 225C237 219 252 212 262 206C272 200 275 194 282 190C289 186 295 185 302 185C309 185 315 192 322 190C329 188 339 173 342 170M342 170C343 173 347 182 350 190C353 198 356 210 360 220C364 230 370 243 374 250C378 257 384 260 386 262M386 0C387 6 393 28 392 38C391 48 387 56 380 62C373 68 360 71 352 74C344 77 335 81 332 82M452 0C449 5 438 20 436 30C434 40 436 52 440 60C444 68 453 74 460 80C467 86 473 93 482 95C491 97 506 92 512 90C518 88 519 87 520 86M482 95C480 98 474 109 470 116C466 123 466 130 460 135C454 140 446 143 436 145C426 147 413 146 402 148C391 150 381 152 372 155C363 158 355 162 350 165C345 168 342 171 340 172M460 135C464 138 478 143 485 150C492 157 496 166 500 175C504 184 507 198 510 205C513 212 518 213 520 215M252 4L270 10M70 260C72 264 81 277 85 285C89 293 91 302 92 310C93 318 91 327 90 335C89 343 85 351 85 360C85 369 89 379 90 390C91 401 91 413 92 425C93 437 94 450 95 460C96 470 99 482 100 486M85 360C79 358 61 350 50 345C39 340 28 334 20 330C12 326 3 322 0 320M85 360C82 363 72 372 65 380C58 388 47 397 40 405C33 413 28 420 25 428C22 436 21 445 20 452C19 459 20 469 20 472M0 475C5 476 20 479 30 480C40 481 49 481 60 482C71 483 85 485 95 487C105 489 112 492 120 496C128 500 137 509 140 512M100 486C104 483 117 476 125 470C133 464 142 457 150 450C158 443 167 435 175 430C183 425 191 422 200 420C209 418 220 419 230 420C240 421 252 427 262 425C272 423 280 414 290 410C300 406 312 401 325 400C338 399 356 403 370 405C384 407 398 408 410 410C422 412 430 415 440 415C450 415 457 411 470 410C483 409 512 408 520 408M175 428C179 423 192 409 200 400C208 391 218 380 225 372C232 364 239 357 245 352C251 347 259 342 262 340M90 290C96 291 112 293 125 295C138 297 152 298 165 300C178 302 189 306 200 310C211 314 222 320 230 325C238 330 245 337 250 340C255 343 260 344 262 345M350 280C353 278 362 271 370 270C378 269 392 272 400 275C408 278 418 285 420 290C422 295 418 303 415 305C412 307 406 301 404 300M350 280C351 285 357 299 356 310C355 321 351 334 346 345C341 356 331 367 326 375C321 383 320 386 316 392C312 398 303 405 300 408M262 320C267 319 281 313 290 315C299 317 310 326 315 330C320 334 319 340 320 342M438 418C435 423 426 440 420 450C414 460 410 469 405 480C400 491 392 509 390 515M300 515L326 490" stroke="#22f622" stroke-width="15" fill="none" stroke-linecap="round" stroke-linejoin="round"/><circle cx="302" cy="185" r="9" fill="#22f622"/><circle cx="200" cy="310" r="13" fill="#22f622"/><circle cx="190" cy="240" r="10" fill="#22f622"/><circle cx="50" cy="345" r="13" fill="#22f622"/><circle cx="30" cy="133" r="11" fill="#22f622"/><circle cx="346" cy="345" r="13" fill="#22f622"/><circle cx="410" cy="410" r="9" fill="#22f622"/><circle cx="470" cy="116" r="11" fill="#22f622"/><circle cx="326" cy="375" r="10" fill="#22f622"/><circle cx="510" cy="205" r="8" fill="#22f622"/><text x="357" y="66" style="font-size:52px;font-weight:bold;fill:#ececf4;text-anchor:middle">*</text><text x="452" y="138" style="font-size:52px;font-weight:bold;fill:#ececf4;text-anchor:middle">*</text><text x="340" y="172" style="font-size:52px;font-weight:bold;fill:#ececf4;text-anchor:middle">*</text><text x="209" y="226" style="font-size:52px;font-weight:bold;fill:#ececf4;text-anchor:middle">*</text><text x="205" y="305" style="font-size:52px;font-weight:bold;fill:#ececf4;text-anchor:middle">*</text></svg>
<svg x="391.2" y="482.7" width="106.6" height="107" viewBox="0 0 520 520" preserveAspectRatio="none"><rect width="520" height="520" fill="#000"/><rect width="520" height="520" fill="url(#spC)"/><path d="M0 90C5 89 22 87 30 85C38 83 42 82 50 80C58 78 67 73 75 72C83 71 92 70 100 72C108 74 117 78 125 82C133 86 142 93 150 98C158 103 163 107 170 110C177 113 182 118 190 118C198 118 207 116 215 112C223 108 232 102 238 96C244 90 248 83 252 76C256 69 258 61 262 52C266 43 270 28 275 22C280 16 286 13 292 14C298 15 306 21 312 26C318 31 322 39 326 46C330 53 333 59 334 66C335 73 333 80 330 86C327 92 323 97 318 102C313 107 305 112 298 116C291 120 284 124 278 126C272 128 263 130 260 131M0 145C5 143 21 136 30 133C39 130 47 127 55 127C63 127 74 132 78 133M190 117C196 118 213 123 225 125C237 127 254 130 260 131M0 190C5 190 20 189 30 188C40 187 48 186 60 185C72 184 87 183 100 182C113 181 129 180 140 180C151 180 160 186 168 184C176 182 183 172 188 166C193 160 197 151 200 145C203 139 205 132 206 130M10 190C12 194 16 207 20 215C24 223 29 231 35 236C41 241 44 244 55 246C66 248 84 249 100 250C116 251 135 252 150 250C165 248 178 244 190 240C202 236 213 231 225 225C237 219 252 212 262 206C272 200 275 194 282 190C289 186 295 185 302 185C309 185 315 192 322 190C329 188 339 173 342 170M342 170C343 173 347 182 350 190C353 198 356 210 360 220C364 230 370 243 374 250C378 257 384 260 386 262M386 0C387 6 393 28 392 38C391 48 387 56 380 62C373 68 360 71 352 74C344 77 335 81 332 82M452 0C449 5 438 20 436 30C434 40 436 52 440 60C444 68 453 74 460 80C467 86 473 93 482 95C491 97 506 92 512 90C518 88 519 87 520 86M482 95C480 98 474 109 470 116C466 123 466 130 460 135C454 140 446 143 436 145C426 147 413 146 402 148C391 150 381 152 372 155C363 158 355 162 350 165C345 168 342 171 340 172M460 135C464 138 478 143 485 150C492 157 496 166 500 175C504 184 507 198 510 205C513 212 518 213 520 215M252 4L270 10M70 260C72 264 81 277 85 285C89 293 91 302 92 310C93 318 91 327 90 335C89 343 85 351 85 360C85 369 89 379 90 390C91 401 91 413 92 425C93 437 94 450 95 460C96 470 99 482 100 486M85 360C79 358 61 350 50 345C39 340 28 334 20 330C12 326 3 322 0 320M85 360C82 363 72 372 65 380C58 388 47 397 40 405C33 413 28 420 25 428C22 436 21 445 20 452C19 459 20 469 20 472M0 475C5 476 20 479 30 480C40 481 49 481 60 482C71 483 85 485 95 487C105 489 112 492 120 496C128 500 137 509 140 512M100 486C104 483 117 476 125 470C133 464 142 457 150 450C158 443 167 435 175 430C183 425 191 422 200 420C209 418 220 419 230 420C240 421 252 427 262 425C272 423 280 414 290 410C300 406 312 401 325 400C338 399 356 403 370 405C384 407 398 408 410 410C422 412 430 415 440 415C450 415 457 411 470 410C483 409 512 408 520 408M175 428C179 423 192 409 200 400C208 391 218 380 225 372C232 364 239 357 245 352C251 347 259 342 262 340M90 290C96 291 112 293 125 295C138 297 152 298 165 300C178 302 189 306 200 310C211 314 222 320 230 325C238 330 245 337 250 340C255 343 260 344 262 345M350 280C353 278 362 271 370 270C378 269 392 272 400 275C408 278 418 285 420 290C422 295 418 303 415 305C412 307 406 301 404 300M350 280C351 285 357 299 356 310C355 321 351 334 346 345C341 356 331 367 326 375C321 383 320 386 316 392C312 398 303 405 300 408M262 320C267 319 281 313 290 315C299 317 310 326 315 330C320 334 319 340 320 342M438 418C435 423 426 440 420 450C414 460 410 469 405 480C400 491 392 509 390 515M300 515L326 490" stroke="#0a3636" stroke-width="13" fill="none" stroke-linecap="round" stroke-linejoin="round"/><path d="M0 90C5 89 22 87 30 85C38 83 42 82 50 80C58 78 67 73 75 72C83 71 92 70 100 72C108 74 117 78 125 82C133 86 142 93 150 98C158 103 163 107 170 110C177 113 182 118 190 118C198 118 207 116 215 112C223 108 232 102 238 96C244 90 248 83 252 76C256 69 258 61 262 52C266 43 270 28 275 22C280 16 286 13 292 14C298 15 306 21 312 26C318 31 322 39 326 46C330 53 333 59 334 66C335 73 333 80 330 86C327 92 323 97 318 102C313 107 305 112 298 116C291 120 284 124 278 126C272 128 263 130 260 131M0 145C5 143 21 136 30 133C39 130 47 127 55 127C63 127 74 132 78 133M190 117C196 118 213 123 225 125C237 127 254 130 260 131M0 190C5 190 20 189 30 188C40 187 48 186 60 185C72 184 87 183 100 182C113 181 129 180 140 180C151 180 160 186 168 184C176 182 183 172 188 166C193 160 197 151 200 145C203 139 205 132 206 130M10 190C12 194 16 207 20 215C24 223 29 231 35 236C41 241 44 244 55 246C66 248 84 249 100 250C116 251 135 252 150 250C165 248 178 244 190 240C202 236 213 231 225 225C237 219 252 212 262 206C272 200 275 194 282 190C289 186 295 185 302 185C309 185 315 192 322 190C329 188 339 173 342 170M342 170C343 173 347 182 350 190C353 198 356 210 360 220C364 230 370 243 374 250C378 257 384 260 386 262M386 0C387 6 393 28 392 38C391 48 387 56 380 62C373 68 360 71 352 74C344 77 335 81 332 82M452 0C449 5 438 20 436 30C434 40 436 52 440 60C444 68 453 74 460 80C467 86 473 93 482 95C491 97 506 92 512 90C518 88 519 87 520 86M482 95C480 98 474 109 470 116C466 123 466 130 460 135C454 140 446 143 436 145C426 147 413 146 402 148C391 150 381 152 372 155C363 158 355 162 350 165C345 168 342 171 340 172M460 135C464 138 478 143 485 150C492 157 496 166 500 175C504 184 507 198 510 205C513 212 518 213 520 215M252 4L270 10M70 260C72 264 81 277 85 285C89 293 91 302 92 310C93 318 91 327 90 335C89 343 85 351 85 360C85 369 89 379 90 390C91 401 91 413 92 425C93 437 94 450 95 460C96 470 99 482 100 486M85 360C79 358 61 350 50 345C39 340 28 334 20 330C12 326 3 322 0 320M85 360C82 363 72 372 65 380C58 388 47 397 40 405C33 413 28 420 25 428C22 436 21 445 20 452C19 459 20 469 20 472M0 475C5 476 20 479 30 480C40 481 49 481 60 482C71 483 85 485 95 487C105 489 112 492 120 496C128 500 137 509 140 512M100 486C104 483 117 476 125 470C133 464 142 457 150 450C158 443 167 435 175 430C183 425 191 422 200 420C209 418 220 419 230 420C240 421 252 427 262 425C272 423 280 414 290 410C300 406 312 401 325 400C338 399 356 403 370 405C384 407 398 408 410 410C422 412 430 415 440 415C450 415 457 411 470 410C483 409 512 408 520 408M175 428C179 423 192 409 200 400C208 391 218 380 225 372C232 364 239 357 245 352C251 347 259 342 262 340M90 290C96 291 112 293 125 295C138 297 152 298 165 300C178 302 189 306 200 310C211 314 222 320 230 325C238 330 245 337 250 340C255 343 260 344 262 345M350 280C353 278 362 271 370 270C378 269 392 272 400 275C408 278 418 285 420 290C422 295 418 303 415 305C412 307 406 301 404 300M350 280C351 285 357 299 356 310C355 321 351 334 346 345C341 356 331 367 326 375C321 383 320 386 316 392C312 398 303 405 300 408M262 320C267 319 281 313 290 315C299 317 310 326 315 330C320 334 319 340 320 342M438 418C435 423 426 440 420 450C414 460 410 469 405 480C400 491 392 509 390 515M300 515L326 490" stroke="#2ccccc" stroke-width="7" fill="none" stroke-linecap="round" stroke-linejoin="round"/><text x="357" y="66" style="font-size:52px;font-weight:bold;fill:#ececf4;text-anchor:middle">*</text><text x="452" y="138" style="font-size:52px;font-weight:bold;fill:#ececf4;text-anchor:middle">*</text><text x="340" y="172" style="font-size:52px;font-weight:bold;fill:#ececf4;text-anchor:middle">*</text><text x="209" y="226" style="font-size:52px;font-weight:bold;fill:#ececf4;text-anchor:middle">*</text><text x="205" y="305" style="font-size:52px;font-weight:bold;fill:#ececf4;text-anchor:middle">*</text></svg>
<svg x="63" y="591.7" width="108.3" height="106.5" viewBox="0 0 520 520" preserveAspectRatio="none"><rect width="520" height="520" fill="#000"/><rect width="520" height="520" fill="#030805"/><rect width="520" height="520" fill="url(#nz)"/><rect width="520" height="520" fill="url(#spM3)"/><path d="M0 420C3 415 15 398 20 390C25 382 28 378 30 375M150 470L155 512M140 120C145 122 158 132 170 130C182 128 203 109 210 105" stroke="#b02020" stroke-width="9" fill="none" stroke-linecap="round" stroke-linejoin="round"/><path d="" stroke="#e0281c" stroke-width="9" fill="none" stroke-linecap="round" stroke-linejoin="round"/><path d="M0 30C4 29 17 26 25 25C33 24 45 25 50 22C55 19 55 10 56 8M386 186C390 189 404 198 410 205C416 212 422 216 425 226C428 236 428 256 426 262C424 268 415 260 410 262C405 264 399 269 396 272C393 275 389 278 390 282C391 286 394 291 400 296C406 301 416 306 426 310C436 314 451 319 460 320C469 321 475 317 482 314C489 311 495 305 500 300C505 295 510 287 512 284" stroke="#d8381a" stroke-width="18.7" fill="none" stroke-linecap="round" stroke-linejoin="round"/><path d="M0 80C3 79 13 74 20 72C27 70 34 68 40 65C46 62 52 55 58 55C64 55 69 61 76 65C83 69 92 75 100 80C108 85 119 91 125 96C131 101 132 107 136 112C140 117 144 121 150 128C156 135 167 151 170 156M275 365C281 365 298 364 310 365C322 366 335 366 345 370C355 374 363 381 370 390C377 399 380 413 385 425C390 437 393 451 400 460C407 469 420 471 425 480C430 489 429 507 430 512" stroke="#d8301a" stroke-width="18.7" fill="none" stroke-linecap="round" stroke-linejoin="round"/><path d="M125 100C121 103 107 112 100 118C93 124 84 130 82 134C80 138 85 139 86 140" stroke="#e04018" stroke-width="18.7" fill="none" stroke-linecap="round" stroke-linejoin="round"/><path d="M262 50C270 49 295 46 310 45C325 44 340 44 350 42C360 40 368 40 372 35C376 30 376 16 376 10C376 4 371 2 370 0" stroke="#c82818" stroke-width="18.7" fill="none" stroke-linecap="round" stroke-linejoin="round"/><path d="M56 8C56 12 55 27 55 35C55 43 58 52 58 55M204 26C209 28 226 34 234 40C242 46 245 54 250 60C255 66 260 73 262 76M280 450C282 456 290 475 295 485C300 495 308 508 310 512" stroke="#c82818" stroke-width="21.2" fill="none" stroke-linecap="round" stroke-linejoin="round"/><path d="M122 6C127 10 141 23 150 28C159 33 167 34 176 34C185 34 198 30 204 26C210 22 211 11 212 8M480 8C481 13 486 28 485 40C484 52 480 67 476 80C472 93 465 108 460 120C455 132 450 142 446 150C442 158 438 162 436 165M125 260C129 263 139 273 150 280C161 287 178 294 190 300C202 306 213 311 220 316C227 321 232 326 230 330C228 334 215 337 210 340C205 343 200 345 198 346" stroke="#d8301a" stroke-width="21.2" fill="none" stroke-linecap="round" stroke-linejoin="round"/><path d="M226 182C227 188 229 204 230 215C231 226 233 238 234 250C235 262 235 277 235 290C235 303 233 323 233 330" stroke="#d8381a" stroke-width="21.2" fill="none" stroke-linecap="round" stroke-linejoin="round"/><path d="M275 365C275 372 274 396 275 410C276 424 276 440 280 450C284 460 292 465 300 470C308 475 320 478 330 480C340 482 350 482 360 480C370 478 383 473 390 470C397 467 398 462 400 460M470 460C471 455 476 439 475 430C474 421 468 410 465 405C462 400 458 401 457 400" stroke="#e04018" stroke-width="21.2" fill="none" stroke-linecap="round" stroke-linejoin="round"/><path d="M170 156C175 158 191 164 200 168C209 172 218 176 226 180C234 184 240 189 246 190C252 191 256 185 262 185C268 185 275 189 285 190C295 191 308 191 320 190C332 189 348 188 360 185C372 182 382 176 390 170C398 164 407 159 410 150C413 141 412 125 410 115C408 105 404 98 400 90C396 82 390 78 385 70C380 62 374 45 372 40M225 450C231 451 251 455 260 455C269 455 277 451 280 450" stroke="#c82818" stroke-width="15.3" fill="none" stroke-linecap="round" stroke-linejoin="round"/><path d="M170 156C168 162 165 181 160 190C155 199 148 203 140 210C132 217 123 225 115 230C107 235 99 238 90 240C81 242 70 242 60 240C50 238 38 232 30 225C22 218 15 209 10 200C5 191 2 175 0 170" stroke="#d8381a" stroke-width="15.3" fill="none" stroke-linecap="round" stroke-linejoin="round"/><path d="M480 8C485 10 503 18 510 20C517 22 518 22 520 22M262 88L272 110" stroke="#d8301a" stroke-width="15.3" fill="none" stroke-linecap="round" stroke-linejoin="round"/><path d="M410 150C414 152 428 157 436 162C444 167 453 172 460 180C467 188 473 202 480 210C487 218 493 225 500 230C507 235 517 240 520 242" stroke="#d8381a" stroke-width="13.6" fill="none" stroke-linecap="round" stroke-linejoin="round"/><path d="M60 240C61 244 66 254 64 262C62 270 54 281 50 290C46 299 38 308 40 315C42 322 52 328 60 335C68 342 80 348 90 355C100 362 112 368 120 375C128 382 137 386 140 395C143 404 142 419 140 430C138 441 134 451 130 460C126 469 120 477 115 485C110 493 102 504 100 508" stroke="#c82818" stroke-width="13.6" fill="none" stroke-linecap="round" stroke-linejoin="round"/><path d="M60 490C63 492 73 502 80 505C87 508 97 509 100 510M400 460C406 462 423 470 435 470C447 470 459 462 470 460C481 458 492 461 500 460C508 459 517 456 520 455" stroke="#e04018" stroke-width="13.6" fill="none" stroke-linecap="round" stroke-linejoin="round"/><path d="M425 226C429 224 443 216 450 215C457 214 463 219 466 220" stroke="#d8381a" stroke-width="17.0" fill="none" stroke-linecap="round" stroke-linejoin="round"/><path d="M0 30C4 29 17 26 25 25C33 24 45 25 50 22C55 19 55 10 56 8M386 186C390 189 404 198 410 205C416 212 422 216 425 226C428 236 428 256 426 262C424 268 415 260 410 262C405 264 399 269 396 272C393 275 389 278 390 282C391 286 394 291 400 296C406 301 416 306 426 310C436 314 451 319 460 320C469 321 475 317 482 314C489 311 495 305 500 300C505 295 510 287 512 284" stroke="#f0d830" stroke-width="12.1" fill="none" stroke-linecap="round" stroke-linejoin="round"/><path d="M0 80C3 79 13 74 20 72C27 70 34 68 40 65C46 62 52 55 58 55C64 55 69 61 76 65C83 69 92 75 100 80C108 85 119 91 125 96C131 101 132 107 136 112C140 117 144 121 150 128C156 135 167 151 170 156M275 365C281 365 298 364 310 365C322 366 335 366 345 370C355 374 363 381 370 390C377 399 380 413 385 425C390 437 393 451 400 460C407 469 420 471 425 480C430 489 429 507 430 512" stroke="#f2c828" stroke-width="12.1" fill="none" stroke-linecap="round" stroke-linejoin="round"/><path d="M125 100C121 103 107 112 100 118C93 124 84 130 82 134C80 138 85 139 86 140" stroke="#f6d838" stroke-width="12.1" fill="none" stroke-linecap="round" stroke-linejoin="round"/><path d="M262 50C270 49 295 46 310 45C325 44 340 44 350 42C360 40 368 40 372 35C376 30 376 16 376 10C376 4 371 2 370 0" stroke="#ee9828" stroke-width="12.1" fill="none" stroke-linecap="round" stroke-linejoin="round"/><path d="M56 8C56 12 55 27 55 35C55 43 58 52 58 55M204 26C209 28 226 34 234 40C242 46 245 54 250 60C255 66 260 73 262 76M280 450C282 456 290 475 295 485C300 495 308 508 310 512" stroke="#ee9828" stroke-width="13.8" fill="none" stroke-linecap="round" stroke-linejoin="round"/><path d="M122 6C127 10 141 23 150 28C159 33 167 34 176 34C185 34 198 30 204 26C210 22 211 11 212 8M480 8C481 13 486 28 485 40C484 52 480 67 476 80C472 93 465 108 460 120C455 132 450 142 446 150C442 158 438 162 436 165M125 260C129 263 139 273 150 280C161 287 178 294 190 300C202 306 213 311 220 316C227 321 232 326 230 330C228 334 215 337 210 340C205 343 200 345 198 346" stroke="#f2c828" stroke-width="13.8" fill="none" stroke-linecap="round" stroke-linejoin="round"/><path d="M226 182C227 188 229 204 230 215C231 226 233 238 234 250C235 262 235 277 235 290C235 303 233 323 233 330" stroke="#f0d830" stroke-width="13.8" fill="none" stroke-linecap="round" stroke-linejoin="round"/><path d="M275 365C275 372 274 396 275 410C276 424 276 440 280 450C284 460 292 465 300 470C308 475 320 478 330 480C340 482 350 482 360 480C370 478 383 473 390 470C397 467 398 462 400 460M470 460C471 455 476 439 475 430C474 421 468 410 465 405C462 400 458 401 457 400" stroke="#f6d838" stroke-width="13.8" fill="none" stroke-linecap="round" stroke-linejoin="round"/><path d="M170 156C175 158 191 164 200 168C209 172 218 176 226 180C234 184 240 189 246 190C252 191 256 185 262 185C268 185 275 189 285 190C295 191 308 191 320 190C332 189 348 188 360 185C372 182 382 176 390 170C398 164 407 159 410 150C413 141 412 125 410 115C408 105 404 98 400 90C396 82 390 78 385 70C380 62 374 45 372 40M225 450C231 451 251 455 260 455C269 455 277 451 280 450" stroke="#ee9828" stroke-width="9.9" fill="none" stroke-linecap="round" stroke-linejoin="round"/><path d="M170 156C168 162 165 181 160 190C155 199 148 203 140 210C132 217 123 225 115 230C107 235 99 238 90 240C81 242 70 242 60 240C50 238 38 232 30 225C22 218 15 209 10 200C5 191 2 175 0 170" stroke="#f0d830" stroke-width="9.9" fill="none" stroke-linecap="round" stroke-linejoin="round"/><path d="M480 8C485 10 503 18 510 20C517 22 518 22 520 22M262 88L272 110" stroke="#f2c828" stroke-width="9.9" fill="none" stroke-linecap="round" stroke-linejoin="round"/><path d="M410 150C414 152 428 157 436 162C444 167 453 172 460 180C467 188 473 202 480 210C487 218 493 225 500 230C507 235 517 240 520 242" stroke="#f0d830" stroke-width="8.8" fill="none" stroke-linecap="round" stroke-linejoin="round"/><path d="M60 240C61 244 66 254 64 262C62 270 54 281 50 290C46 299 38 308 40 315C42 322 52 328 60 335C68 342 80 348 90 355C100 362 112 368 120 375C128 382 137 386 140 395C143 404 142 419 140 430C138 441 134 451 130 460C126 469 120 477 115 485C110 493 102 504 100 508" stroke="#ee9828" stroke-width="8.8" fill="none" stroke-linecap="round" stroke-linejoin="round"/><path d="M60 490C63 492 73 502 80 505C87 508 97 509 100 510M400 460C406 462 423 470 435 470C447 470 459 462 470 460C481 458 492 461 500 460C508 459 517 456 520 455" stroke="#f6d838" stroke-width="8.8" fill="none" stroke-linecap="round" stroke-linejoin="round"/><path d="M425 226C429 224 443 216 450 215C457 214 463 219 466 220" stroke="#f0d830" stroke-width="11.0" fill="none" stroke-linecap="round" stroke-linejoin="round"/><path d="M0 30C4 29 17 26 25 25C33 24 45 25 50 22C55 19 55 10 56 8M386 186C390 189 404 198 410 205C416 212 422 216 425 226C428 236 428 256 426 262C424 268 415 260 410 262C405 264 399 269 396 272C393 275 389 278 390 282C391 286 394 291 400 296C406 301 416 306 426 310C436 314 451 319 460 320C469 321 475 317 482 314C489 311 495 305 500 300C505 295 510 287 512 284" stroke="#fffbe0" stroke-width="4.4" fill="none" stroke-linecap="round" stroke-linejoin="round"/><path d="M0 80C3 79 13 74 20 72C27 70 34 68 40 65C46 62 52 55 58 55C64 55 69 61 76 65C83 69 92 75 100 80C108 85 119 91 125 96C131 101 132 107 136 112C140 117 144 121 150 128C156 135 167 151 170 156M275 365C281 365 298 364 310 365C322 366 335 366 345 370C355 374 363 381 370 390C377 399 380 413 385 425C390 437 393 451 400 460C407 469 420 471 425 480C430 489 429 507 430 512" stroke="#fff0a0" stroke-width="4.4" fill="none" stroke-linecap="round" stroke-linejoin="round"/><path d="M125 100C121 103 107 112 100 118C93 124 84 130 82 134C80 138 85 139 86 140" stroke="#fff6c0" stroke-width="4.4" fill="none" stroke-linecap="round" stroke-linejoin="round"/><path d="M262 50C270 49 295 46 310 45C325 44 340 44 350 42C360 40 368 40 372 35C376 30 376 16 376 10C376 4 371 2 370 0" stroke="#f8e080" stroke-width="4.4" fill="none" stroke-linecap="round" stroke-linejoin="round"/><path d="M56 8C56 12 55 27 55 35C55 43 58 52 58 55M204 26C209 28 226 34 234 40C242 46 245 54 250 60C255 66 260 73 262 76M280 450C282 456 290 475 295 485C300 495 308 508 310 512" stroke="#f8e080" stroke-width="5.0" fill="none" stroke-linecap="round" stroke-linejoin="round"/><path d="M122 6C127 10 141 23 150 28C159 33 167 34 176 34C185 34 198 30 204 26C210 22 211 11 212 8M480 8C481 13 486 28 485 40C484 52 480 67 476 80C472 93 465 108 460 120C455 132 450 142 446 150C442 158 438 162 436 165M125 260C129 263 139 273 150 280C161 287 178 294 190 300C202 306 213 311 220 316C227 321 232 326 230 330C228 334 215 337 210 340C205 343 200 345 198 346" stroke="#fff0a0" stroke-width="5.0" fill="none" stroke-linecap="round" stroke-linejoin="round"/><path d="M226 182C227 188 229 204 230 215C231 226 233 238 234 250C235 262 235 277 235 290C235 303 233 323 233 330" stroke="#fffbe0" stroke-width="5.0" fill="none" stroke-linecap="round" stroke-linejoin="round"/><path d="M275 365C275 372 274 396 275 410C276 424 276 440 280 450C284 460 292 465 300 470C308 475 320 478 330 480C340 482 350 482 360 480C370 478 383 473 390 470C397 467 398 462 400 460M470 460C471 455 476 439 475 430C474 421 468 410 465 405C462 400 458 401 457 400" stroke="#fff6c0" stroke-width="5.0" fill="none" stroke-linecap="round" stroke-linejoin="round"/><path d="M170 156C175 158 191 164 200 168C209 172 218 176 226 180C234 184 240 189 246 190C252 191 256 185 262 185C268 185 275 189 285 190C295 191 308 191 320 190C332 189 348 188 360 185C372 182 382 176 390 170C398 164 407 159 410 150C413 141 412 125 410 115C408 105 404 98 400 90C396 82 390 78 385 70C380 62 374 45 372 40M225 450C231 451 251 455 260 455C269 455 277 451 280 450" stroke="#f8e080" stroke-width="3.6" fill="none" stroke-linecap="round" stroke-linejoin="round"/><path d="M170 156C168 162 165 181 160 190C155 199 148 203 140 210C132 217 123 225 115 230C107 235 99 238 90 240C81 242 70 242 60 240C50 238 38 232 30 225C22 218 15 209 10 200C5 191 2 175 0 170" stroke="#fffbe0" stroke-width="3.6" fill="none" stroke-linecap="round" stroke-linejoin="round"/><path d="M480 8C485 10 503 18 510 20C517 22 518 22 520 22M262 88L272 110" stroke="#fff0a0" stroke-width="3.6" fill="none" stroke-linecap="round" stroke-linejoin="round"/><path d="M410 150C414 152 428 157 436 162C444 167 453 172 460 180C467 188 473 202 480 210C487 218 493 225 500 230C507 235 517 240 520 242" stroke="#fffbe0" stroke-width="3.2" fill="none" stroke-linecap="round" stroke-linejoin="round"/><path d="M60 240C61 244 66 254 64 262C62 270 54 281 50 290C46 299 38 308 40 315C42 322 52 328 60 335C68 342 80 348 90 355C100 362 112 368 120 375C128 382 137 386 140 395C143 404 142 419 140 430C138 441 134 451 130 460C126 469 120 477 115 485C110 493 102 504 100 508" stroke="#f8e080" stroke-width="3.2" fill="none" stroke-linecap="round" stroke-linejoin="round"/><path d="M60 490C63 492 73 502 80 505C87 508 97 509 100 510M400 460C406 462 423 470 435 470C447 470 459 462 470 460C481 458 492 461 500 460C508 459 517 456 520 455" stroke="#fff6c0" stroke-width="3.2" fill="none" stroke-linecap="round" stroke-linejoin="round"/><path d="M425 226C429 224 443 216 450 215C457 214 463 219 466 220" stroke="#fffbe0" stroke-width="4.0" fill="none" stroke-linecap="round" stroke-linejoin="round"/><circle cx="510" cy="20" r="13" fill="#f2c828"/><circle cx="426" cy="310" r="11" fill="#f2c828"/><circle cx="25" cy="25" r="9" fill="#f2c828"/><circle cx="115" cy="485" r="7" fill="#f2c828"/><circle cx="234" cy="250" r="12" fill="#f2c828"/><circle cx="310" cy="365" r="13" fill="#f2c828"/><circle cx="226" cy="180" r="8" fill="#f2c828"/><circle cx="360" cy="185" r="10" fill="#f2c828"/><circle cx="320" cy="190" r="10" fill="#f2c828"/><circle cx="400" cy="460" r="13" fill="#f2c828"/><text x="434" y="157" style="font-size:52px;font-weight:bold;fill:#ececf4;text-anchor:middle">*</text><text x="272" y="357" style="font-size:52px;font-weight:bold;fill:#ececf4;text-anchor:middle">*</text></svg>
<svg x="173" y="591.7" width="106.6" height="106.5" viewBox="0 0 520 520" preserveAspectRatio="none"><rect width="520" height="520" fill="#000"/><rect width="520" height="520" fill="url(#spR)"/><path d="M0 420C3 415 15 398 20 390C25 382 28 378 30 375M150 470L155 512M140 120C145 122 158 132 170 130C182 128 203 109 210 105" stroke="#a0121c" stroke-width="6" fill="none" stroke-linecap="round" stroke-linejoin="round"/><path d="M0 30C4 29 17 26 25 25C33 24 45 25 50 22C55 19 55 10 56 8M56 8C56 12 55 27 55 35C55 43 58 52 58 55M0 80C3 79 13 74 20 72C27 70 34 68 40 65C46 62 52 55 58 55C64 55 69 61 76 65C83 69 92 75 100 80C108 85 119 91 125 96C131 101 132 107 136 112C140 117 144 121 150 128C156 135 167 151 170 156M125 100C121 103 107 112 100 118C93 124 84 130 82 134C80 138 85 139 86 140M122 6C127 10 141 23 150 28C159 33 167 34 176 34C185 34 198 30 204 26C210 22 211 11 212 8M204 26C209 28 226 34 234 40C242 46 245 54 250 60C255 66 260 73 262 76M170 156C175 158 191 164 200 168C209 172 218 176 226 180C234 184 240 189 246 190C252 191 256 185 262 185C268 185 275 189 285 190C295 191 308 191 320 190C332 189 348 188 360 185C372 182 382 176 390 170C398 164 407 159 410 150C413 141 412 125 410 115C408 105 404 98 400 90C396 82 390 78 385 70C380 62 374 45 372 40M170 156C168 162 165 181 160 190C155 199 148 203 140 210C132 217 123 225 115 230C107 235 99 238 90 240C81 242 70 242 60 240C50 238 38 232 30 225C22 218 15 209 10 200C5 191 2 175 0 170M226 182C227 188 229 204 230 215C231 226 233 238 234 250C235 262 235 277 235 290C235 303 233 323 233 330M262 50C270 49 295 46 310 45C325 44 340 44 350 42C360 40 368 40 372 35C376 30 376 16 376 10C376 4 371 2 370 0M480 8C481 13 486 28 485 40C484 52 480 67 476 80C472 93 465 108 460 120C455 132 450 142 446 150C442 158 438 162 436 165M480 8C485 10 503 18 510 20C517 22 518 22 520 22M410 150C414 152 428 157 436 162C444 167 453 172 460 180C467 188 473 202 480 210C487 218 493 225 500 230C507 235 517 240 520 242M386 186C390 189 404 198 410 205C416 212 422 216 425 226C428 236 428 256 426 262C424 268 415 260 410 262C405 264 399 269 396 272C393 275 389 278 390 282C391 286 394 291 400 296C406 301 416 306 426 310C436 314 451 319 460 320C469 321 475 317 482 314C489 311 495 305 500 300C505 295 510 287 512 284M425 226C429 224 443 216 450 215C457 214 463 219 466 220M262 88L272 110M60 240C61 244 66 254 64 262C62 270 54 281 50 290C46 299 38 308 40 315C42 322 52 328 60 335C68 342 80 348 90 355C100 362 112 368 120 375C128 382 137 386 140 395C143 404 142 419 140 430C138 441 134 451 130 460C126 469 120 477 115 485C110 493 102 504 100 508M125 260C129 263 139 273 150 280C161 287 178 294 190 300C202 306 213 311 220 316C227 321 232 326 230 330C228 334 215 337 210 340C205 343 200 345 198 346M60 490C63 492 73 502 80 505C87 508 97 509 100 510M275 365C281 365 298 364 310 365C322 366 335 366 345 370C355 374 363 381 370 390C377 399 380 413 385 425C390 437 393 451 400 460C407 469 420 471 425 480C430 489 429 507 430 512M275 365C275 372 274 396 275 410C276 424 276 440 280 450C284 460 292 465 300 470C308 475 320 478 330 480C340 482 350 482 360 480C370 478 383 473 390 470C397 467 398 462 400 460M225 450C231 451 251 455 260 455C269 455 277 451 280 450M280 450C282 456 290 475 295 485C300 495 308 508 310 512M400 460C406 462 423 470 435 470C447 470 459 462 470 460C481 458 492 461 500 460C508 459 517 456 520 455M470 460C471 455 476 439 475 430C474 421 468 410 465 405C462 400 458 401 457 400" stroke="#7a0a0e" stroke-width="24" fill="none" stroke-linecap="round" stroke-linejoin="round"/><path d="" stroke="#ff1c1c" stroke-width="17" fill="none" stroke-linecap="round" stroke-linejoin="round"/><path d="M0 30C4 29 17 26 25 25C33 24 45 25 50 22C55 19 55 10 56 8M0 80C3 79 13 74 20 72C27 70 34 68 40 65C46 62 52 55 58 55C64 55 69 61 76 65C83 69 92 75 100 80C108 85 119 91 125 96C131 101 132 107 136 112C140 117 144 121 150 128C156 135 167 151 170 156M125 100C121 103 107 112 100 118C93 124 84 130 82 134C80 138 85 139 86 140M262 50C270 49 295 46 310 45C325 44 340 44 350 42C360 40 368 40 372 35C376 30 376 16 376 10C376 4 371 2 370 0M386 186C390 189 404 198 410 205C416 212 422 216 425 226C428 236 428 256 426 262C424 268 415 260 410 262C405 264 399 269 396 272C393 275 389 278 390 282C391 286 394 291 400 296C406 301 416 306 426 310C436 314 451 319 460 320C469 321 475 317 482 314C489 311 495 305 500 300C505 295 510 287 512 284M275 365C281 365 298 364 310 365C322 366 335 366 345 370C355 374 363 381 370 390C377 399 380 413 385 425C390 437 393 451 400 460C407 469 420 471 425 480C430 489 429 507 430 512" stroke="#ff1c1c" stroke-width="18.7" fill="none" stroke-linecap="round" stroke-linejoin="round"/><path d="M56 8C56 12 55 27 55 35C55 43 58 52 58 55M122 6C127 10 141 23 150 28C159 33 167 34 176 34C185 34 198 30 204 26C210 22 211 11 212 8M204 26C209 28 226 34 234 40C242 46 245 54 250 60C255 66 260 73 262 76M226 182C227 188 229 204 230 215C231 226 233 238 234 250C235 262 235 277 235 290C235 303 233 323 233 330M480 8C481 13 486 28 485 40C484 52 480 67 476 80C472 93 465 108 460 120C455 132 450 142 446 150C442 158 438 162 436 165M125 260C129 263 139 273 150 280C161 287 178 294 190 300C202 306 213 311 220 316C227 321 232 326 230 330C228 334 215 337 210 340C205 343 200 345 198 346M275 365C275 372 274 396 275 410C276 424 276 440 280 450C284 460 292 465 300 470C308 475 320 478 330 480C340 482 350 482 360 480C370 478 383 473 390 470C397 467 398 462 400 460M280 450C282 456 290 475 295 485C300 495 308 508 310 512M470 460C471 455 476 439 475 430C474 421 468 410 465 405C462 400 458 401 457 400" stroke="#ff1c1c" stroke-width="21.2" fill="none" stroke-linecap="round" stroke-linejoin="round"/><path d="M170 156C175 158 191 164 200 168C209 172 218 176 226 180C234 184 240 189 246 190C252 191 256 185 262 185C268 185 275 189 285 190C295 191 308 191 320 190C332 189 348 188 360 185C372 182 382 176 390 170C398 164 407 159 410 150C413 141 412 125 410 115C408 105 404 98 400 90C396 82 390 78 385 70C380 62 374 45 372 40M170 156C168 162 165 181 160 190C155 199 148 203 140 210C132 217 123 225 115 230C107 235 99 238 90 240C81 242 70 242 60 240C50 238 38 232 30 225C22 218 15 209 10 200C5 191 2 175 0 170M480 8C485 10 503 18 510 20C517 22 518 22 520 22M262 88L272 110M225 450C231 451 251 455 260 455C269 455 277 451 280 450" stroke="#ff1c1c" stroke-width="15.3" fill="none" stroke-linecap="round" stroke-linejoin="round"/><path d="M410 150C414 152 428 157 436 162C444 167 453 172 460 180C467 188 473 202 480 210C487 218 493 225 500 230C507 235 517 240 520 242M60 240C61 244 66 254 64 262C62 270 54 281 50 290C46 299 38 308 40 315C42 322 52 328 60 335C68 342 80 348 90 355C100 362 112 368 120 375C128 382 137 386 140 395C143 404 142 419 140 430C138 441 134 451 130 460C126 469 120 477 115 485C110 493 102 504 100 508M60 490C63 492 73 502 80 505C87 508 97 509 100 510M400 460C406 462 423 470 435 470C447 470 459 462 470 460C481 458 492 461 500 460C508 459 517 456 520 455" stroke="#ff1c1c" stroke-width="13.6" fill="none" stroke-linecap="round" stroke-linejoin="round"/><path d="M425 226C429 224 443 216 450 215C457 214 463 219 466 220" stroke="#ff1c1c" stroke-width="17.0" fill="none" stroke-linecap="round" stroke-linejoin="round"/><text x="434" y="157" style="font-size:52px;font-weight:bold;fill:#ececf4;text-anchor:middle">*</text><text x="272" y="357" style="font-size:52px;font-weight:bold;fill:#ececf4;text-anchor:middle">*</text></svg>
<svg x="281.2" y="591.7" width="108.6" height="106.5" viewBox="0 0 520 520" preserveAspectRatio="none"><rect width="520" height="520" fill="#000"/><rect width="520" height="520" fill="url(#spG)"/><path d="M0 30C4 29 17 26 25 25C33 24 45 25 50 22C55 19 55 10 56 8M56 8C56 12 55 27 55 35C55 43 58 52 58 55M0 80C3 79 13 74 20 72C27 70 34 68 40 65C46 62 52 55 58 55C64 55 69 61 76 65C83 69 92 75 100 80C108 85 119 91 125 96C131 101 132 107 136 112C140 117 144 121 150 128C156 135 167 151 170 156M125 100C121 103 107 112 100 118C93 124 84 130 82 134C80 138 85 139 86 140M122 6C127 10 141 23 150 28C159 33 167 34 176 34C185 34 198 30 204 26C210 22 211 11 212 8M204 26C209 28 226 34 234 40C242 46 245 54 250 60C255 66 260 73 262 76M170 156C175 158 191 164 200 168C209 172 218 176 226 180C234 184 240 189 246 190C252 191 256 185 262 185C268 185 275 189 285 190C295 191 308 191 320 190C332 189 348 188 360 185C372 182 382 176 390 170C398 164 407 159 410 150C413 141 412 125 410 115C408 105 404 98 400 90C396 82 390 78 385 70C380 62 374 45 372 40M170 156C168 162 165 181 160 190C155 199 148 203 140 210C132 217 123 225 115 230C107 235 99 238 90 240C81 242 70 242 60 240C50 238 38 232 30 225C22 218 15 209 10 200C5 191 2 175 0 170M226 182C227 188 229 204 230 215C231 226 233 238 234 250C235 262 235 277 235 290C235 303 233 323 233 330M262 50C270 49 295 46 310 45C325 44 340 44 350 42C360 40 368 40 372 35C376 30 376 16 376 10C376 4 371 2 370 0M480 8C481 13 486 28 485 40C484 52 480 67 476 80C472 93 465 108 460 120C455 132 450 142 446 150C442 158 438 162 436 165M480 8C485 10 503 18 510 20C517 22 518 22 520 22M410 150C414 152 428 157 436 162C444 167 453 172 460 180C467 188 473 202 480 210C487 218 493 225 500 230C507 235 517 240 520 242M386 186C390 189 404 198 410 205C416 212 422 216 425 226C428 236 428 256 426 262C424 268 415 260 410 262C405 264 399 269 396 272C393 275 389 278 390 282C391 286 394 291 400 296C406 301 416 306 426 310C436 314 451 319 460 320C469 321 475 317 482 314C489 311 495 305 500 300C505 295 510 287 512 284M425 226C429 224 443 216 450 215C457 214 463 219 466 220M262 88L272 110M60 240C61 244 66 254 64 262C62 270 54 281 50 290C46 299 38 308 40 315C42 322 52 328 60 335C68 342 80 348 90 355C100 362 112 368 120 375C128 382 137 386 140 395C143 404 142 419 140 430C138 441 134 451 130 460C126 469 120 477 115 485C110 493 102 504 100 508M125 260C129 263 139 273 150 280C161 287 178 294 190 300C202 306 213 311 220 316C227 321 232 326 230 330C228 334 215 337 210 340C205 343 200 345 198 346M60 490C63 492 73 502 80 505C87 508 97 509 100 510M275 365C281 365 298 364 310 365C322 366 335 366 345 370C355 374 363 381 370 390C377 399 380 413 385 425C390 437 393 451 400 460C407 469 420 471 425 480C430 489 429 507 430 512M275 365C275 372 274 396 275 410C276 424 276 440 280 450C284 460 292 465 300 470C308 475 320 478 330 480C340 482 350 482 360 480C370 478 383 473 390 470C397 467 398 462 400 460M225 450C231 451 251 455 260 455C269 455 277 451 280 450M280 450C282 456 290 475 295 485C300 495 308 508 310 512M400 460C406 462 423 470 435 470C447 470 459 462 470 460C481 458 492 461 500 460C508 459 517 456 520 455M470 460C471 455 476 439 475 430C474 421 468 410 465 405C462 400 458 401 457 400" stroke="#0c5a12" stroke-width="13.5" fill="none" stroke-linecap="round" stroke-linejoin="round"/><path d="M0 30C4 29 17 26 25 25C33 24 45 25 50 22C55 19 55 10 56 8M56 8C56 12 55 27 55 35C55 43 58 52 58 55M0 80C3 79 13 74 20 72C27 70 34 68 40 65C46 62 52 55 58 55C64 55 69 61 76 65C83 69 92 75 100 80C108 85 119 91 125 96C131 101 132 107 136 112C140 117 144 121 150 128C156 135 167 151 170 156M125 100C121 103 107 112 100 118C93 124 84 130 82 134C80 138 85 139 86 140M122 6C127 10 141 23 150 28C159 33 167 34 176 34C185 34 198 30 204 26C210 22 211 11 212 8M204 26C209 28 226 34 234 40C242 46 245 54 250 60C255 66 260 73 262 76M170 156C175 158 191 164 200 168C209 172 218 176 226 180C234 184 240 189 246 190C252 191 256 185 262 185C268 185 275 189 285 190C295 191 308 191 320 190C332 189 348 188 360 185C372 182 382 176 390 170C398 164 407 159 410 150C413 141 412 125 410 115C408 105 404 98 400 90C396 82 390 78 385 70C380 62 374 45 372 40M170 156C168 162 165 181 160 190C155 199 148 203 140 210C132 217 123 225 115 230C107 235 99 238 90 240C81 242 70 242 60 240C50 238 38 232 30 225C22 218 15 209 10 200C5 191 2 175 0 170M226 182C227 188 229 204 230 215C231 226 233 238 234 250C235 262 235 277 235 290C235 303 233 323 233 330M262 50C270 49 295 46 310 45C325 44 340 44 350 42C360 40 368 40 372 35C376 30 376 16 376 10C376 4 371 2 370 0M480 8C481 13 486 28 485 40C484 52 480 67 476 80C472 93 465 108 460 120C455 132 450 142 446 150C442 158 438 162 436 165M480 8C485 10 503 18 510 20C517 22 518 22 520 22M410 150C414 152 428 157 436 162C444 167 453 172 460 180C467 188 473 202 480 210C487 218 493 225 500 230C507 235 517 240 520 242M386 186C390 189 404 198 410 205C416 212 422 216 425 226C428 236 428 256 426 262C424 268 415 260 410 262C405 264 399 269 396 272C393 275 389 278 390 282C391 286 394 291 400 296C406 301 416 306 426 310C436 314 451 319 460 320C469 321 475 317 482 314C489 311 495 305 500 300C505 295 510 287 512 284M425 226C429 224 443 216 450 215C457 214 463 219 466 220M262 88L272 110M60 240C61 244 66 254 64 262C62 270 54 281 50 290C46 299 38 308 40 315C42 322 52 328 60 335C68 342 80 348 90 355C100 362 112 368 120 375C128 382 137 386 140 395C143 404 142 419 140 430C138 441 134 451 130 460C126 469 120 477 115 485C110 493 102 504 100 508M125 260C129 263 139 273 150 280C161 287 178 294 190 300C202 306 213 311 220 316C227 321 232 326 230 330C228 334 215 337 210 340C205 343 200 345 198 346M60 490C63 492 73 502 80 505C87 508 97 509 100 510M275 365C281 365 298 364 310 365C322 366 335 366 345 370C355 374 363 381 370 390C377 399 380 413 385 425C390 437 393 451 400 460C407 469 420 471 425 480C430 489 429 507 430 512M275 365C275 372 274 396 275 410C276 424 276 440 280 450C284 460 292 465 300 470C308 475 320 478 330 480C340 482 350 482 360 480C370 478 383 473 390 470C397 467 398 462 400 460M225 450C231 451 251 455 260 455C269 455 277 451 280 450M280 450C282 456 290 475 295 485C300 495 308 508 310 512M400 460C406 462 423 470 435 470C447 470 459 462 470 460C481 458 492 461 500 460C508 459 517 456 520 455M470 460C471 455 476 439 475 430C474 421 468 410 465 405C462 400 458 401 457 400" stroke="#36ea36" stroke-width="7.5" fill="none" stroke-linecap="round" stroke-linejoin="round"/><circle cx="510" cy="20" r="14" fill="#36ea36"/><circle cx="426" cy="310" r="12" fill="#36ea36"/><circle cx="25" cy="25" r="10" fill="#36ea36"/><circle cx="115" cy="485" r="8" fill="#36ea36"/><circle cx="234" cy="250" r="13" fill="#36ea36"/><circle cx="310" cy="365" r="14" fill="#36ea36"/><circle cx="226" cy="180" r="9" fill="#36ea36"/><circle cx="360" cy="185" r="11" fill="#36ea36"/><circle cx="320" cy="190" r="11" fill="#36ea36"/><circle cx="400" cy="460" r="14" fill="#36ea36"/><text x="434" y="157" style="font-size:52px;font-weight:bold;fill:#ececf4;text-anchor:middle">*</text><text x="272" y="357" style="font-size:52px;font-weight:bold;fill:#ececf4;text-anchor:middle">*</text></svg>
<svg x="391.2" y="591.7" width="106.6" height="106.5" viewBox="0 0 520 520" preserveAspectRatio="none"><rect width="520" height="520" fill="#000"/><rect width="520" height="520" fill="url(#spC3)"/><path d="M0 30C4 29 17 26 25 25C33 24 45 25 50 22C55 19 55 10 56 8M56 8C56 12 55 27 55 35C55 43 58 52 58 55M0 80C3 79 13 74 20 72C27 70 34 68 40 65C46 62 52 55 58 55C64 55 69 61 76 65C83 69 92 75 100 80C108 85 119 91 125 96C131 101 132 107 136 112C140 117 144 121 150 128C156 135 167 151 170 156M125 100C121 103 107 112 100 118C93 124 84 130 82 134C80 138 85 139 86 140M122 6C127 10 141 23 150 28C159 33 167 34 176 34C185 34 198 30 204 26C210 22 211 11 212 8M204 26C209 28 226 34 234 40C242 46 245 54 250 60C255 66 260 73 262 76M170 156C175 158 191 164 200 168C209 172 218 176 226 180C234 184 240 189 246 190C252 191 256 185 262 185C268 185 275 189 285 190C295 191 308 191 320 190C332 189 348 188 360 185C372 182 382 176 390 170C398 164 407 159 410 150C413 141 412 125 410 115C408 105 404 98 400 90C396 82 390 78 385 70C380 62 374 45 372 40M170 156C168 162 165 181 160 190C155 199 148 203 140 210C132 217 123 225 115 230C107 235 99 238 90 240C81 242 70 242 60 240C50 238 38 232 30 225C22 218 15 209 10 200C5 191 2 175 0 170M226 182C227 188 229 204 230 215C231 226 233 238 234 250C235 262 235 277 235 290C235 303 233 323 233 330M262 50C270 49 295 46 310 45C325 44 340 44 350 42C360 40 368 40 372 35C376 30 376 16 376 10C376 4 371 2 370 0M480 8C481 13 486 28 485 40C484 52 480 67 476 80C472 93 465 108 460 120C455 132 450 142 446 150C442 158 438 162 436 165M480 8C485 10 503 18 510 20C517 22 518 22 520 22M410 150C414 152 428 157 436 162C444 167 453 172 460 180C467 188 473 202 480 210C487 218 493 225 500 230C507 235 517 240 520 242M386 186C390 189 404 198 410 205C416 212 422 216 425 226C428 236 428 256 426 262C424 268 415 260 410 262C405 264 399 269 396 272C393 275 389 278 390 282C391 286 394 291 400 296C406 301 416 306 426 310C436 314 451 319 460 320C469 321 475 317 482 314C489 311 495 305 500 300C505 295 510 287 512 284M425 226C429 224 443 216 450 215C457 214 463 219 466 220M262 88L272 110M60 240C61 244 66 254 64 262C62 270 54 281 50 290C46 299 38 308 40 315C42 322 52 328 60 335C68 342 80 348 90 355C100 362 112 368 120 375C128 382 137 386 140 395C143 404 142 419 140 430C138 441 134 451 130 460C126 469 120 477 115 485C110 493 102 504 100 508M125 260C129 263 139 273 150 280C161 287 178 294 190 300C202 306 213 311 220 316C227 321 232 326 230 330C228 334 215 337 210 340C205 343 200 345 198 346M60 490C63 492 73 502 80 505C87 508 97 509 100 510M275 365C281 365 298 364 310 365C322 366 335 366 345 370C355 374 363 381 370 390C377 399 380 413 385 425C390 437 393 451 400 460C407 469 420 471 425 480C430 489 429 507 430 512M275 365C275 372 274 396 275 410C276 424 276 440 280 450C284 460 292 465 300 470C308 475 320 478 330 480C340 482 350 482 360 480C370 478 383 473 390 470C397 467 398 462 400 460M225 450C231 451 251 455 260 455C269 455 277 451 280 450M280 450C282 456 290 475 295 485C300 495 308 508 310 512M400 460C406 462 423 470 435 470C447 470 459 462 470 460C481 458 492 461 500 460C508 459 517 456 520 455M470 460C471 455 476 439 475 430C474 421 468 410 465 405C462 400 458 401 457 400" stroke="#0a3636" stroke-width="11.5" fill="none" stroke-linecap="round" stroke-linejoin="round"/><path d="M0 30C4 29 17 26 25 25C33 24 45 25 50 22C55 19 55 10 56 8M56 8C56 12 55 27 55 35C55 43 58 52 58 55M0 80C3 79 13 74 20 72C27 70 34 68 40 65C46 62 52 55 58 55C64 55 69 61 76 65C83 69 92 75 100 80C108 85 119 91 125 96C131 101 132 107 136 112C140 117 144 121 150 128C156 135 167 151 170 156M125 100C121 103 107 112 100 118C93 124 84 130 82 134C80 138 85 139 86 140M122 6C127 10 141 23 150 28C159 33 167 34 176 34C185 34 198 30 204 26C210 22 211 11 212 8M204 26C209 28 226 34 234 40C242 46 245 54 250 60C255 66 260 73 262 76M170 156C175 158 191 164 200 168C209 172 218 176 226 180C234 184 240 189 246 190C252 191 256 185 262 185C268 185 275 189 285 190C295 191 308 191 320 190C332 189 348 188 360 185C372 182 382 176 390 170C398 164 407 159 410 150C413 141 412 125 410 115C408 105 404 98 400 90C396 82 390 78 385 70C380 62 374 45 372 40M170 156C168 162 165 181 160 190C155 199 148 203 140 210C132 217 123 225 115 230C107 235 99 238 90 240C81 242 70 242 60 240C50 238 38 232 30 225C22 218 15 209 10 200C5 191 2 175 0 170M226 182C227 188 229 204 230 215C231 226 233 238 234 250C235 262 235 277 235 290C235 303 233 323 233 330M262 50C270 49 295 46 310 45C325 44 340 44 350 42C360 40 368 40 372 35C376 30 376 16 376 10C376 4 371 2 370 0M480 8C481 13 486 28 485 40C484 52 480 67 476 80C472 93 465 108 460 120C455 132 450 142 446 150C442 158 438 162 436 165M480 8C485 10 503 18 510 20C517 22 518 22 520 22M410 150C414 152 428 157 436 162C444 167 453 172 460 180C467 188 473 202 480 210C487 218 493 225 500 230C507 235 517 240 520 242M386 186C390 189 404 198 410 205C416 212 422 216 425 226C428 236 428 256 426 262C424 268 415 260 410 262C405 264 399 269 396 272C393 275 389 278 390 282C391 286 394 291 400 296C406 301 416 306 426 310C436 314 451 319 460 320C469 321 475 317 482 314C489 311 495 305 500 300C505 295 510 287 512 284M425 226C429 224 443 216 450 215C457 214 463 219 466 220M262 88L272 110M60 240C61 244 66 254 64 262C62 270 54 281 50 290C46 299 38 308 40 315C42 322 52 328 60 335C68 342 80 348 90 355C100 362 112 368 120 375C128 382 137 386 140 395C143 404 142 419 140 430C138 441 134 451 130 460C126 469 120 477 115 485C110 493 102 504 100 508M125 260C129 263 139 273 150 280C161 287 178 294 190 300C202 306 213 311 220 316C227 321 232 326 230 330C228 334 215 337 210 340C205 343 200 345 198 346M60 490C63 492 73 502 80 505C87 508 97 509 100 510M275 365C281 365 298 364 310 365C322 366 335 366 345 370C355 374 363 381 370 390C377 399 380 413 385 425C390 437 393 451 400 460C407 469 420 471 425 480C430 489 429 507 430 512M275 365C275 372 274 396 275 410C276 424 276 440 280 450C284 460 292 465 300 470C308 475 320 478 330 480C340 482 350 482 360 480C370 478 383 473 390 470C397 467 398 462 400 460M225 450C231 451 251 455 260 455C269 455 277 451 280 450M280 450C282 456 290 475 295 485C300 495 308 508 310 512M400 460C406 462 423 470 435 470C447 470 459 462 470 460C481 458 492 461 500 460C508 459 517 456 520 455M470 460C471 455 476 439 475 430C474 421 468 410 465 405C462 400 458 401 457 400" stroke="#2ab8b8" stroke-width="5.5" fill="none" stroke-linecap="round" stroke-linejoin="round"/><text x="434" y="157" style="font-size:52px;font-weight:bold;fill:#ececf4;text-anchor:middle">*</text><text x="272" y="357" style="font-size:52px;font-weight:bold;fill:#ececf4;text-anchor:middle">*</text><rect x="339" y="460" width="142" height="7" fill="#fff"/></svg>
<text x="69.3" y="385.8" class="ml">K</text>
<text x="69.3" y="496.3" class="ml">L</text>
<text x="66" y="605.3" class="ml">M</text>
<text x="144.6" y="380.4" style="font-size:7.5px;font-weight:bold;fill:#f4f4f4" textLength="24.2" lengthAdjust="spacingAndGlyphs">Merge</text>
<text x="254.2" y="381" style="font-size:8px;font-weight:bold;fill:#d83040" textLength="21.2" lengthAdjust="spacingAndGlyphs">Col-IV</text>
<text x="362.3" y="380.8" style="font-size:8px;font-weight:bold;fill:#50e450" textLength="15.8" lengthAdjust="spacingAndGlyphs">NG2</text>
<text x="445.2" y="382.1" style="font-size:8px;font-weight:bold;fill:#4ad8d0" textLength="49" lengthAdjust="spacingAndGlyphs">CD31/CD105</text>
<line x1="33.3" y1="372" x2="33.3" y2="698" stroke="#1a1a1a" stroke-width="1.2"/>
<text transform="translate(28.2,532.1) rotate(-90)" class="rl" textLength="33.8" lengthAdjust="spacingAndGlyphs">Day 14</text>
<text transform="translate(56.5,431.2) rotate(-90)" class="rl" textLength="24.9" lengthAdjust="spacingAndGlyphs">+Veh</text>
<text transform="translate(56.6,534.7) rotate(-90)" class="rl" textLength="24.4" lengthAdjust="spacingAndGlyphs">+STZ</text>
<text transform="translate(56.4,643) rotate(-90)" class="rl" textLength="48" lengthAdjust="spacingAndGlyphs">+STZ +Ins</text>
</svg></body></html>
